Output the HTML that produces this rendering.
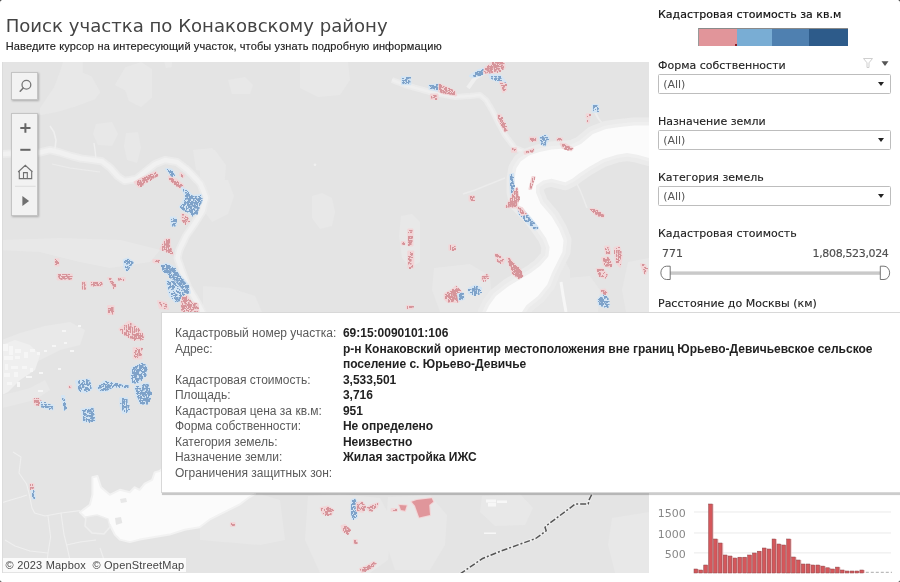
<!DOCTYPE html>
<html lang="ru"><head><meta charset="utf-8"><title>Поиск участка по Конаковскому району</title>
<style>
*{margin:0;padding:0;box-sizing:border-box}
html,body{width:900px;height:582px;overflow:hidden;background:#fff}
body{position:relative;font-family:"Liberation Sans","DejaVu Sans",sans-serif;color:#333}
.abs{position:absolute;white-space:nowrap}
#title{left:5.7px;top:14.9px;font-family:"DejaVu Sans",sans-serif;font-size:18.1px;line-height:22px;color:#444;font-weight:400}
#sub{left:5.8px;top:38.7px;font-size:11px;line-height:14px;color:#222;letter-spacing:0.125px;-webkit-text-stroke:0.15px #222}
#map{position:absolute;left:1.6px;top:62px;width:647.2px;height:510.8px;background:#e4e4e4;overflow:hidden;border-left:1px solid #dcdcdc}
#map>svg{position:absolute;left:-0.6px;top:0}
.ctl{position:absolute;left:8.8px;width:27px;background:#f2f2f2;border:1px solid #c4c4c4;box-shadow:1px 1px 2px rgba(0,0,0,.25)}
#attr{position:absolute;left:0.7px;top:495.8px;height:14.4px;padding:0 1.5px 0 2.3px;background:rgba(255,255,255,.8);font-size:11px;line-height:15px;color:#444;letter-spacing:0.2px}
#right{position:absolute;left:650px;top:0;width:250px;height:582px}
.rp{font-family:"DejaVu Sans",sans-serif;font-size:11px;color:#222}
.lbl{position:absolute;left:8px;line-height:13px;white-space:nowrap;-webkit-text-stroke:0.12px #222}
.dd{position:absolute;left:8.2px;width:233.1px;height:19.5px;border:1px solid #bdbdbd;border-radius:1.5px;background:#fff}
.dd span{position:absolute;left:4px;top:3px;color:#555;line-height:13px}
.dd i{position:absolute;right:6px;top:7px;width:0;height:0;border-left:3.5px solid transparent;border-right:3.5px solid transparent;border-top:4.5px solid #222}
#tip{position:absolute;left:161.4px;top:312.2px;width:745px;height:180.6px;background:#fff;border:1.4px solid #d8d8d8;box-shadow:1px 2px 0.8px rgba(0,0,0,.2)}
#tip .l{position:absolute;left:12.5px;color:#5a5a5a;font-size:12px;line-height:15.5px;white-space:nowrap}
#tip .v{position:absolute;left:180.5px;color:#222;font-weight:bold;font-size:12px;line-height:15.5px;white-space:nowrap}
</style></head><body>
<div id="title" class="abs">Поиск участка по Конаковскому району</div>
<div id="sub" class="abs">Наведите курсор на интересующий участок, чтобы узнать подробную информацию</div>

<div id="map">
<svg width="647" height="511" viewBox="2 62 647 511"><polygon points="300.0,62.0 348.0,62.0 350.0,80.0 340.0,95.0 318.0,97.0 300.0,88.0" fill="#e8e8e8"/>
<polygon points="228.0,80.0 245.0,77.0 253.0,85.0 250.0,94.0 232.0,94.0" fill="#e8e8e8"/>
<polygon points="200.0,153.0 215.0,150.0 226.0,165.0 224.0,190.0 210.0,200.0 200.0,195.0" fill="#e8e8e8"/>
<polygon points="308.0,496.0 340.0,494.0 380.0,498.0 392.0,520.0 388.0,560.0 370.0,573.0 320.0,573.0 305.0,540.0" fill="#e8e8e8"/>
<polygon points="567.0,278.0 590.0,276.0 600.0,290.0 598.0,312.0 567.0,312.0" fill="#e8e8e8"/>
<polygon points="628.0,262.0 649.0,258.0 649.0,312.0 626.0,312.0 622.0,290.0" fill="#e8e8e8"/>
<polygon points="545.0,262.0 562.0,255.0 570.0,270.0 570.0,312.0 528.0,312.0 535.0,290.0" fill="#e8e8e8"/>
<polygon points="312.0,196.0 322.0,193.0 332.0,198.0 335.0,212.0 332.0,226.0 320.0,229.0 312.0,218.0" fill="#e8e8e8"/>
<polygon points="401.0,216.0 412.0,214.0 420.0,222.0 420.0,262.0 410.0,268.0 402.0,258.0 399.0,236.0" fill="#e8e8e8"/>
<polygon points="204.0,180.0 228.0,180.0 234.0,196.0 228.0,214.0 212.0,222.0 203.0,210.0" fill="#e8e8e8"/>
<polygon points="203.0,286.0 230.0,288.0 255.0,296.0 262.0,312.0 203.0,312.0" fill="#e8e8e8"/>
<polygon points="434.0,268.0 470.0,264.0 490.0,276.0 492.0,300.0 480.0,312.0 440.0,312.0 432.0,290.0" fill="#e8e8e8"/>
<polygon points="63.0,62.0 82.7,62.0 82.7,72.7 91.6,76.2 100.4,92.2 95.0,99.3 75.6,106.4 57.8,111.8 40.0,115.3 40.0,108.0 47.0,97.6 54.2,87.0 59.6,72.7" fill="#e8e8e8"/>
<polygon points="125.3,67.3 141.3,62.0 152.0,69.0 152.0,97.6 141.3,107.3 128.9,101.0 125.3,90.4 114.7,85.0" fill="#e8e8e8"/>
<polygon points="164.4,62.0 172.0,62.0 171.6,67.3 166.0,68.0" fill="#e8e8e8"/>
<polygon points="96.0,124.0 112.0,122.0 118.0,134.0 112.0,146.0 98.0,145.0 93.0,134.0" fill="#e8e8e8"/>
<polygon points="126.0,133.0 138.0,132.0 141.0,148.0 137.0,163.0 127.0,160.0 124.0,146.0" fill="#e8e8e8"/>
<polygon points="193.0,150.0 212.0,148.0 222.0,160.0 212.0,172.0 196.0,170.0" fill="#e8e8e8"/>
<polygon points="0.0,250.0 40.0,252.0 80.0,262.0 110.0,268.0 150.0,262.0 160.0,250.0 120.0,240.0 60.0,238.0 0.0,240.0" fill="#e8e8e8"/>
<polygon points="388.0,497.0 430.0,495.0 447.0,515.0 445.0,545.0 430.0,570.0 395.0,570.0 385.0,540.0" fill="#e8e8e8"/>
<polygon points="482.0,496.0 520.0,494.0 533.0,508.0 525.0,525.0 495.0,526.0 480.0,512.0" fill="#e8e8e8"/>
<polygon points="612.0,518.0 649.0,512.0 649.0,573.0 615.0,573.0 608.0,545.0" fill="#e8e8e8"/>
<polygon points="330.0,470.0 420.0,475.0 430.0,494.0 320.0,494.0" fill="#e8e8e8"/>
<polygon points="2.0,340.0 20.0,333.0 45.0,326.0 70.0,322.0 85.0,330.0 80.0,345.0 60.0,350.0 40.0,360.0 25.0,372.0 10.0,385.0 2.0,388.0" fill="#e9e9e9"/>
<polygon points="2.0,345.0 15.0,340.0 30.0,345.0 40.0,355.0 35.0,370.0 20.0,380.0 8.0,392.0 2.0,395.0" fill="#efefef"/>
<polygon points="2.0,395.0 15.0,392.0 30.0,388.0 45.0,380.0 50.0,390.0 35.0,400.0 15.0,405.0 2.0,408.0" fill="#e8e8e8"/>
<rect x="3" y="344" width="5" height="7" fill="#f6f6f6"/>
<rect x="9" y="346" width="4" height="9" fill="#f6f6f6"/>
<rect x="15" y="349" width="6" height="4" fill="#f6f6f6"/>
<rect x="4" y="356" width="9" height="4" fill="#f6f6f6"/>
<rect x="15" y="356" width="5" height="3" fill="#f6f6f6"/>
<rect x="24" y="352" width="4" height="6" fill="#f6f6f6"/>
<rect x="30" y="349" width="5" height="3" fill="#f6f6f6"/>
<rect x="37" y="352" width="3" height="3" fill="#f6f6f6"/>
<rect x="5" y="364" width="3" height="6" fill="#f6f6f6"/>
<rect x="11" y="366" width="7" height="3" fill="#f6f6f6"/>
<rect x="4" y="373" width="6" height="4" fill="#f6f6f6"/>
<rect x="14" y="372" width="4" height="5" fill="#f6f6f6"/>
<rect x="22" y="366" width="5" height="3" fill="#f6f6f6"/>
<rect x="30" y="368" width="3" height="4" fill="#f6f6f6"/>
<rect x="7" y="382" width="5" height="3" fill="#f6f6f6"/>
<rect x="17" y="382" width="3" height="5" fill="#f6f6f6"/>
<rect x="26" y="376" width="6" height="2" fill="#f6f6f6"/>
<rect x="44" y="350" width="3" height="2" fill="#f6f6f6"/>
<rect x="52" y="345" width="4" height="2" fill="#f6f6f6"/>
<rect x="64" y="342" width="3" height="2" fill="#f6f6f6"/>
<rect x="70" y="350" width="4" height="2" fill="#f6f6f6"/>
<rect x="39" y="372" width="4" height="2" fill="#f6f6f6"/>
<rect x="58" y="368" width="3" height="2" fill="#f6f6f6"/>
<rect x="38" y="390" width="5" height="2" fill="#f6f6f6"/>
<rect x="78" y="325" width="3" height="2" fill="#f6f6f6"/>
<rect x="62" y="330" width="4" height="2" fill="#f6f6f6"/>
<polyline points="2.0,154.0 20.0,153.0 40.0,152.5 50.0,150.0 60.0,152.5 71.0,156.0 81.0,158.5 91.5,159.7 102.0,161.3 110.0,167.5 118.0,176.5 124.5,181.0 136.0,179.0 146.0,171.0 155.0,164.0 165.0,160.0 177.0,162.0 187.5,170.0 200.6,183.8 206.0,197.5 202.5,211.0 193.7,225.0 186.0,236.0 179.3,250.0 177.5,258.0 182.0,271.0 188.0,287.0 194.5,297.6 200.6,308.5 204.0,315.0" fill="none" stroke="#ebebeb" stroke-width="8" stroke-linejoin="round" stroke-linecap="round"/>
<polyline points="2.0,154.0 20.0,153.0 40.0,152.5 50.0,150.0 60.0,152.5 71.0,156.0 81.0,158.5 91.5,159.7 102.0,161.3 110.0,167.5 118.0,176.5 124.5,181.0 136.0,179.0 146.0,171.0 155.0,164.0 165.0,160.0 177.0,162.0 187.5,170.0 200.6,183.8 206.0,197.5 202.5,211.0 193.7,225.0 186.0,236.0 179.3,250.0 177.5,258.0 182.0,271.0 188.0,287.0 194.5,297.6 200.6,308.5 204.0,315.0" fill="none" stroke="#f1f1f1" stroke-width="4.5" stroke-linejoin="round" stroke-linecap="round"/>
<polyline points="55.0,149.0 56.0,140.0 54.0,132.0 50.0,126.0" fill="none" stroke="#efefef" stroke-width="1.6"/>
<polyline points="96.0,159.0 95.0,150.0 94.0,143.0" fill="none" stroke="#efefef" stroke-width="1.4"/>
<polyline points="52.0,164.0 70.0,168.0 85.0,170.0 100.0,172.0" fill="none" stroke="#ececec" stroke-width="1.2"/>
<polyline points="392.0,80.0 405.0,85.0 430.0,92.0 455.0,97.0 470.0,96.0 480.0,95.0 486.0,100.0 492.0,110.0 497.0,120.0 505.0,135.0 515.0,148.0 525.0,152.0" fill="none" stroke="#ebebeb" stroke-width="6" stroke-linejoin="round"/>
<polyline points="392.0,80.0 405.0,85.0 430.0,92.0 455.0,97.0 470.0,96.0 480.0,95.0 486.0,100.0 492.0,110.0 497.0,120.0 505.0,135.0 515.0,148.0 525.0,152.0" fill="none" stroke="#efefef" stroke-width="2.5" stroke-linejoin="round"/>
<polyline points="468.0,88.0 475.0,78.0 485.0,72.0 495.0,66.0 505.0,62.0" fill="none" stroke="#efefef" stroke-width="4" stroke-linejoin="round"/>
<polyline points="595.0,112.0 598.0,118.0 601.0,122.0 605.0,126.0 610.0,129.0" fill="none" stroke="#ececec" stroke-width="2" stroke-linejoin="round"/>
<polyline points="505.0,178.0 490.0,184.0 475.0,190.0 463.0,194.0" fill="none" stroke="#ececec" stroke-width="1.5"/>
<polyline points="575.0,180.0 580.0,190.0 584.0,200.0 587.0,208.0" fill="none" stroke="#ececec" stroke-width="1.5"/>
<polygon points="649.0,125.5 634.0,125.5 620.0,127.0 606.0,129.0 593.0,134.0 581.0,144.0 572.0,148.0 562.0,148.7 551.5,149.5 539.5,152.0 529.0,155.5 520.6,161.5 516.3,168.4 514.6,178.7 514.6,192.5 517.0,203.0 528.7,214.8 538.0,226.4 546.0,238.0 549.6,247.3 548.4,256.6 540.3,265.8 531.0,272.8 519.4,279.8 507.8,286.7 496.0,296.0 489.3,305.3 486.0,312.0 522.0,312.0 526.4,305.3 538.0,296.0 547.3,284.4 552.0,272.8 556.6,263.5 562.4,252.0 563.5,240.3 558.9,228.7 552.0,217.0 540.3,203.2 536.0,192.5 536.0,185.6 543.0,180.4 551.5,178.7 565.3,182.2 572.2,178.7 579.0,173.6 589.3,166.7 603.0,159.0 616.8,154.7 627.0,153.0 637.5,154.7 649.0,158.0" fill="#ebebeb" stroke="#ebebeb" stroke-width="16" stroke-linejoin="round"/>
<polygon points="649.0,125.5 634.0,125.5 620.0,127.0 606.0,129.0 593.0,134.0 581.0,144.0 572.0,148.0 562.0,148.7 551.5,149.5 539.5,152.0 529.0,155.5 520.6,161.5 516.3,168.4 514.6,178.7 514.6,192.5 517.0,203.0 528.7,214.8 538.0,226.4 546.0,238.0 549.6,247.3 548.4,256.6 540.3,265.8 531.0,272.8 519.4,279.8 507.8,286.7 496.0,296.0 489.3,305.3 486.0,312.0 522.0,312.0 526.4,305.3 538.0,296.0 547.3,284.4 552.0,272.8 556.6,263.5 562.4,252.0 563.5,240.3 558.9,228.7 552.0,217.0 540.3,203.2 536.0,192.5 536.0,185.6 543.0,180.4 551.5,178.7 565.3,182.2 572.2,178.7 579.0,173.6 589.3,166.7 603.0,159.0 616.8,154.7 627.0,153.0 637.5,154.7 649.0,158.0" fill="#efefef" stroke="#efefef" stroke-width="7" stroke-linejoin="round"/>
<polygon points="649.0,125.5 634.0,125.5 620.0,127.0 606.0,129.0 593.0,134.0 581.0,144.0 572.0,148.0 562.0,148.7 551.5,149.5 539.5,152.0 529.0,155.5 520.6,161.5 516.3,168.4 514.6,178.7 514.6,192.5 517.0,203.0 528.7,214.8 538.0,226.4 546.0,238.0 549.6,247.3 548.4,256.6 540.3,265.8 531.0,272.8 519.4,279.8 507.8,286.7 496.0,296.0 489.3,305.3 486.0,312.0 522.0,312.0 526.4,305.3 538.0,296.0 547.3,284.4 552.0,272.8 556.6,263.5 562.4,252.0 563.5,240.3 558.9,228.7 552.0,217.0 540.3,203.2 536.0,192.5 536.0,185.6 543.0,180.4 551.5,178.7 565.3,182.2 572.2,178.7 579.0,173.6 589.3,166.7 603.0,159.0 616.8,154.7 627.0,153.0 637.5,154.7 649.0,158.0" fill="#fbfbfb"/>
<polyline points="561.0,282.0 563.0,295.0 566.0,312.0" fill="none" stroke="#f6f6f6" stroke-width="3"/>
<circle cx="315" cy="164.7" r="1.3" fill="#f0f0f0"/>
<polygon points="200.0,494.0 260.0,494.0 280.0,500.0 285.0,540.0 260.0,545.0 200.0,540.0" fill="#e8e8e8"/>
<polygon points="92.4,477.3 97.4,476.0 101.0,487.3 109.8,494.8 119.8,489.8 129.8,492.3 134.7,487.3 139.7,489.8 144.7,483.6 152.2,479.8 154.7,472.4 159.6,471.0 163.0,468.0 255.0,468.0 255.0,494.0 249.3,497.3 239.4,504.7 229.4,509.7 219.4,514.7 209.5,519.7 199.5,527.2 184.6,529.7 169.6,534.6 154.7,537.1 139.7,539.6 129.8,542.1 119.8,539.6 114.8,534.6 109.8,524.7 97.4,522.2 84.9,517.2 79.9,512.2 89.9,504.7 92.4,494.8" fill="#fbfbfb" stroke="#f2f2f2" stroke-width="2" stroke-linejoin="round"/>
<polygon points="86.0,517.0 97.0,515.0 108.0,519.0 110.0,527.0 104.0,534.0 92.0,533.0 85.0,526.0" fill="#e6e6e6" stroke="#eeeeee" stroke-width="1.5"/>
<polygon points="115.0,518.0 121.0,517.0 122.3,523.0 116.0,525.0" fill="#e6e6e6"/>
<polygon points="120.0,499.0 126.0,498.0 127.0,502.0 121.0,503.0" fill="#e8e8e8"/>
<polyline points="13.0,452.0 21.0,457.0 19.0,473.0 26.6,484.0 29.3,494.6 32.0,508.0 34.6,513.0 45.0,516.0 61.0,513.0 80.0,510.6" fill="none" stroke="#efefef" stroke-width="1.1" stroke-linejoin="round"/>
<polyline points="2.5,502.6 10.7,500.0 21.0,497.0 27.0,495.0" fill="none" stroke="#efefef" stroke-width="1.1" stroke-linejoin="round"/>
<polyline points="48.0,516.0 50.6,537.0 48.0,553.0 46.0,572.0" fill="none" stroke="#efefef" stroke-width="1.1" stroke-linejoin="round"/>
<polyline points="61.0,513.0 64.0,534.6 66.6,545.0 70.0,560.0 68.0,572.0" fill="none" stroke="#efefef" stroke-width="1.1" stroke-linejoin="round"/>
<polyline points="5.0,540.0 15.0,546.0 30.0,551.0 48.0,553.0" fill="none" stroke="#efefef" stroke-width="1.1" stroke-linejoin="round"/>
<polyline points="66.6,545.0 80.0,542.0 96.0,540.0" fill="none" stroke="#efefef" stroke-width="1.1" stroke-linejoin="round"/>
<polyline points="100.0,548.0 104.0,560.0 108.0,572.0" fill="none" stroke="#efefef" stroke-width="1.1" stroke-linejoin="round"/>
<polyline points="460.0,574.0 482.0,558.8 500.7,551.1 535.7,538.5 546.2,530.8 545.0,527.3 547.3,525.0 575.3,504.0 588.2,504.0 589.3,499.3 593.0,492.0" fill="none" stroke="#efefef" stroke-width="3" stroke-linejoin="round"/>
<polyline points="460.0,574.0 482.0,558.8 500.7,551.1 535.7,538.5 546.2,530.8 545.0,527.3 547.3,525.0 575.3,504.0 588.2,504.0 589.3,499.3 593.0,492.0" fill="none" stroke="#555" stroke-width="1.5" stroke-dasharray="6,2,2,2" stroke-linejoin="round"/>
<rect x="486" y="499.5" width="10" height="3" fill="#f7f7f7"/>
<rect x="488" y="503" width="8" height="3.5" fill="#f7f7f7"/>
<rect x="497" y="500.5" width="10" height="2.5" fill="#f7f7f7"/>
<rect x="484" y="532.5" width="12" height="1.5" fill="#f7f7f7"/>
<defs><filter id="bl" x="-10%" y="-10%" width="120%" height="120%"><feGaussianBlur stdDeviation="0.4"/></filter></defs>
<polygon points="134.8,182.2 142.0,178.0 155.8,172.0 158.2,175.6 149.2,180.4 140.8,185.8 139.0,187.0" fill="#f2d6d8" stroke="#f2d6d8" stroke-width="2.2" stroke-linejoin="round"/>
<g fill="#d6949a" filter="url(#bl)"><rect x="155" y="172" width="1" height="2"/><rect x="154" y="173" width="1" height="1.5"/><rect x="150" y="174" width="1" height="2"/><rect x="151" y="174" width="1" height="1"/><rect x="152" y="174" width="1" height="1"/><rect x="156" y="174" width="2" height="1"/><rect x="148" y="175" width="1" height="1.5"/><rect x="149" y="175" width="1" height="1.5"/><rect x="150" y="175" width="1" height="1"/><rect x="153" y="175" width="1" height="1"/><rect x="155" y="175" width="2" height="1.5"/><rect x="156" y="175" width="2" height="1.5"/><rect x="157" y="175" width="1" height="1"/><rect x="146" y="176" width="1.5" height="2"/><rect x="149" y="176" width="1" height="1"/><rect x="150" y="176" width="1" height="1.5"/><rect x="151" y="176" width="2" height="2"/><rect x="152" y="176" width="1" height="1.5"/><rect x="153" y="176" width="1.5" height="2"/><rect x="155" y="176" width="1" height="1.5"/><rect x="156" y="176" width="1" height="1"/><rect x="144" y="177" width="2" height="1.5"/><rect x="147" y="177" width="2" height="1.5"/><rect x="148" y="177" width="1" height="2"/><rect x="149" y="177" width="1.5" height="1"/><rect x="151" y="177" width="2" height="1"/><rect x="152" y="177" width="2" height="1.5"/><rect x="142" y="178" width="2" height="1.5"/><rect x="144" y="178" width="1" height="1"/><rect x="145" y="178" width="1" height="1"/><rect x="147" y="178" width="1" height="1.5"/><rect x="148" y="178" width="1" height="2"/><rect x="149" y="178" width="1.5" height="1"/><rect x="151" y="178" width="1" height="2"/><rect x="143" y="179" width="2" height="2"/><rect x="144" y="179" width="2" height="1"/><rect x="145" y="179" width="1" height="2"/><rect x="146" y="179" width="1.5" height="1"/><rect x="147" y="179" width="1" height="1"/><rect x="150" y="179" width="1" height="2"/><rect x="138" y="180" width="1.5" height="1.5"/><rect x="140" y="180" width="1" height="2"/><rect x="142" y="180" width="2" height="1.5"/><rect x="143" y="180" width="1" height="1.5"/><rect x="145" y="180" width="1" height="1"/><rect x="146" y="180" width="1.5" height="1"/><rect x="137" y="181" width="1" height="1.5"/><rect x="138" y="181" width="1" height="1.5"/><rect x="140" y="181" width="1.5" height="1"/><rect x="144" y="181" width="1" height="2"/><rect x="146" y="181" width="2" height="1.5"/><rect x="137" y="182" width="1" height="1.5"/><rect x="138" y="182" width="1.5" height="1.5"/><rect x="139" y="182" width="1" height="1"/><rect x="140" y="182" width="1.5" height="1"/><rect x="141" y="182" width="1" height="2"/><rect x="143" y="182" width="1" height="1"/><rect x="137" y="183" width="1" height="2"/><rect x="139" y="183" width="2" height="2"/><rect x="140" y="183" width="1" height="1"/><rect x="141" y="183" width="1" height="1"/><rect x="142" y="183" width="2" height="1"/><rect x="137" y="184" width="1.5" height="1"/><rect x="138" y="184" width="1" height="1"/><rect x="139" y="184" width="1" height="1"/><rect x="140" y="184" width="1" height="1"/><rect x="141" y="184" width="1" height="1.5"/><rect x="142" y="184" width="1.5" height="1.5"/><rect x="138" y="185" width="1" height="1"/><rect x="140" y="185" width="2" height="2"/></g>
<polygon points="166.0,169.0 171.5,169.6 175.0,175.6 172.0,176.8 168.5,172.0" fill="#d4e5f4" stroke="#d4e5f4" stroke-width="2.2" stroke-linejoin="round"/>
<g fill="#7ea2c9" filter="url(#bl)"><rect x="167" y="169" width="1" height="1"/><rect x="168" y="170" width="1" height="2"/><rect x="170" y="170" width="1" height="1.5"/><rect x="168" y="171" width="2" height="1"/><rect x="170" y="171" width="1" height="1.5"/><rect x="171" y="171" width="1" height="2"/><rect x="172" y="171" width="1" height="2"/><rect x="169" y="172" width="1" height="1.5"/><rect x="170" y="172" width="2" height="1"/><rect x="171" y="173" width="1" height="2"/><rect x="172" y="173" width="1" height="2"/><rect x="173" y="173" width="1" height="1"/><rect x="170" y="174" width="1" height="1.5"/><rect x="173" y="174" width="1.5" height="1"/><rect x="171" y="175" width="1" height="2"/><rect x="172" y="175" width="1" height="2"/><rect x="174" y="175" width="1" height="1"/></g>
<polygon points="169.0,176.8 175.7,179.2 182.9,185.2 183.5,188.8 179.3,187.6 169.7,180.4" fill="#f2d6d8" stroke="#f2d6d8" stroke-width="2.2" stroke-linejoin="round"/>
<g fill="#d6949a" filter="url(#bl)"><rect x="169" y="178" width="2" height="1"/><rect x="170" y="178" width="1" height="1.5"/><rect x="171" y="178" width="2" height="2"/><rect x="169" y="179" width="1.5" height="1"/><rect x="170" y="179" width="1" height="1"/><rect x="171" y="179" width="1.5" height="1"/><rect x="173" y="179" width="1" height="2"/><rect x="171" y="180" width="2" height="1.5"/><rect x="172" y="180" width="1" height="1"/><rect x="173" y="180" width="1" height="1.5"/><rect x="171" y="181" width="1" height="1"/><rect x="172" y="181" width="1" height="2"/><rect x="173" y="181" width="2" height="1.5"/><rect x="175" y="181" width="1" height="1"/><rect x="177" y="181" width="1" height="1"/><rect x="174" y="182" width="1" height="1.5"/><rect x="175" y="182" width="1" height="1.5"/><rect x="176" y="182" width="1" height="1.5"/><rect x="177" y="182" width="1" height="1"/><rect x="178" y="182" width="1" height="2"/><rect x="174" y="183" width="2" height="2"/><rect x="175" y="183" width="2" height="1.5"/><rect x="178" y="183" width="1" height="2"/><rect x="176" y="184" width="1.5" height="2"/><rect x="177" y="184" width="1" height="2"/><rect x="180" y="184" width="1" height="1.5"/><rect x="181" y="184" width="1" height="1"/><rect x="176" y="185" width="1" height="1.5"/><rect x="177" y="185" width="1.5" height="1.5"/><rect x="178" y="185" width="1.5" height="1"/><rect x="179" y="185" width="1" height="1.5"/><rect x="180" y="185" width="2" height="1.5"/><rect x="181" y="185" width="1" height="1"/><rect x="182" y="185" width="1" height="1"/><rect x="178" y="186" width="1" height="1"/><rect x="179" y="186" width="1" height="2"/><rect x="180" y="186" width="1.5" height="1"/><rect x="181" y="186" width="1" height="2"/><rect x="180" y="187" width="1.5" height="1"/><rect x="181" y="187" width="2" height="1"/></g>
<polygon points="181.7,187.6 187.7,191.2 192.5,196.0 201.0,194.9 202.0,200.9 198.5,206.9 197.3,212.9 192.5,215.3 187.7,211.7 181.7,209.3 179.9,206.9 182.9,202.0 185.3,196.0" fill="#d4e5f4" stroke="#d4e5f4" stroke-width="2.2" stroke-linejoin="round"/>
<g fill="#7ea2c9" filter="url(#bl)"><rect x="183" y="189" width="1" height="1"/><rect x="183" y="190" width="1" height="1.5"/><rect x="185" y="190" width="2" height="1"/><rect x="187" y="191" width="1" height="1"/><rect x="185" y="192" width="2" height="1.5"/><rect x="188" y="192" width="1" height="1"/><rect x="187" y="193" width="2" height="1.5"/><rect x="186" y="194" width="1" height="1.5"/><rect x="187" y="194" width="1.5" height="1"/><rect x="188" y="194" width="1" height="2"/><rect x="189" y="194" width="1" height="1"/><rect x="185" y="195" width="1.5" height="2"/><rect x="186" y="195" width="1" height="1"/><rect x="187" y="195" width="1" height="2"/><rect x="188" y="195" width="2" height="1"/><rect x="191" y="195" width="1.5" height="2"/><rect x="200" y="195" width="1" height="1"/><rect x="186" y="196" width="1.5" height="1.5"/><rect x="187" y="196" width="1.5" height="1"/><rect x="189" y="196" width="2" height="2"/><rect x="190" y="196" width="1" height="2"/><rect x="192" y="196" width="1" height="2"/><rect x="193" y="196" width="1.5" height="1"/><rect x="195" y="196" width="1.5" height="2"/><rect x="196" y="196" width="1" height="1"/><rect x="198" y="196" width="1.5" height="1"/><rect x="199" y="196" width="1" height="1.5"/><rect x="187" y="197" width="1" height="1.5"/><rect x="189" y="197" width="1.5" height="2"/><rect x="191" y="197" width="1.5" height="2"/><rect x="199" y="197" width="2" height="2"/><rect x="185" y="198" width="1.5" height="2"/><rect x="186" y="198" width="1" height="1"/><rect x="187" y="198" width="1.5" height="1.5"/><rect x="188" y="198" width="1.5" height="2"/><rect x="190" y="198" width="2" height="1"/><rect x="191" y="198" width="1" height="1"/><rect x="192" y="198" width="2" height="1"/><rect x="193" y="198" width="1.5" height="2"/><rect x="194" y="198" width="1" height="1"/><rect x="195" y="198" width="1.5" height="1"/><rect x="196" y="198" width="1.5" height="1.5"/><rect x="198" y="198" width="1" height="2"/><rect x="199" y="198" width="1" height="2"/><rect x="200" y="198" width="1" height="2"/><rect x="201" y="198" width="1.5" height="1"/><rect x="188" y="199" width="1" height="2"/><rect x="189" y="199" width="2" height="2"/><rect x="193" y="199" width="1" height="2"/><rect x="196" y="199" width="2" height="1"/><rect x="197" y="199" width="2" height="2"/><rect x="198" y="199" width="1" height="1"/><rect x="199" y="199" width="1" height="2"/><rect x="200" y="199" width="1" height="1"/><rect x="184" y="200" width="1" height="1.5"/><rect x="188" y="200" width="1" height="1"/><rect x="189" y="200" width="1" height="2"/><rect x="190" y="200" width="1" height="1"/><rect x="193" y="200" width="1.5" height="1"/><rect x="195" y="200" width="1" height="1"/><rect x="198" y="200" width="1" height="1"/><rect x="201" y="200" width="1.5" height="1"/><rect x="185" y="201" width="1" height="1.5"/><rect x="187" y="201" width="2" height="1"/><rect x="188" y="201" width="1.5" height="1"/><rect x="189" y="201" width="1" height="1.5"/><rect x="191" y="201" width="2" height="1"/><rect x="192" y="201" width="1.5" height="1"/><rect x="195" y="201" width="1" height="2"/><rect x="196" y="201" width="1" height="1"/><rect x="198" y="201" width="1" height="1"/><rect x="199" y="201" width="1" height="1"/><rect x="200" y="201" width="1.5" height="1"/><rect x="184" y="202" width="1" height="2"/><rect x="185" y="202" width="2" height="1.5"/><rect x="187" y="202" width="1" height="1"/><rect x="188" y="202" width="1" height="1.5"/><rect x="189" y="202" width="1" height="1"/><rect x="190" y="202" width="1.5" height="2"/><rect x="191" y="202" width="2" height="1"/><rect x="192" y="202" width="2" height="1"/><rect x="193" y="202" width="2" height="1"/><rect x="195" y="202" width="2" height="1"/><rect x="196" y="202" width="2" height="1"/><rect x="198" y="202" width="1" height="1"/><rect x="200" y="202" width="1.5" height="1.5"/><rect x="184" y="203" width="1.5" height="1.5"/><rect x="185" y="203" width="1" height="1"/><rect x="187" y="203" width="2" height="2"/><rect x="191" y="203" width="2" height="1"/><rect x="192" y="203" width="1.5" height="1"/><rect x="194" y="203" width="1.5" height="2"/><rect x="195" y="203" width="1" height="1"/><rect x="196" y="203" width="1" height="1"/><rect x="197" y="203" width="1" height="2"/><rect x="199" y="203" width="2" height="1"/><rect x="182" y="204" width="1" height="1"/><rect x="183" y="204" width="2" height="2"/><rect x="184" y="204" width="1" height="2"/><rect x="185" y="204" width="1" height="1"/><rect x="187" y="204" width="1.5" height="1.5"/><rect x="188" y="204" width="1.5" height="1"/><rect x="189" y="204" width="1" height="1"/><rect x="190" y="204" width="1.5" height="1"/><rect x="191" y="204" width="2" height="1.5"/><rect x="194" y="204" width="1" height="2"/><rect x="196" y="204" width="2" height="1"/><rect x="199" y="204" width="1.5" height="1"/><rect x="181" y="205" width="1" height="1"/><rect x="183" y="205" width="1" height="2"/><rect x="187" y="205" width="1.5" height="1"/><rect x="188" y="205" width="1.5" height="1"/><rect x="189" y="205" width="1.5" height="1"/><rect x="192" y="205" width="1" height="1.5"/><rect x="193" y="205" width="1.5" height="1"/><rect x="195" y="205" width="1" height="2"/><rect x="197" y="205" width="1" height="2"/><rect x="199" y="205" width="1" height="1"/><rect x="180" y="206" width="1.5" height="2"/><rect x="183" y="206" width="1" height="1.5"/><rect x="186" y="206" width="1" height="1.5"/><rect x="188" y="206" width="2" height="1"/><rect x="190" y="206" width="1" height="2"/><rect x="191" y="206" width="1" height="2"/><rect x="193" y="206" width="1" height="1"/><rect x="194" y="206" width="1" height="2"/><rect x="195" y="206" width="1.5" height="1"/><rect x="196" y="206" width="1.5" height="1"/><rect x="180" y="207" width="2" height="1"/><rect x="181" y="207" width="1" height="2"/><rect x="182" y="207" width="2" height="1"/><rect x="186" y="207" width="1" height="2"/><rect x="188" y="207" width="2" height="1"/><rect x="190" y="207" width="1" height="2"/><rect x="191" y="207" width="1" height="1"/><rect x="194" y="207" width="1" height="1.5"/><rect x="195" y="207" width="2" height="1.5"/><rect x="197" y="207" width="1" height="2"/><rect x="198" y="207" width="1.5" height="2"/><rect x="182" y="208" width="1" height="2"/><rect x="183" y="208" width="2" height="2"/><rect x="186" y="208" width="1" height="1"/><rect x="187" y="208" width="1.5" height="1"/><rect x="191" y="208" width="1" height="1"/><rect x="193" y="208" width="1" height="1"/><rect x="182" y="209" width="1" height="1"/><rect x="183" y="209" width="2" height="1.5"/><rect x="186" y="209" width="1" height="1"/><rect x="189" y="209" width="1.5" height="1.5"/><rect x="191" y="209" width="1.5" height="2"/><rect x="192" y="209" width="1.5" height="1"/><rect x="193" y="209" width="1" height="1"/><rect x="194" y="209" width="1" height="1.5"/><rect x="197" y="209" width="1.5" height="1"/><rect x="185" y="210" width="1.5" height="2"/><rect x="189" y="210" width="2" height="1.5"/><rect x="190" y="210" width="1.5" height="1"/><rect x="191" y="210" width="1" height="2"/><rect x="192" y="210" width="1" height="1.5"/><rect x="194" y="210" width="1.5" height="1"/><rect x="196" y="210" width="1.5" height="2"/><rect x="197" y="210" width="1.5" height="1"/><rect x="186" y="211" width="1" height="1"/><rect x="187" y="211" width="1" height="1.5"/><rect x="188" y="211" width="1.5" height="1"/><rect x="189" y="211" width="1.5" height="1"/><rect x="190" y="211" width="2" height="1"/><rect x="191" y="211" width="1" height="1"/><rect x="192" y="211" width="1" height="1"/><rect x="195" y="211" width="1.5" height="1"/><rect x="196" y="211" width="1.5" height="2"/><rect x="190" y="212" width="1" height="1"/><rect x="191" y="212" width="1" height="2"/><rect x="192" y="212" width="1" height="1"/><rect x="194" y="212" width="1" height="1"/><rect x="195" y="212" width="2" height="1"/><rect x="197" y="212" width="1" height="2"/><rect x="191" y="213" width="2" height="2"/><rect x="192" y="213" width="2" height="1"/><rect x="193" y="213" width="1" height="1.5"/><rect x="194" y="213" width="1" height="1"/><rect x="195" y="213" width="1.5" height="1"/><rect x="196" y="213" width="2" height="1.5"/><rect x="191" y="214" width="1" height="1"/><rect x="193" y="214" width="1.5" height="1"/><rect x="192" y="215" width="1" height="1.5"/></g>
<polygon points="181.7,214.0 186.5,215.3 189.0,221.3 185.3,223.7 181.7,220.0" fill="#f2d6d8" stroke="#f2d6d8" stroke-width="2.2" stroke-linejoin="round"/>
<g fill="#d6949a" filter="url(#bl)"><rect x="182" y="214" width="2" height="1.5"/><rect x="185" y="216" width="1" height="2"/><rect x="182" y="217" width="1.5" height="1"/><rect x="186" y="217" width="1" height="1"/><rect x="187" y="217" width="1" height="1.5"/><rect x="184" y="218" width="1" height="1"/><rect x="187" y="218" width="1.5" height="1"/><rect x="185" y="219" width="2" height="1"/><rect x="186" y="219" width="1" height="1"/><rect x="187" y="219" width="1" height="1.5"/><rect x="182" y="220" width="1" height="1.5"/><rect x="183" y="220" width="2" height="1.5"/><rect x="184" y="220" width="1.5" height="1.5"/><rect x="185" y="220" width="1.5" height="1.5"/><rect x="183" y="221" width="1" height="2"/><rect x="184" y="221" width="1" height="1.5"/><rect x="186" y="221" width="1" height="1"/><rect x="188" y="221" width="2" height="1"/><rect x="185" y="222" width="1" height="1"/><rect x="185" y="223" width="1" height="2"/></g>
<polygon points="170.9,217.7 175.7,217.7 176.3,225.0 171.5,225.5" fill="#d4e5f4" stroke="#d4e5f4" stroke-width="2.2" stroke-linejoin="round"/>
<g fill="#7ea2c9" filter="url(#bl)"><rect x="173" y="218" width="1" height="1.5"/><rect x="171" y="219" width="1" height="1"/><rect x="174" y="219" width="1" height="1.5"/><rect x="175" y="219" width="2" height="2"/><rect x="173" y="220" width="1" height="1.5"/><rect x="174" y="220" width="1.5" height="2"/><rect x="171" y="221" width="2" height="1"/><rect x="173" y="221" width="1" height="1.5"/><rect x="175" y="221" width="2" height="1.5"/><rect x="171" y="222" width="2" height="1.5"/><rect x="173" y="222" width="2" height="1"/><rect x="174" y="222" width="1.5" height="1.5"/><rect x="172" y="224" width="1" height="1.5"/><rect x="174" y="224" width="1" height="1"/><rect x="172" y="225" width="2" height="1"/></g>
<polygon points="180.5,173.0 184.0,175.6 183.0,177.0 180.0,175.0" fill="#f2d6d8" stroke="#f2d6d8" stroke-width="2.2" stroke-linejoin="round"/>
<g fill="#d6949a" filter="url(#bl)"><rect x="181" y="174" width="1" height="1"/><rect x="181" y="175" width="1" height="2"/><rect x="182" y="175" width="1" height="2"/><rect x="182" y="176" width="1" height="1.5"/></g>
<polygon points="160.5,249.0 165.0,239.7 169.7,238.9 169.7,245.0 172.8,254.4 168.2,252.0" fill="#f2d6d8" stroke="#f2d6d8" stroke-width="2.2" stroke-linejoin="round"/>
<g fill="#d6949a" filter="url(#bl)"><rect x="166" y="239" width="1" height="1.5"/><rect x="168" y="239" width="2" height="1"/><rect x="166" y="240" width="2" height="1"/><rect x="168" y="240" width="1" height="1"/><rect x="168" y="240" width="2" height="2"/><rect x="164" y="241" width="1" height="2"/><rect x="166" y="241" width="2" height="1"/><rect x="166" y="241" width="2" height="2"/><rect x="168" y="241" width="2" height="1"/><rect x="164" y="242" width="1" height="2"/><rect x="166" y="242" width="1.5" height="1"/><rect x="168" y="242" width="1" height="1.5"/><rect x="168" y="242" width="2" height="1"/><rect x="164" y="243" width="1.5" height="1.5"/><rect x="166" y="243" width="2" height="1"/><rect x="168" y="243" width="1" height="1.5"/><rect x="168" y="243" width="1.5" height="1.5"/><rect x="162" y="244" width="1" height="1"/><rect x="164" y="244" width="2" height="1.5"/><rect x="164" y="244" width="1" height="1"/><rect x="166" y="244" width="2" height="1"/><rect x="168" y="244" width="1" height="1"/><rect x="164" y="245" width="1" height="2"/><rect x="164" y="245" width="1" height="1"/><rect x="166" y="245" width="2" height="2"/><rect x="168" y="245" width="2" height="1.5"/><rect x="162" y="246" width="2" height="1.5"/><rect x="166" y="246" width="1.5" height="1.5"/><rect x="166" y="246" width="1.5" height="1.5"/><rect x="168" y="246" width="2" height="1"/><rect x="168" y="246" width="1.5" height="1"/><rect x="162" y="247" width="1.5" height="1"/><rect x="164" y="247" width="1.5" height="1"/><rect x="164" y="247" width="1" height="1"/><rect x="166" y="247" width="1.5" height="1"/><rect x="166" y="247" width="1" height="1"/><rect x="168" y="247" width="1" height="1"/><rect x="162" y="248" width="1" height="1.5"/><rect x="162" y="248" width="1" height="1"/><rect x="164" y="248" width="1" height="1"/><rect x="166" y="248" width="1" height="1"/><rect x="166" y="248" width="1" height="2"/><rect x="168" y="248" width="1" height="2"/><rect x="168" y="248" width="1" height="1"/><rect x="170" y="248" width="1.5" height="2"/><rect x="162" y="249" width="1.5" height="2"/><rect x="164" y="249" width="2" height="1"/><rect x="164" y="249" width="1.5" height="1"/><rect x="166" y="249" width="1" height="1.5"/><rect x="168" y="249" width="2" height="2"/><rect x="170" y="249" width="1" height="2"/><rect x="170" y="249" width="1.5" height="1"/><rect x="166" y="250" width="2" height="1"/><rect x="166" y="250" width="1.5" height="2"/><rect x="168" y="250" width="1" height="1.5"/><rect x="168" y="250" width="2" height="2"/><rect x="170" y="250" width="1.5" height="1.5"/><rect x="166" y="251" width="1" height="1.5"/><rect x="168" y="251" width="1.5" height="1"/><rect x="168" y="251" width="1" height="1"/><rect x="170" y="251" width="2" height="1"/><rect x="170" y="251" width="1" height="1"/><rect x="168" y="252" width="2" height="1"/><rect x="172" y="252" width="1" height="1"/><rect x="170" y="253" width="2" height="1"/><rect x="172" y="253" width="1" height="1"/></g>
<polygon points="161.2,265.2 166.6,263.6 174.4,267.5 179.0,274.5 188.3,285.3 189.8,293.0 185.2,293.0 179.0,286.8 168.2,274.5 163.5,271.4" fill="#d4e5f4" stroke="#d4e5f4" stroke-width="2.2" stroke-linejoin="round"/>
<g fill="#7ea2c9" filter="url(#bl)"><rect x="165" y="264" width="1" height="1"/><rect x="166" y="264" width="1" height="1.5"/><rect x="161" y="265" width="1.5" height="1.5"/><rect x="162" y="265" width="1" height="1.5"/><rect x="163" y="265" width="1" height="2"/><rect x="164" y="265" width="1" height="1"/><rect x="166" y="265" width="2" height="2"/><rect x="167" y="265" width="2" height="1"/><rect x="168" y="265" width="2" height="1"/><rect x="161" y="266" width="2" height="1"/><rect x="164" y="266" width="1" height="1"/><rect x="167" y="266" width="1" height="1"/><rect x="168" y="266" width="1.5" height="1"/><rect x="169" y="266" width="1" height="1"/><rect x="170" y="266" width="1" height="1"/><rect x="162" y="267" width="2" height="2"/><rect x="166" y="267" width="1" height="1"/><rect x="167" y="267" width="1" height="2"/><rect x="168" y="267" width="1" height="2"/><rect x="169" y="267" width="1.5" height="1.5"/><rect x="172" y="267" width="1" height="1"/><rect x="163" y="268" width="1" height="2"/><rect x="164" y="268" width="2" height="1.5"/><rect x="166" y="268" width="1.5" height="1.5"/><rect x="167" y="268" width="1.5" height="1"/><rect x="169" y="268" width="1.5" height="2"/><rect x="171" y="268" width="2" height="2"/><rect x="172" y="268" width="1" height="2"/><rect x="173" y="268" width="1" height="1.5"/><rect x="174" y="268" width="2" height="1"/><rect x="162" y="269" width="1" height="1.5"/><rect x="166" y="269" width="1.5" height="2"/><rect x="167" y="269" width="1" height="2"/><rect x="169" y="269" width="1" height="1.5"/><rect x="170" y="269" width="2" height="2"/><rect x="173" y="269" width="1" height="2"/><rect x="174" y="269" width="1" height="1.5"/><rect x="164" y="270" width="1.5" height="1.5"/><rect x="165" y="270" width="1" height="1"/><rect x="166" y="270" width="1" height="1"/><rect x="168" y="270" width="1.5" height="2"/><rect x="171" y="270" width="2" height="1.5"/><rect x="173" y="270" width="2" height="1"/><rect x="174" y="270" width="1" height="1.5"/><rect x="175" y="270" width="1" height="1"/><rect x="163" y="271" width="2" height="1"/><rect x="164" y="271" width="1.5" height="2"/><rect x="165" y="271" width="2" height="1"/><rect x="166" y="271" width="1" height="1.5"/><rect x="167" y="271" width="1" height="2"/><rect x="168" y="271" width="1" height="1"/><rect x="169" y="271" width="2" height="2"/><rect x="172" y="271" width="2" height="1"/><rect x="174" y="271" width="1.5" height="1"/><rect x="165" y="272" width="2" height="1"/><rect x="166" y="272" width="1" height="1"/><rect x="167" y="272" width="1.5" height="1.5"/><rect x="168" y="272" width="1" height="1"/><rect x="169" y="272" width="2" height="1"/><rect x="170" y="272" width="1.5" height="1"/><rect x="173" y="272" width="2" height="1"/><rect x="174" y="272" width="1.5" height="1.5"/><rect x="175" y="272" width="1.5" height="2"/><rect x="176" y="272" width="2" height="1"/><rect x="169" y="273" width="1" height="1"/><rect x="170" y="273" width="1" height="1"/><rect x="174" y="273" width="2" height="1"/><rect x="176" y="273" width="1" height="1"/><rect x="177" y="273" width="1.5" height="1.5"/><rect x="168" y="274" width="1.5" height="1"/><rect x="169" y="274" width="1" height="1"/><rect x="171" y="274" width="1" height="2"/><rect x="173" y="274" width="2" height="1"/><rect x="174" y="274" width="1.5" height="1.5"/><rect x="175" y="274" width="1" height="1.5"/><rect x="176" y="274" width="1.5" height="2"/><rect x="178" y="274" width="1" height="1"/><rect x="169" y="275" width="1.5" height="1"/><rect x="170" y="275" width="1" height="1.5"/><rect x="171" y="275" width="1.5" height="1"/><rect x="173" y="275" width="1.5" height="2"/><rect x="175" y="275" width="1.5" height="1"/><rect x="177" y="275" width="1.5" height="1"/><rect x="178" y="275" width="1.5" height="1"/><rect x="169" y="276" width="1" height="2"/><rect x="170" y="276" width="1" height="1"/><rect x="172" y="276" width="1" height="1"/><rect x="173" y="276" width="1" height="1"/><rect x="177" y="276" width="1" height="1"/><rect x="178" y="276" width="1" height="1"/><rect x="179" y="276" width="2" height="1"/><rect x="170" y="277" width="1.5" height="1.5"/><rect x="171" y="277" width="2" height="1"/><rect x="172" y="277" width="2" height="1"/><rect x="174" y="277" width="1" height="1.5"/><rect x="175" y="277" width="1.5" height="1"/><rect x="176" y="277" width="2" height="1"/><rect x="177" y="277" width="1" height="1.5"/><rect x="180" y="277" width="1" height="1.5"/><rect x="173" y="278" width="1" height="1"/><rect x="174" y="278" width="1" height="1"/><rect x="176" y="278" width="1.5" height="1.5"/><rect x="177" y="278" width="1" height="1"/><rect x="178" y="278" width="1" height="1.5"/><rect x="179" y="278" width="2" height="1"/><rect x="181" y="278" width="1" height="1"/><rect x="172" y="279" width="1" height="2"/><rect x="173" y="279" width="1.5" height="1"/><rect x="174" y="279" width="2" height="1"/><rect x="175" y="279" width="1" height="1"/><rect x="176" y="279" width="2" height="2"/><rect x="177" y="279" width="1" height="2"/><rect x="179" y="279" width="1" height="2"/><rect x="181" y="279" width="1.5" height="1.5"/><rect x="182" y="279" width="1.5" height="2"/><rect x="174" y="280" width="1.5" height="2"/><rect x="176" y="280" width="1" height="1.5"/><rect x="177" y="280" width="2" height="1"/><rect x="178" y="280" width="1" height="1"/><rect x="179" y="280" width="1" height="1"/><rect x="180" y="280" width="2" height="2"/><rect x="177" y="281" width="1.5" height="1.5"/><rect x="180" y="281" width="1" height="1.5"/><rect x="181" y="281" width="1" height="2"/><rect x="182" y="281" width="1" height="1.5"/><rect x="183" y="281" width="1.5" height="1"/><rect x="175" y="282" width="1.5" height="1"/><rect x="176" y="282" width="1" height="2"/><rect x="177" y="282" width="1" height="1.5"/><rect x="179" y="282" width="1.5" height="1"/><rect x="182" y="282" width="2" height="1"/><rect x="184" y="282" width="1.5" height="2"/><rect x="177" y="283" width="2" height="2"/><rect x="179" y="283" width="1.5" height="1"/><rect x="180" y="283" width="2" height="2"/><rect x="181" y="283" width="1.5" height="1"/><rect x="183" y="283" width="1.5" height="2"/><rect x="184" y="283" width="1" height="1.5"/><rect x="185" y="283" width="1" height="1"/><rect x="176" y="284" width="1.5" height="2"/><rect x="178" y="284" width="2" height="1.5"/><rect x="180" y="284" width="1" height="1"/><rect x="181" y="284" width="1.5" height="1"/><rect x="183" y="284" width="1.5" height="1"/><rect x="177" y="285" width="1" height="2"/><rect x="179" y="285" width="1" height="2"/><rect x="180" y="285" width="1" height="2"/><rect x="182" y="285" width="1" height="2"/><rect x="185" y="285" width="1.5" height="1.5"/><rect x="186" y="285" width="2" height="1.5"/><rect x="187" y="285" width="2" height="2"/><rect x="178" y="286" width="1" height="1.5"/><rect x="180" y="286" width="2" height="1"/><rect x="181" y="286" width="1.5" height="1.5"/><rect x="183" y="286" width="1" height="1.5"/><rect x="184" y="286" width="2" height="1"/><rect x="185" y="286" width="1.5" height="2"/><rect x="186" y="286" width="1.5" height="2"/><rect x="187" y="286" width="2" height="2"/><rect x="179" y="287" width="1" height="1.5"/><rect x="180" y="287" width="1" height="1"/><rect x="181" y="287" width="1" height="2"/><rect x="182" y="287" width="2" height="1"/><rect x="185" y="287" width="2" height="1.5"/><rect x="180" y="288" width="1.5" height="1.5"/><rect x="181" y="288" width="1" height="1.5"/><rect x="182" y="288" width="1" height="1.5"/><rect x="187" y="288" width="1" height="1.5"/><rect x="181" y="289" width="1" height="2"/><rect x="182" y="289" width="1" height="1.5"/><rect x="183" y="289" width="1" height="2"/><rect x="184" y="289" width="1" height="1.5"/><rect x="186" y="289" width="1.5" height="2"/><rect x="188" y="289" width="1" height="1"/><rect x="182" y="290" width="1.5" height="1"/><rect x="183" y="290" width="2" height="1"/><rect x="184" y="290" width="1" height="1"/><rect x="185" y="290" width="1" height="2"/><rect x="187" y="290" width="1" height="1"/><rect x="183" y="291" width="1" height="1"/><rect x="184" y="291" width="1" height="1"/><rect x="185" y="291" width="1" height="1"/><rect x="186" y="291" width="2" height="2"/><rect x="187" y="291" width="1" height="2"/><rect x="188" y="291" width="1" height="2"/><rect x="184" y="292" width="1" height="1"/><rect x="185" y="292" width="1" height="1"/><rect x="186" y="292" width="2" height="1.5"/><rect x="187" y="292" width="1.5" height="2"/></g>
<polygon points="166.6,280.6 172.8,280.6 182.9,291.5 183.6,297.6 175.9,302.3 169.7,296.0 167.4,286.8" fill="#d4e5f4" stroke="#d4e5f4" stroke-width="2.2" stroke-linejoin="round"/>
<g fill="#7ea2c9" filter="url(#bl)"><rect x="167" y="281" width="2" height="1"/><rect x="171" y="281" width="1" height="1"/><rect x="172" y="281" width="1.5" height="2"/><rect x="173" y="281" width="1.5" height="2"/><rect x="168" y="282" width="2" height="1.5"/><rect x="170" y="282" width="1" height="2"/><rect x="173" y="282" width="1" height="2"/><rect x="174" y="282" width="1" height="2"/><rect x="167" y="283" width="1" height="1.5"/><rect x="169" y="283" width="1" height="1"/><rect x="170" y="283" width="1" height="2"/><rect x="173" y="283" width="1.5" height="1.5"/><rect x="174" y="283" width="2" height="2"/><rect x="168" y="284" width="2" height="1"/><rect x="169" y="284" width="2" height="1"/><rect x="170" y="285" width="1" height="1"/><rect x="172" y="285" width="2" height="1"/><rect x="175" y="285" width="2" height="1"/><rect x="169" y="286" width="1" height="1"/><rect x="170" y="286" width="1.5" height="1.5"/><rect x="171" y="286" width="1.5" height="1"/><rect x="172" y="286" width="1" height="2"/><rect x="173" y="286" width="2" height="2"/><rect x="177" y="286" width="1.5" height="1"/><rect x="168" y="287" width="1.5" height="2"/><rect x="169" y="287" width="2" height="1"/><rect x="173" y="287" width="1.5" height="1"/><rect x="174" y="287" width="1" height="1"/><rect x="168" y="288" width="1" height="1.5"/><rect x="172" y="288" width="2" height="1.5"/><rect x="177" y="288" width="1.5" height="1"/><rect x="171" y="289" width="1.5" height="1"/><rect x="179" y="289" width="1" height="1.5"/><rect x="176" y="290" width="1" height="2"/><rect x="181" y="290" width="1.5" height="1"/><rect x="173" y="291" width="1" height="1"/><rect x="176" y="291" width="1.5" height="1"/><rect x="177" y="291" width="2" height="2"/><rect x="178" y="291" width="1" height="1"/><rect x="169" y="292" width="1" height="1"/><rect x="174" y="292" width="1" height="2"/><rect x="177" y="292" width="1.5" height="1"/><rect x="179" y="292" width="1" height="1.5"/><rect x="180" y="292" width="1" height="1.5"/><rect x="182" y="292" width="1.5" height="2"/><rect x="171" y="293" width="1" height="1"/><rect x="172" y="293" width="2" height="1"/><rect x="174" y="293" width="1.5" height="1"/><rect x="179" y="293" width="1.5" height="1"/><rect x="171" y="294" width="1" height="1"/><rect x="172" y="294" width="1" height="1"/><rect x="175" y="294" width="1" height="1"/><rect x="176" y="294" width="1.5" height="1.5"/><rect x="180" y="294" width="1" height="1.5"/><rect x="182" y="294" width="1" height="1"/><rect x="183" y="294" width="2" height="1"/><rect x="173" y="295" width="1.5" height="1"/><rect x="174" y="295" width="1" height="1"/><rect x="175" y="295" width="2" height="1"/><rect x="179" y="295" width="1.5" height="1"/><rect x="180" y="295" width="2" height="1"/><rect x="181" y="295" width="1" height="2"/><rect x="183" y="295" width="1" height="1"/><rect x="171" y="296" width="1.5" height="1"/><rect x="175" y="296" width="1" height="1.5"/><rect x="180" y="296" width="2" height="1"/><rect x="182" y="296" width="1.5" height="1.5"/><rect x="174" y="297" width="1.5" height="1"/><rect x="176" y="297" width="2" height="1"/><rect x="177" y="297" width="1.5" height="2"/><rect x="179" y="297" width="2" height="2"/><rect x="180" y="297" width="1" height="1"/><rect x="182" y="297" width="1" height="1"/><rect x="172" y="298" width="1" height="1"/><rect x="174" y="298" width="2" height="1"/><rect x="176" y="298" width="1" height="1"/><rect x="180" y="298" width="1" height="1"/><rect x="175" y="299" width="2" height="1"/><rect x="176" y="299" width="1" height="2"/><rect x="177" y="299" width="1.5" height="1"/><rect x="178" y="299" width="1" height="2"/><rect x="179" y="299" width="1" height="2"/><rect x="181" y="299" width="1" height="1"/><rect x="176" y="300" width="1.5" height="1"/><rect x="178" y="300" width="1.5" height="1.5"/><rect x="175" y="301" width="1.5" height="1"/><rect x="177" y="301" width="1" height="1"/></g>
<polygon points="182.1,297.6 186.7,296.0 191.4,302.3 197.5,303.8 198.3,312.0 182.1,312.0 181.3,305.4" fill="#f2d6d8" stroke="#f2d6d8" stroke-width="2.2" stroke-linejoin="round"/>
<g fill="#d6949a" filter="url(#bl)"><rect x="186" y="296" width="1" height="2"/><rect x="182" y="297" width="2" height="1"/><rect x="184" y="297" width="1" height="1.5"/><rect x="185" y="297" width="1.5" height="2"/><rect x="182" y="298" width="1.5" height="2"/><rect x="183" y="298" width="1.5" height="1"/><rect x="184" y="298" width="2" height="1"/><rect x="186" y="298" width="1" height="2"/><rect x="184" y="299" width="1" height="1"/><rect x="185" y="299" width="1" height="1.5"/><rect x="188" y="299" width="1" height="1.5"/><rect x="183" y="300" width="2" height="2"/><rect x="185" y="300" width="1.5" height="2"/><rect x="186" y="300" width="1" height="1"/><rect x="187" y="300" width="1" height="1"/><rect x="189" y="300" width="2" height="1.5"/><rect x="181" y="301" width="1.5" height="1.5"/><rect x="186" y="301" width="1" height="1"/><rect x="190" y="301" width="1.5" height="1"/><rect x="184" y="302" width="1.5" height="1.5"/><rect x="185" y="302" width="1" height="1.5"/><rect x="188" y="302" width="1.5" height="1.5"/><rect x="191" y="302" width="1" height="1"/><rect x="182" y="303" width="1" height="1"/><rect x="185" y="303" width="2" height="1.5"/><rect x="188" y="303" width="1.5" height="1.5"/><rect x="192" y="303" width="1" height="1"/><rect x="194" y="303" width="1.5" height="2"/><rect x="195" y="303" width="2" height="1"/><rect x="182" y="304" width="1" height="1.5"/><rect x="187" y="304" width="1" height="1"/><rect x="188" y="304" width="2" height="1"/><rect x="190" y="304" width="1" height="1"/><rect x="191" y="304" width="1" height="1"/><rect x="193" y="304" width="1.5" height="1"/><rect x="194" y="304" width="1.5" height="1"/><rect x="181" y="305" width="1.5" height="1"/><rect x="183" y="305" width="1.5" height="1"/><rect x="184" y="305" width="2" height="1"/><rect x="185" y="305" width="1.5" height="2"/><rect x="187" y="305" width="2" height="1"/><rect x="188" y="305" width="1.5" height="1.5"/><rect x="189" y="305" width="1.5" height="1"/><rect x="190" y="305" width="1" height="1"/><rect x="191" y="305" width="1" height="1.5"/><rect x="193" y="305" width="1" height="1.5"/><rect x="194" y="305" width="1.5" height="2"/><rect x="181" y="306" width="2" height="1.5"/><rect x="182" y="306" width="1.5" height="1"/><rect x="183" y="306" width="2" height="1"/><rect x="186" y="306" width="1" height="2"/><rect x="188" y="306" width="1" height="1"/><rect x="189" y="306" width="1" height="1"/><rect x="190" y="306" width="1.5" height="1"/><rect x="196" y="306" width="1" height="2"/><rect x="182" y="307" width="1.5" height="2"/><rect x="183" y="307" width="1.5" height="1"/><rect x="184" y="307" width="1" height="1"/><rect x="188" y="307" width="1" height="2"/><rect x="189" y="307" width="2" height="1"/><rect x="190" y="307" width="1" height="1.5"/><rect x="192" y="307" width="1.5" height="1"/><rect x="193" y="307" width="2" height="1.5"/><rect x="194" y="307" width="2" height="1"/><rect x="197" y="307" width="1.5" height="1"/><rect x="182" y="308" width="1.5" height="1"/><rect x="183" y="308" width="1" height="1"/><rect x="184" y="308" width="2" height="1"/><rect x="187" y="308" width="1.5" height="1"/><rect x="190" y="308" width="1" height="1.5"/><rect x="193" y="308" width="1" height="1"/><rect x="195" y="308" width="1.5" height="1"/><rect x="197" y="308" width="2" height="1"/><rect x="181" y="309" width="2" height="1.5"/><rect x="183" y="309" width="1" height="1"/><rect x="186" y="309" width="1" height="2"/><rect x="189" y="309" width="1.5" height="1"/><rect x="191" y="309" width="2" height="1"/><rect x="193" y="309" width="1" height="1"/><rect x="184" y="310" width="1" height="1"/><rect x="186" y="310" width="1" height="1"/><rect x="187" y="310" width="1" height="1"/><rect x="188" y="310" width="1" height="2"/><rect x="191" y="310" width="1.5" height="1"/><rect x="183" y="311" width="1.5" height="2"/><rect x="184" y="311" width="1" height="2"/><rect x="190" y="311" width="1.5" height="2"/><rect x="194" y="311" width="1" height="1"/><rect x="195" y="311" width="1.5" height="2"/><rect x="197" y="311" width="1" height="2"/></g>
<polygon points="153.5,260.0 156.0,260.0 156.0,262.0 153.5,262.0" fill="#f2d6d8" stroke="#f2d6d8" stroke-width="2.2" stroke-linejoin="round"/>
<g fill="#d6949a" filter="url(#bl)"><rect x="154" y="261" width="2" height="1"/></g>
<polygon points="158.0,301.0 166.0,303.0 168.0,309.0 160.0,308.0" fill="#f2d6d8" stroke="#f2d6d8" stroke-width="2.2" stroke-linejoin="round"/>
<g fill="#d6949a" filter="url(#bl)"><rect x="159" y="302" width="1.5" height="1.5"/><rect x="160" y="302" width="1" height="1.5"/><rect x="163" y="303" width="1.5" height="1"/><rect x="160" y="304" width="2" height="1"/><rect x="165" y="304" width="2" height="1.5"/><rect x="161" y="305" width="1" height="1.5"/><rect x="164" y="306" width="2" height="1"/><rect x="166" y="306" width="1" height="1.5"/><rect x="164" y="308" width="1.5" height="1"/></g>
<polygon points="172.0,223.0 175.0,223.0 175.0,226.0 172.0,226.0" fill="#d4e5f4" stroke="#d4e5f4" stroke-width="2.2" stroke-linejoin="round"/>
<g fill="#7ea2c9" filter="url(#bl)"><rect x="173" y="223" width="1.5" height="2"/><rect x="174" y="223" width="2" height="1"/><rect x="172" y="224" width="2" height="1.5"/><rect x="174" y="224" width="1" height="2"/><rect x="172" y="225" width="1" height="1.5"/><rect x="174" y="225" width="1.5" height="1.5"/></g>
<polygon points="55.3,259.3 58.4,259.3 58.4,265.5 55.3,265.5" fill="#f2d6d8" stroke="#f2d6d8" stroke-width="2.2" stroke-linejoin="round"/>
<g fill="#d6949a" filter="url(#bl)"><rect x="55" y="259" width="1" height="1"/><rect x="56" y="260" width="1" height="1.5"/><rect x="55" y="261" width="2" height="2"/><rect x="56" y="261" width="2" height="2"/><rect x="57" y="262" width="2" height="2"/><rect x="56" y="263" width="2" height="1"/><rect x="55" y="264" width="2" height="1"/><rect x="56" y="264" width="1" height="1"/></g>
<polygon points="57.7,274.5 71.7,274.5 71.7,279.5 57.7,279.5" fill="#f2d6d8" stroke="#f2d6d8" stroke-width="2.2" stroke-linejoin="round"/>
<g fill="#d6949a" filter="url(#bl)"><rect x="58" y="274" width="1" height="1.5"/><rect x="59" y="274" width="2" height="2"/><rect x="60" y="274" width="1" height="1"/><rect x="62" y="274" width="2" height="1"/><rect x="64" y="274" width="2" height="1"/><rect x="66" y="274" width="1.5" height="2"/><rect x="68" y="274" width="2" height="1"/><rect x="58" y="276" width="1.5" height="1"/><rect x="59" y="276" width="1" height="1"/><rect x="61" y="276" width="1.5" height="1"/><rect x="62" y="276" width="1.5" height="1.5"/><rect x="63" y="276" width="2" height="1"/><rect x="64" y="276" width="1" height="2"/><rect x="67" y="276" width="1" height="1"/><rect x="68" y="276" width="1.5" height="2"/><rect x="71" y="276" width="1.5" height="1"/><rect x="58" y="276" width="1" height="1.5"/><rect x="59" y="276" width="1" height="2"/><rect x="62" y="276" width="1" height="2"/><rect x="63" y="276" width="1" height="2"/><rect x="64" y="276" width="2" height="1"/><rect x="66" y="276" width="2" height="1"/><rect x="67" y="276" width="1" height="2"/><rect x="68" y="276" width="1" height="2"/><rect x="69" y="276" width="1.5" height="1"/><rect x="70" y="276" width="1" height="1"/><rect x="59" y="278" width="2" height="1"/><rect x="60" y="278" width="1" height="1"/><rect x="61" y="278" width="1.5" height="2"/><rect x="63" y="278" width="1" height="1"/><rect x="64" y="278" width="2" height="1.5"/><rect x="70" y="278" width="1.5" height="1.5"/><rect x="71" y="278" width="1" height="1"/><rect x="60" y="278" width="1" height="1.5"/><rect x="61" y="278" width="1.5" height="1"/><rect x="64" y="278" width="1" height="1"/><rect x="65" y="278" width="2" height="1"/><rect x="66" y="278" width="1.5" height="1"/><rect x="68" y="278" width="1" height="1.5"/><rect x="69" y="278" width="1" height="2"/></g>
<polygon points="82.5,282.0 85.7,282.0 85.7,289.0 82.5,289.0" fill="#f2d6d8" stroke="#f2d6d8" stroke-width="2.2" stroke-linejoin="round"/>
<g fill="#d6949a" filter="url(#bl)"><rect x="82" y="282" width="1.5" height="1.5"/><rect x="84" y="282" width="1" height="1"/><rect x="82" y="283" width="1.5" height="1"/><rect x="84" y="283" width="1" height="1"/><rect x="82" y="284" width="1" height="1.5"/><rect x="84" y="284" width="1.5" height="1.5"/><rect x="84" y="284" width="1" height="1.5"/><rect x="84" y="285" width="1.5" height="1"/><rect x="82" y="286" width="1" height="1"/><rect x="84" y="286" width="1" height="1"/><rect x="82" y="287" width="1" height="2"/><rect x="84" y="287" width="1.5" height="1"/><rect x="82" y="288" width="1" height="1.5"/><rect x="84" y="288" width="1" height="1.5"/><rect x="84" y="288" width="2" height="1.5"/></g>
<polygon points="91.0,282.0 102.0,282.0 102.0,285.8 91.0,285.8" fill="#f2d6d8" stroke="#f2d6d8" stroke-width="2.2" stroke-linejoin="round"/>
<g fill="#d6949a" filter="url(#bl)"><rect x="91" y="282" width="1" height="1"/><rect x="93" y="282" width="2" height="1.5"/><rect x="94" y="282" width="1" height="1.5"/><rect x="95" y="282" width="1" height="1"/><rect x="96" y="282" width="1.5" height="1"/><rect x="97" y="282" width="1" height="1"/><rect x="100" y="282" width="1" height="1"/><rect x="101" y="282" width="1" height="2"/><rect x="93" y="283" width="1" height="1"/><rect x="95" y="283" width="1.5" height="1"/><rect x="96" y="283" width="1" height="1.5"/><rect x="97" y="283" width="1" height="1"/><rect x="99" y="283" width="1" height="1"/><rect x="101" y="283" width="1.5" height="1"/><rect x="91" y="284" width="1" height="1.5"/><rect x="92" y="284" width="2" height="1"/><rect x="93" y="284" width="2" height="2"/><rect x="94" y="284" width="1" height="1"/><rect x="97" y="284" width="1.5" height="1"/><rect x="98" y="284" width="1" height="1.5"/><rect x="100" y="284" width="1" height="2"/><rect x="101" y="284" width="1.5" height="1"/><rect x="93" y="285" width="1" height="1.5"/><rect x="95" y="285" width="1.5" height="1"/><rect x="97" y="285" width="2" height="1"/><rect x="98" y="285" width="1.5" height="1"/></g>
<polygon points="108.2,278.0 110.5,278.0 116.0,286.0 114.0,288.5" fill="#f2d6d8" stroke="#f2d6d8" stroke-width="2.2" stroke-linejoin="round"/>
<g fill="#d6949a" filter="url(#bl)"><rect x="109" y="278" width="1.5" height="1"/><rect x="110" y="278" width="1.5" height="1"/><rect x="109" y="279" width="2" height="1"/><rect x="110" y="281" width="2" height="1.5"/><rect x="112" y="281" width="1" height="1"/><rect x="112" y="282" width="2" height="1.5"/><rect x="111" y="283" width="2" height="1"/><rect x="112" y="284" width="2" height="1.5"/><rect x="113" y="284" width="1.5" height="1"/><rect x="114" y="284" width="2" height="2"/><rect x="113" y="285" width="1" height="1.5"/><rect x="114" y="285" width="2" height="2"/><rect x="113" y="287" width="1" height="2"/></g>
<polygon points="118.3,278.0 124.5,278.0 124.5,280.5 118.3,280.5" fill="#f2d6d8" stroke="#f2d6d8" stroke-width="2.2" stroke-linejoin="round"/>
<g fill="#d6949a" filter="url(#bl)"><rect x="118" y="278" width="1.5" height="1.5"/><rect x="120" y="278" width="1" height="1.5"/><rect x="118" y="279" width="2" height="1.5"/><rect x="120" y="279" width="1" height="1"/><rect x="121" y="279" width="1" height="1"/><rect x="123" y="279" width="1" height="2"/></g>
<polygon points="108.2,306.0 113.6,306.0 113.6,313.8 108.2,313.8" fill="#f2d6d8" stroke="#f2d6d8" stroke-width="2.2" stroke-linejoin="round"/>
<g fill="#d6949a" filter="url(#bl)"><rect x="111" y="307" width="1.5" height="2"/><rect x="112" y="307" width="1.5" height="2"/><rect x="108" y="308" width="1.5" height="1.5"/><rect x="109" y="308" width="2" height="1"/><rect x="112" y="308" width="1" height="1"/><rect x="110" y="309" width="2" height="2"/><rect x="111" y="309" width="1" height="2"/><rect x="112" y="309" width="1.5" height="2"/><rect x="108" y="310" width="1.5" height="1"/><rect x="109" y="310" width="1" height="2"/><rect x="110" y="310" width="1.5" height="1"/><rect x="111" y="310" width="1" height="2"/><rect x="108" y="311" width="1" height="2"/><rect x="111" y="311" width="1.5" height="1.5"/><rect x="112" y="311" width="2" height="1"/><rect x="109" y="312" width="1" height="1"/><rect x="112" y="312" width="1" height="1.5"/><rect x="112" y="313" width="1" height="1.5"/></g>
<polygon points="123.8,260.0 128.0,258.6 133.0,262.0 131.0,266.0 127.0,271.0 124.5,268.0" fill="#d4e5f4" stroke="#d4e5f4" stroke-width="2.2" stroke-linejoin="round"/>
<g fill="#7ea2c9" filter="url(#bl)"><rect x="127" y="259" width="2" height="1"/><rect x="125" y="260" width="1.5" height="1.5"/><rect x="126" y="260" width="2" height="2"/><rect x="127" y="260" width="1" height="2"/><rect x="129" y="260" width="1" height="1.5"/><rect x="124" y="261" width="1.5" height="2"/><rect x="127" y="261" width="1" height="1.5"/><rect x="128" y="261" width="2" height="1.5"/><rect x="130" y="261" width="2" height="1"/><rect x="131" y="261" width="1.5" height="1.5"/><rect x="125" y="262" width="1" height="1"/><rect x="127" y="262" width="2" height="1"/><rect x="129" y="262" width="1" height="1"/><rect x="131" y="262" width="1.5" height="2"/><rect x="132" y="262" width="1.5" height="1.5"/><rect x="126" y="263" width="2" height="1.5"/><rect x="127" y="263" width="1.5" height="1"/><rect x="129" y="263" width="1" height="1"/><rect x="131" y="263" width="1.5" height="1"/><rect x="132" y="263" width="1" height="1"/><rect x="130" y="264" width="2" height="1.5"/><rect x="129" y="265" width="1.5" height="1"/><rect x="130" y="265" width="1" height="1"/><rect x="125" y="266" width="1" height="2"/><rect x="127" y="266" width="1.5" height="1"/><rect x="125" y="267" width="2" height="1"/><rect x="127" y="267" width="1.5" height="1.5"/><rect x="129" y="267" width="1" height="1.5"/><rect x="128" y="268" width="1" height="1"/><rect x="126" y="269" width="1.5" height="1"/><rect x="128" y="269" width="1" height="1"/><rect x="126" y="270" width="2" height="1"/></g>
<polygon points="154.9,260.0 158.7,260.0 158.7,262.4 154.9,262.4" fill="#f2d6d8" stroke="#f2d6d8" stroke-width="2.2" stroke-linejoin="round"/>
<g fill="#d6949a" filter="url(#bl)"><rect x="156" y="260" width="1.5" height="1.5"/><rect x="158" y="260" width="2" height="1"/><rect x="155" y="261" width="2" height="1"/><rect x="156" y="261" width="1" height="1"/><rect x="157" y="261" width="1.5" height="1"/><rect x="158" y="261" width="1" height="2"/></g>
<polygon points="119.5,329.2 129.0,321.6 138.4,328.2 144.0,335.8 142.2,339.6 132.7,339.6 123.3,333.9" fill="#f2d6d8" stroke="#f2d6d8" stroke-width="2.2" stroke-linejoin="round"/>
<g fill="#d6949a" filter="url(#bl)"><rect x="130" y="323" width="1.5" height="1"/><rect x="128" y="324" width="1" height="2"/><rect x="130" y="324" width="1.5" height="1.5"/><rect x="124" y="325" width="1.5" height="1.5"/><rect x="126" y="325" width="1" height="1.5"/><rect x="126" y="325" width="1" height="2"/><rect x="128" y="325" width="1" height="1.5"/><rect x="126" y="326" width="1" height="1.5"/><rect x="128" y="326" width="1.5" height="1"/><rect x="130" y="326" width="1.5" height="2"/><rect x="134" y="326" width="2" height="1"/><rect x="134" y="326" width="1" height="1"/><rect x="124" y="327" width="1" height="2"/><rect x="126" y="327" width="1" height="1.5"/><rect x="128" y="327" width="2" height="2"/><rect x="130" y="327" width="1" height="1.5"/><rect x="132" y="327" width="1" height="1"/><rect x="134" y="327" width="1" height="2"/><rect x="124" y="328" width="1" height="2"/><rect x="124" y="328" width="1" height="2"/><rect x="128" y="328" width="2" height="2"/><rect x="128" y="328" width="1" height="1"/><rect x="130" y="328" width="1" height="1"/><rect x="130" y="328" width="1" height="1"/><rect x="132" y="328" width="1" height="2"/><rect x="132" y="328" width="1" height="1"/><rect x="136" y="328" width="1" height="2"/><rect x="138" y="328" width="1" height="1"/><rect x="120" y="329" width="1" height="1.5"/><rect x="120" y="329" width="2" height="1"/><rect x="122" y="329" width="1" height="1"/><rect x="126" y="329" width="1" height="1.5"/><rect x="130" y="329" width="1" height="2"/><rect x="132" y="329" width="1" height="2"/><rect x="134" y="329" width="1.5" height="1"/><rect x="136" y="329" width="1" height="1"/><rect x="136" y="329" width="1.5" height="1.5"/><rect x="138" y="329" width="1.5" height="1"/><rect x="122" y="330" width="1" height="1"/><rect x="122" y="330" width="1" height="1"/><rect x="126" y="330" width="2" height="2"/><rect x="130" y="330" width="1" height="1"/><rect x="132" y="330" width="1" height="2"/><rect x="134" y="330" width="1.5" height="2"/><rect x="136" y="330" width="1" height="1.5"/><rect x="138" y="330" width="2" height="1"/><rect x="122" y="331" width="1" height="2"/><rect x="126" y="331" width="1" height="1"/><rect x="128" y="331" width="1" height="1.5"/><rect x="128" y="331" width="1.5" height="1.5"/><rect x="130" y="331" width="1" height="1.5"/><rect x="132" y="331" width="1.5" height="2"/><rect x="134" y="331" width="1" height="2"/><rect x="136" y="331" width="1" height="1"/><rect x="138" y="331" width="1" height="1"/><rect x="138" y="331" width="1" height="1.5"/><rect x="122" y="332" width="1" height="2"/><rect x="124" y="332" width="1.5" height="2"/><rect x="124" y="332" width="1.5" height="1"/><rect x="126" y="332" width="1" height="1.5"/><rect x="130" y="332" width="1" height="1"/><rect x="132" y="332" width="1" height="1"/><rect x="134" y="332" width="1" height="1"/><rect x="124" y="333" width="2" height="2"/><rect x="126" y="333" width="1" height="2"/><rect x="126" y="333" width="1" height="1"/><rect x="128" y="333" width="1" height="1"/><rect x="132" y="333" width="1" height="1"/><rect x="132" y="333" width="1" height="1"/><rect x="136" y="333" width="1.5" height="1"/><rect x="136" y="333" width="2" height="1"/><rect x="138" y="333" width="1.5" height="1"/><rect x="140" y="333" width="1" height="1.5"/><rect x="142" y="333" width="1" height="1.5"/><rect x="124" y="334" width="1" height="1"/><rect x="124" y="334" width="1.5" height="1.5"/><rect x="126" y="334" width="1" height="1"/><rect x="128" y="334" width="2" height="1"/><rect x="128" y="334" width="1" height="1"/><rect x="132" y="334" width="2" height="1.5"/><rect x="134" y="334" width="2" height="1.5"/><rect x="134" y="334" width="1" height="2"/><rect x="136" y="334" width="2" height="2"/><rect x="138" y="334" width="1" height="2"/><rect x="140" y="334" width="1" height="2"/><rect x="142" y="334" width="1" height="1.5"/><rect x="126" y="335" width="2" height="1"/><rect x="128" y="335" width="1" height="2"/><rect x="134" y="335" width="2" height="1"/><rect x="136" y="335" width="1" height="1.5"/><rect x="136" y="335" width="1" height="2"/><rect x="138" y="335" width="2" height="1"/><rect x="138" y="335" width="2" height="1.5"/><rect x="140" y="335" width="1.5" height="1.5"/><rect x="140" y="335" width="2" height="2"/><rect x="142" y="335" width="1" height="1"/><rect x="128" y="336" width="1" height="2"/><rect x="130" y="336" width="1.5" height="1"/><rect x="130" y="336" width="1.5" height="1"/><rect x="132" y="336" width="1" height="1"/><rect x="134" y="336" width="2" height="1"/><rect x="136" y="336" width="1" height="1"/><rect x="138" y="336" width="1.5" height="1"/><rect x="140" y="336" width="1" height="1"/><rect x="140" y="336" width="2" height="1"/><rect x="142" y="336" width="1.5" height="2"/><rect x="128" y="337" width="1" height="1"/><rect x="130" y="337" width="2" height="1.5"/><rect x="132" y="337" width="1.5" height="1"/><rect x="132" y="337" width="1.5" height="2"/><rect x="134" y="337" width="1.5" height="1"/><rect x="136" y="337" width="1" height="1"/><rect x="138" y="337" width="2" height="2"/><rect x="140" y="337" width="1" height="1"/><rect x="142" y="337" width="2" height="1"/><rect x="132" y="338" width="1.5" height="1"/><rect x="132" y="338" width="2" height="1"/><rect x="134" y="338" width="2" height="2"/><rect x="134" y="338" width="1" height="1"/><rect x="136" y="338" width="2" height="1"/><rect x="138" y="338" width="1" height="1"/><rect x="140" y="338" width="1" height="1"/><rect x="140" y="338" width="2" height="1.5"/><rect x="134" y="339" width="1" height="2"/><rect x="140" y="339" width="1" height="1.5"/><rect x="142" y="339" width="1.5" height="1"/></g>
<polygon points="133.7,348.0 141.3,348.0 141.3,358.5 133.7,358.5" fill="#f2d6d8" stroke="#f2d6d8" stroke-width="2.2" stroke-linejoin="round"/>
<g fill="#d6949a" filter="url(#bl)"><rect x="136" y="348" width="1" height="1"/><rect x="141" y="348" width="2" height="1.5"/><rect x="137" y="349" width="1.5" height="1"/><rect x="139" y="349" width="1" height="2"/><rect x="141" y="349" width="1" height="1.5"/><rect x="135" y="350" width="2" height="1.5"/><rect x="136" y="350" width="1" height="1"/><rect x="138" y="350" width="1" height="2"/><rect x="135" y="351" width="1.5" height="1.5"/><rect x="138" y="351" width="2" height="1"/><rect x="134" y="352" width="1.5" height="1"/><rect x="138" y="352" width="1.5" height="1.5"/><rect x="139" y="352" width="1" height="2"/><rect x="135" y="353" width="1" height="2"/><rect x="137" y="353" width="1" height="1"/><rect x="139" y="353" width="1" height="1"/><rect x="140" y="353" width="1" height="1.5"/><rect x="135" y="354" width="1" height="1"/><rect x="136" y="354" width="1" height="1"/><rect x="137" y="354" width="1.5" height="1"/><rect x="139" y="354" width="2" height="2"/><rect x="141" y="354" width="1" height="1.5"/><rect x="134" y="355" width="1" height="1"/><rect x="137" y="355" width="1.5" height="1.5"/><rect x="139" y="355" width="1" height="1"/><rect x="134" y="356" width="1" height="1"/><rect x="135" y="356" width="1" height="2"/><rect x="136" y="356" width="1" height="1"/><rect x="137" y="357" width="1" height="1"/></g>
<polygon points="131.8,368.0 142.2,363.2 147.0,366.0 146.0,375.5 138.4,383.0 131.8,383.0 130.9,375.5" fill="#d4e5f4" stroke="#d4e5f4" stroke-width="2.2" stroke-linejoin="round"/>
<g fill="#7ea2c9" filter="url(#bl)"><rect x="141" y="363" width="1.5" height="1"/><rect x="142" y="363" width="1" height="1"/><rect x="139" y="364" width="1" height="2"/><rect x="142" y="364" width="1.5" height="1.5"/><rect x="143" y="364" width="1" height="1"/><rect x="144" y="364" width="1.5" height="1.5"/><rect x="137" y="365" width="1.5" height="1"/><rect x="139" y="365" width="1.5" height="1"/><rect x="140" y="365" width="1" height="1"/><rect x="141" y="365" width="1" height="2"/><rect x="142" y="365" width="1.5" height="1"/><rect x="135" y="366" width="1.5" height="1"/><rect x="136" y="366" width="1" height="2"/><rect x="137" y="366" width="1" height="1.5"/><rect x="139" y="366" width="2" height="1.5"/><rect x="142" y="366" width="1.5" height="2"/><rect x="145" y="366" width="1" height="1"/><rect x="133" y="367" width="1.5" height="1"/><rect x="134" y="367" width="1" height="1"/><rect x="135" y="367" width="1" height="1.5"/><rect x="139" y="367" width="1" height="1"/><rect x="140" y="367" width="1" height="1"/><rect x="141" y="367" width="1" height="1"/><rect x="143" y="367" width="2" height="1"/><rect x="144" y="367" width="2" height="2"/><rect x="146" y="367" width="1" height="2"/><rect x="133" y="368" width="1.5" height="2"/><rect x="134" y="368" width="1" height="1.5"/><rect x="136" y="368" width="1" height="1"/><rect x="139" y="368" width="1.5" height="1"/><rect x="140" y="368" width="2" height="1"/><rect x="143" y="368" width="1.5" height="1"/><rect x="145" y="368" width="1" height="1"/><rect x="132" y="369" width="1.5" height="1"/><rect x="135" y="369" width="1.5" height="1.5"/><rect x="137" y="369" width="1.5" height="2"/><rect x="138" y="369" width="1" height="1"/><rect x="139" y="369" width="2" height="1"/><rect x="142" y="369" width="1" height="1"/><rect x="144" y="369" width="1.5" height="2"/><rect x="145" y="369" width="1.5" height="1"/><rect x="146" y="369" width="1.5" height="1"/><rect x="132" y="370" width="1" height="1.5"/><rect x="134" y="370" width="1" height="2"/><rect x="136" y="370" width="2" height="1"/><rect x="138" y="370" width="1" height="1"/><rect x="139" y="370" width="1" height="1"/><rect x="140" y="370" width="1" height="1"/><rect x="141" y="370" width="1" height="1"/><rect x="144" y="370" width="2" height="2"/><rect x="145" y="370" width="2" height="1.5"/><rect x="132" y="371" width="1.5" height="1"/><rect x="136" y="371" width="2" height="2"/><rect x="137" y="371" width="1" height="1"/><rect x="138" y="371" width="1.5" height="1"/><rect x="141" y="371" width="2" height="1"/><rect x="143" y="371" width="1" height="1"/><rect x="132" y="372" width="1" height="1"/><rect x="133" y="372" width="2" height="1"/><rect x="134" y="372" width="1" height="2"/><rect x="135" y="372" width="1.5" height="1.5"/><rect x="136" y="372" width="1" height="2"/><rect x="138" y="372" width="1" height="2"/><rect x="142" y="372" width="1" height="1.5"/><rect x="143" y="372" width="1" height="1"/><rect x="144" y="372" width="1" height="2"/><rect x="132" y="373" width="2" height="1"/><rect x="133" y="373" width="1.5" height="1.5"/><rect x="134" y="373" width="1" height="2"/><rect x="135" y="373" width="1" height="1.5"/><rect x="137" y="373" width="1" height="1.5"/><rect x="138" y="373" width="1" height="1"/><rect x="141" y="373" width="1" height="2"/><rect x="144" y="373" width="2" height="1"/><rect x="145" y="373" width="1" height="2"/><rect x="135" y="374" width="1.5" height="2"/><rect x="136" y="374" width="1" height="1.5"/><rect x="137" y="374" width="1" height="1"/><rect x="138" y="374" width="2" height="1.5"/><rect x="140" y="374" width="1" height="1"/><rect x="141" y="374" width="1" height="1"/><rect x="143" y="374" width="1.5" height="1"/><rect x="144" y="374" width="2" height="2"/><rect x="145" y="374" width="1.5" height="2"/><rect x="131" y="375" width="2" height="1"/><rect x="132" y="375" width="1" height="1"/><rect x="133" y="375" width="2" height="1"/><rect x="134" y="375" width="1.5" height="2"/><rect x="135" y="375" width="2" height="1"/><rect x="136" y="375" width="1" height="1"/><rect x="139" y="375" width="2" height="2"/><rect x="141" y="375" width="1" height="1"/><rect x="144" y="375" width="1.5" height="1"/><rect x="145" y="375" width="1" height="2"/><rect x="132" y="376" width="1" height="1"/><rect x="135" y="376" width="1.5" height="1.5"/><rect x="136" y="376" width="1" height="1.5"/><rect x="139" y="376" width="2" height="1"/><rect x="140" y="376" width="2" height="1.5"/><rect x="141" y="376" width="2" height="1"/><rect x="142" y="376" width="1" height="1.5"/><rect x="144" y="376" width="2" height="1"/><rect x="132" y="377" width="1" height="1"/><rect x="133" y="377" width="1" height="1"/><rect x="134" y="377" width="1" height="1"/><rect x="135" y="377" width="1" height="1"/><rect x="139" y="377" width="1" height="2"/><rect x="141" y="377" width="2" height="2"/><rect x="142" y="377" width="1" height="1"/><rect x="131" y="378" width="1" height="1"/><rect x="132" y="378" width="1" height="1.5"/><rect x="135" y="378" width="1" height="1"/><rect x="136" y="378" width="1.5" height="1"/><rect x="137" y="378" width="2" height="1.5"/><rect x="138" y="378" width="1.5" height="2"/><rect x="139" y="378" width="1" height="1"/><rect x="140" y="378" width="1" height="1.5"/><rect x="132" y="379" width="1" height="2"/><rect x="135" y="379" width="2" height="1"/><rect x="137" y="379" width="2" height="1"/><rect x="141" y="379" width="1" height="2"/><rect x="132" y="380" width="1" height="1"/><rect x="134" y="380" width="1" height="2"/><rect x="136" y="380" width="2" height="1"/><rect x="137" y="380" width="2" height="1"/><rect x="138" y="380" width="1" height="1"/><rect x="132" y="381" width="1.5" height="1.5"/><rect x="133" y="381" width="2" height="1.5"/><rect x="136" y="381" width="1" height="1"/><rect x="137" y="381" width="1" height="2"/><rect x="132" y="382" width="1" height="1"/><rect x="134" y="382" width="2" height="1.5"/><rect x="137" y="382" width="1.5" height="1"/></g>
<polygon points="134.6,386.8 147.9,383.0 150.7,394.4 147.9,403.8 140.3,403.8 136.5,396.3" fill="#d4e5f4" stroke="#d4e5f4" stroke-width="2.2" stroke-linejoin="round"/>
<g fill="#7ea2c9" filter="url(#bl)"><rect x="143" y="384" width="2" height="1.5"/><rect x="144" y="384" width="1.5" height="1.5"/><rect x="146" y="384" width="2" height="1.5"/><rect x="147" y="384" width="1.5" height="2"/><rect x="142" y="385" width="1" height="1.5"/><rect x="143" y="385" width="1" height="1.5"/><rect x="145" y="385" width="1" height="1.5"/><rect x="147" y="385" width="2" height="1"/><rect x="148" y="385" width="1" height="1"/><rect x="136" y="386" width="2" height="1"/><rect x="138" y="386" width="1" height="1"/><rect x="143" y="386" width="1" height="1"/><rect x="145" y="386" width="1" height="1.5"/><rect x="146" y="386" width="1" height="1"/><rect x="147" y="386" width="1.5" height="1"/><rect x="137" y="387" width="1" height="2"/><rect x="142" y="387" width="2" height="2"/><rect x="146" y="387" width="1" height="1.5"/><rect x="147" y="387" width="1" height="1"/><rect x="135" y="388" width="1.5" height="1.5"/><rect x="136" y="388" width="2" height="1.5"/><rect x="137" y="388" width="1" height="1.5"/><rect x="138" y="388" width="1" height="1"/><rect x="139" y="388" width="1.5" height="1.5"/><rect x="140" y="388" width="1" height="1.5"/><rect x="142" y="388" width="2" height="1"/><rect x="144" y="388" width="1.5" height="1.5"/><rect x="145" y="388" width="1" height="1"/><rect x="146" y="388" width="1" height="1.5"/><rect x="147" y="388" width="1" height="1"/><rect x="148" y="388" width="1" height="1"/><rect x="149" y="388" width="1" height="1"/><rect x="142" y="389" width="1" height="2"/><rect x="143" y="389" width="1.5" height="1.5"/><rect x="146" y="389" width="1.5" height="1"/><rect x="147" y="389" width="1" height="1"/><rect x="149" y="389" width="1" height="1"/><rect x="136" y="390" width="1.5" height="2"/><rect x="137" y="390" width="1" height="1"/><rect x="140" y="390" width="1.5" height="1"/><rect x="141" y="390" width="1" height="1"/><rect x="146" y="390" width="1.5" height="1"/><rect x="147" y="390" width="1.5" height="1.5"/><rect x="149" y="390" width="1" height="1"/><rect x="136" y="391" width="1" height="1"/><rect x="137" y="391" width="1" height="2"/><rect x="138" y="391" width="1" height="1"/><rect x="139" y="391" width="1" height="1"/><rect x="141" y="391" width="1.5" height="1"/><rect x="145" y="391" width="2" height="1"/><rect x="146" y="391" width="1" height="2"/><rect x="148" y="391" width="1" height="1"/><rect x="149" y="391" width="1.5" height="1"/><rect x="138" y="392" width="1" height="2"/><rect x="140" y="392" width="2" height="1"/><rect x="142" y="392" width="2" height="1.5"/><rect x="144" y="392" width="2" height="1"/><rect x="146" y="392" width="1" height="1"/><rect x="147" y="392" width="1" height="1.5"/><rect x="148" y="392" width="1" height="2"/><rect x="149" y="392" width="1" height="2"/><rect x="150" y="392" width="2" height="1"/><rect x="136" y="393" width="2" height="1"/><rect x="139" y="393" width="2" height="1"/><rect x="141" y="393" width="1.5" height="1.5"/><rect x="142" y="393" width="1.5" height="1"/><rect x="143" y="393" width="2" height="2"/><rect x="144" y="393" width="1" height="1"/><rect x="145" y="393" width="1" height="1.5"/><rect x="147" y="393" width="2" height="1.5"/><rect x="148" y="393" width="2" height="2"/><rect x="149" y="393" width="2" height="1"/><rect x="150" y="393" width="2" height="2"/><rect x="137" y="394" width="1" height="1"/><rect x="140" y="394" width="1" height="1"/><rect x="142" y="394" width="1" height="1.5"/><rect x="143" y="394" width="1.5" height="2"/><rect x="145" y="394" width="2" height="2"/><rect x="146" y="394" width="1" height="1"/><rect x="148" y="394" width="1" height="1"/><rect x="150" y="394" width="1" height="1"/><rect x="138" y="395" width="1" height="1"/><rect x="139" y="395" width="1.5" height="1"/><rect x="142" y="395" width="2" height="1"/><rect x="143" y="395" width="1" height="2"/><rect x="145" y="395" width="1.5" height="1"/><rect x="148" y="395" width="1" height="2"/><rect x="149" y="395" width="1" height="1"/><rect x="137" y="396" width="2" height="1.5"/><rect x="138" y="396" width="1" height="2"/><rect x="140" y="396" width="1" height="1.5"/><rect x="141" y="396" width="1" height="2"/><rect x="144" y="396" width="1" height="1.5"/><rect x="146" y="396" width="1" height="2"/><rect x="139" y="397" width="1" height="1.5"/><rect x="140" y="397" width="1" height="2"/><rect x="146" y="397" width="1.5" height="2"/><rect x="147" y="397" width="1" height="2"/><rect x="148" y="397" width="1" height="1.5"/><rect x="138" y="398" width="1" height="1.5"/><rect x="141" y="398" width="2" height="1"/><rect x="142" y="398" width="1" height="1"/><rect x="143" y="398" width="1" height="1"/><rect x="144" y="398" width="1" height="1"/><rect x="145" y="398" width="1" height="1"/><rect x="147" y="398" width="1" height="1"/><rect x="149" y="398" width="2" height="1.5"/><rect x="140" y="399" width="1" height="2"/><rect x="143" y="399" width="1.5" height="1.5"/><rect x="144" y="399" width="1" height="1"/><rect x="145" y="399" width="1" height="1.5"/><rect x="146" y="399" width="1" height="1"/><rect x="147" y="399" width="1.5" height="1"/><rect x="148" y="399" width="1.5" height="1"/><rect x="149" y="399" width="1" height="1"/><rect x="139" y="400" width="1.5" height="2"/><rect x="141" y="400" width="1" height="1"/><rect x="142" y="400" width="2" height="1"/><rect x="144" y="400" width="1.5" height="1"/><rect x="145" y="400" width="1" height="1.5"/><rect x="146" y="400" width="2" height="2"/><rect x="148" y="400" width="2" height="2"/><rect x="140" y="401" width="1" height="2"/><rect x="142" y="401" width="1" height="1.5"/><rect x="147" y="401" width="1" height="1"/><rect x="148" y="401" width="1" height="1"/><rect x="140" y="402" width="2" height="2"/><rect x="141" y="402" width="1.5" height="1.5"/><rect x="142" y="402" width="1" height="1"/><rect x="143" y="402" width="2" height="1"/><rect x="144" y="402" width="1" height="1"/><rect x="146" y="402" width="1.5" height="1.5"/><rect x="147" y="402" width="1" height="1.5"/><rect x="141" y="403" width="1.5" height="1"/><rect x="142" y="403" width="1" height="1.5"/><rect x="143" y="403" width="1" height="1.5"/><rect x="144" y="403" width="1" height="1"/><rect x="146" y="403" width="2" height="1.5"/><rect x="147" y="403" width="1" height="1"/></g>
<polygon points="96.8,387.8 104.4,381.2 113.8,383.0 129.0,385.9 127.0,387.8 113.8,386.8 108.2,390.6 100.6,391.6" fill="#d4e5f4" stroke="#d4e5f4" stroke-width="2.2" stroke-linejoin="round"/>
<g fill="#7ea2c9" filter="url(#bl)"><rect x="105" y="381" width="1.5" height="1"/><rect x="106" y="381" width="1" height="1.5"/><rect x="106" y="382" width="1" height="1"/><rect x="107" y="382" width="1" height="1"/><rect x="108" y="382" width="1" height="1"/><rect x="111" y="382" width="1" height="2"/><rect x="103" y="383" width="1.5" height="1.5"/><rect x="104" y="383" width="1" height="1"/><rect x="107" y="383" width="1" height="1.5"/><rect x="110" y="383" width="1" height="1"/><rect x="111" y="383" width="1" height="1"/><rect x="112" y="383" width="1" height="1"/><rect x="115" y="383" width="1" height="2"/><rect x="116" y="383" width="2" height="1"/><rect x="101" y="384" width="1.5" height="1"/><rect x="102" y="384" width="1.5" height="1"/><rect x="104" y="384" width="1" height="1"/><rect x="105" y="384" width="1.5" height="1.5"/><rect x="106" y="384" width="1" height="1"/><rect x="108" y="384" width="1.5" height="1"/><rect x="111" y="384" width="1" height="2"/><rect x="114" y="384" width="2" height="2"/><rect x="116" y="384" width="1" height="1"/><rect x="117" y="384" width="1" height="1"/><rect x="119" y="384" width="1" height="1"/><rect x="120" y="384" width="1.5" height="2"/><rect x="99" y="385" width="1.5" height="2"/><rect x="100" y="385" width="1.5" height="2"/><rect x="103" y="385" width="1" height="2"/><rect x="105" y="385" width="1" height="1"/><rect x="107" y="385" width="1" height="1.5"/><rect x="108" y="385" width="1" height="2"/><rect x="109" y="385" width="1" height="1.5"/><rect x="110" y="385" width="1" height="1.5"/><rect x="111" y="385" width="1" height="1"/><rect x="113" y="385" width="1" height="2"/><rect x="115" y="385" width="2" height="1"/><rect x="117" y="385" width="1" height="1"/><rect x="118" y="385" width="2" height="2"/><rect x="119" y="385" width="1" height="1"/><rect x="122" y="385" width="1" height="2"/><rect x="125" y="385" width="1" height="2"/><rect x="126" y="385" width="1" height="2"/><rect x="127" y="385" width="1.5" height="1"/><rect x="99" y="386" width="1.5" height="1.5"/><rect x="100" y="386" width="1" height="1"/><rect x="102" y="386" width="1" height="1"/><rect x="105" y="386" width="1" height="1"/><rect x="106" y="386" width="1.5" height="1"/><rect x="107" y="386" width="1" height="1.5"/><rect x="108" y="386" width="2" height="1"/><rect x="109" y="386" width="2" height="1"/><rect x="112" y="386" width="1" height="2"/><rect x="116" y="386" width="1" height="1.5"/><rect x="118" y="386" width="2" height="1"/><rect x="119" y="386" width="1" height="2"/><rect x="124" y="386" width="2" height="2"/><rect x="125" y="386" width="1" height="1"/><rect x="126" y="386" width="1" height="1"/><rect x="127" y="386" width="1.5" height="2"/><rect x="98" y="387" width="2" height="1"/><rect x="100" y="387" width="1" height="1.5"/><rect x="101" y="387" width="1" height="1"/><rect x="105" y="387" width="2" height="1.5"/><rect x="107" y="387" width="1" height="1"/><rect x="108" y="387" width="1" height="1.5"/><rect x="109" y="387" width="1.5" height="1.5"/><rect x="112" y="387" width="1" height="1"/><rect x="98" y="388" width="1.5" height="1"/><rect x="103" y="388" width="2" height="1.5"/><rect x="105" y="388" width="1" height="2"/><rect x="107" y="388" width="1" height="1.5"/><rect x="110" y="388" width="1.5" height="1"/><rect x="101" y="389" width="1" height="1"/><rect x="102" y="389" width="1.5" height="1.5"/><rect x="103" y="389" width="1" height="2"/><rect x="104" y="389" width="1.5" height="1"/><rect x="105" y="389" width="1" height="2"/><rect x="106" y="389" width="2" height="1.5"/><rect x="108" y="389" width="1" height="1"/><rect x="100" y="390" width="1.5" height="1"/><rect x="102" y="390" width="2" height="1"/><rect x="103" y="390" width="1" height="1"/></g>
<polygon points="76.0,381.2 89.3,379.3 92.1,388.7 85.5,392.5 78.9,390.6" fill="#d4e5f4" stroke="#d4e5f4" stroke-width="2.2" stroke-linejoin="round"/>
<g fill="#7ea2c9" filter="url(#bl)"><rect x="86" y="379" width="1.5" height="2"/><rect x="79" y="380" width="1" height="1"/><rect x="82" y="380" width="1" height="1"/><rect x="83" y="380" width="1" height="1"/><rect x="86" y="380" width="2" height="1.5"/><rect x="87" y="380" width="2" height="1"/><rect x="88" y="380" width="1.5" height="1.5"/><rect x="78" y="381" width="2" height="1.5"/><rect x="79" y="381" width="1" height="1.5"/><rect x="83" y="381" width="2" height="1.5"/><rect x="86" y="381" width="2" height="2"/><rect x="87" y="381" width="1" height="1"/><rect x="78" y="382" width="1" height="1.5"/><rect x="79" y="382" width="1" height="2"/><rect x="82" y="382" width="1" height="1"/><rect x="86" y="382" width="1" height="2"/><rect x="89" y="382" width="1.5" height="2"/><rect x="81" y="383" width="1.5" height="2"/><rect x="82" y="383" width="1" height="1"/><rect x="84" y="383" width="1" height="1.5"/><rect x="86" y="383" width="2" height="2"/><rect x="87" y="383" width="1.5" height="1"/><rect x="90" y="383" width="1" height="1"/><rect x="80" y="384" width="1" height="1.5"/><rect x="82" y="384" width="1" height="1.5"/><rect x="83" y="384" width="1" height="2"/><rect x="84" y="384" width="2" height="1"/><rect x="88" y="384" width="1" height="2"/><rect x="89" y="384" width="1" height="1"/><rect x="79" y="385" width="2" height="1.5"/><rect x="80" y="385" width="1" height="1.5"/><rect x="82" y="385" width="1" height="1"/><rect x="87" y="385" width="2" height="1"/><rect x="90" y="385" width="1" height="1"/><rect x="78" y="386" width="1.5" height="2"/><rect x="82" y="386" width="1.5" height="1"/><rect x="83" y="386" width="1.5" height="1.5"/><rect x="90" y="386" width="1" height="1"/><rect x="78" y="387" width="1" height="1"/><rect x="79" y="387" width="2" height="1.5"/><rect x="80" y="387" width="1.5" height="2"/><rect x="82" y="387" width="1" height="1"/><rect x="83" y="387" width="1" height="1"/><rect x="85" y="387" width="2" height="2"/><rect x="87" y="387" width="1" height="1"/><rect x="90" y="387" width="1.5" height="2"/><rect x="78" y="388" width="1" height="1.5"/><rect x="79" y="388" width="2" height="1"/><rect x="80" y="388" width="1" height="1"/><rect x="81" y="388" width="1" height="2"/><rect x="85" y="388" width="1" height="2"/><rect x="87" y="388" width="2" height="1.5"/><rect x="79" y="389" width="1" height="2"/><rect x="84" y="389" width="2" height="1.5"/><rect x="85" y="389" width="2" height="1.5"/><rect x="87" y="389" width="2" height="1"/><rect x="88" y="389" width="2" height="2"/><rect x="89" y="389" width="1" height="1.5"/><rect x="80" y="390" width="1" height="2"/><rect x="84" y="390" width="2" height="1"/><rect x="86" y="391" width="1.5" height="1"/></g>
<polygon points="120.5,398.2 127.0,398.2 129.0,411.4 123.3,413.3 120.5,405.7" fill="#d4e5f4" stroke="#d4e5f4" stroke-width="2.2" stroke-linejoin="round"/>
<g fill="#7ea2c9" filter="url(#bl)"><rect x="122" y="398" width="1" height="1.5"/><rect x="122" y="398" width="2" height="1"/><rect x="122" y="399" width="1" height="1"/><rect x="122" y="399" width="2" height="1.5"/><rect x="124" y="399" width="2" height="1"/><rect x="126" y="399" width="1.5" height="1"/><rect x="122" y="400" width="1" height="1"/><rect x="124" y="400" width="1" height="1.5"/><rect x="126" y="400" width="1" height="2"/><rect x="126" y="400" width="1.5" height="1"/><rect x="122" y="401" width="2" height="1"/><rect x="122" y="401" width="1" height="1"/><rect x="124" y="401" width="1.5" height="1"/><rect x="126" y="401" width="1.5" height="1"/><rect x="122" y="402" width="2" height="1.5"/><rect x="124" y="402" width="1" height="1.5"/><rect x="126" y="402" width="1" height="2"/><rect x="126" y="402" width="1.5" height="1"/><rect x="120" y="403" width="1.5" height="1"/><rect x="122" y="403" width="1" height="1"/><rect x="122" y="403" width="1.5" height="1"/><rect x="124" y="403" width="1" height="1.5"/><rect x="122" y="404" width="1" height="1.5"/><rect x="122" y="404" width="1" height="1"/><rect x="124" y="404" width="1" height="1"/><rect x="126" y="404" width="1" height="1"/><rect x="126" y="404" width="1" height="2"/><rect x="122" y="405" width="2" height="1.5"/><rect x="122" y="405" width="2" height="1.5"/><rect x="126" y="405" width="2" height="1"/><rect x="128" y="405" width="1.5" height="1.5"/><rect x="122" y="406" width="1.5" height="2"/><rect x="122" y="406" width="2" height="1.5"/><rect x="124" y="406" width="1" height="1"/><rect x="124" y="406" width="2" height="2"/><rect x="126" y="406" width="1.5" height="2"/><rect x="126" y="406" width="1" height="2"/><rect x="128" y="406" width="1" height="2"/><rect x="124" y="407" width="1" height="1"/><rect x="128" y="407" width="1" height="1.5"/><rect x="122" y="408" width="2" height="1.5"/><rect x="126" y="408" width="1" height="1"/><rect x="122" y="409" width="1" height="1.5"/><rect x="126" y="409" width="1" height="2"/><rect x="128" y="409" width="2" height="1"/><rect x="124" y="410" width="1" height="1.5"/><rect x="126" y="410" width="2" height="1.5"/><rect x="124" y="411" width="1" height="1"/><rect x="126" y="411" width="1" height="2"/></g>
<polygon points="81.7,409.5 93.0,407.6 95.0,420.9 83.6,421.8" fill="#d4e5f4" stroke="#d4e5f4" stroke-width="2.2" stroke-linejoin="round"/>
<g fill="#7ea2c9" filter="url(#bl)"><rect x="91" y="408" width="2" height="1.5"/><rect x="92" y="408" width="1.5" height="2"/><rect x="85" y="409" width="2" height="1"/><rect x="88" y="409" width="1.5" height="1"/><rect x="90" y="409" width="1.5" height="2"/><rect x="92" y="409" width="1" height="1"/><rect x="82" y="410" width="1" height="1"/><rect x="83" y="410" width="1.5" height="1.5"/><rect x="84" y="410" width="1.5" height="2"/><rect x="85" y="410" width="1" height="1"/><rect x="87" y="410" width="2" height="1.5"/><rect x="88" y="410" width="1" height="1.5"/><rect x="89" y="410" width="1" height="1"/><rect x="93" y="410" width="1" height="2"/><rect x="83" y="411" width="1.5" height="1.5"/><rect x="87" y="411" width="1.5" height="2"/><rect x="88" y="411" width="1.5" height="1"/><rect x="89" y="411" width="2" height="1.5"/><rect x="90" y="411" width="1" height="1"/><rect x="91" y="411" width="1.5" height="2"/><rect x="83" y="412" width="1" height="1"/><rect x="92" y="412" width="1" height="2"/><rect x="83" y="413" width="2" height="1"/><rect x="85" y="413" width="1" height="2"/><rect x="89" y="413" width="2" height="1"/><rect x="91" y="413" width="1.5" height="2"/><rect x="92" y="413" width="1" height="1.5"/><rect x="93" y="413" width="1" height="1"/><rect x="83" y="414" width="1.5" height="1"/><rect x="84" y="414" width="1" height="1"/><rect x="85" y="414" width="2" height="1.5"/><rect x="92" y="414" width="1" height="1"/><rect x="93" y="414" width="1.5" height="1"/><rect x="84" y="415" width="1.5" height="1"/><rect x="87" y="415" width="1.5" height="1"/><rect x="88" y="415" width="1" height="1.5"/><rect x="89" y="415" width="1" height="2"/><rect x="90" y="415" width="2" height="2"/><rect x="91" y="415" width="1" height="1.5"/><rect x="92" y="415" width="1.5" height="1"/><rect x="83" y="416" width="1" height="1"/><rect x="86" y="416" width="1" height="1"/><rect x="87" y="416" width="1" height="1"/><rect x="90" y="416" width="2" height="1.5"/><rect x="92" y="416" width="1" height="2"/><rect x="83" y="417" width="1.5" height="1"/><rect x="84" y="417" width="1.5" height="1"/><rect x="91" y="417" width="2" height="1"/><rect x="92" y="417" width="1.5" height="2"/><rect x="93" y="417" width="2" height="1.5"/><rect x="83" y="418" width="1.5" height="1"/><rect x="86" y="418" width="1" height="2"/><rect x="90" y="418" width="1" height="1"/><rect x="91" y="418" width="1.5" height="1.5"/><rect x="93" y="418" width="1" height="1.5"/><rect x="83" y="419" width="2" height="2"/><rect x="84" y="419" width="1.5" height="1.5"/><rect x="87" y="419" width="1" height="1"/><rect x="88" y="419" width="1.5" height="2"/><rect x="89" y="419" width="1" height="1"/><rect x="92" y="419" width="1" height="1"/><rect x="86" y="420" width="1" height="2"/><rect x="88" y="420" width="1" height="1.5"/><rect x="89" y="420" width="1" height="1"/><rect x="90" y="420" width="1" height="1.5"/><rect x="91" y="420" width="2" height="1.5"/><rect x="93" y="420" width="2" height="1"/><rect x="89" y="421" width="1" height="2"/><rect x="91" y="421" width="2" height="1"/></g>
<polygon points="33.5,399.0 38.0,398.5 41.0,401.0 41.0,405.0 35.0,405.0" fill="#f2d6d8" stroke="#f2d6d8" stroke-width="2.2" stroke-linejoin="round"/>
<g fill="#d6949a" filter="url(#bl)"><rect x="34" y="398" width="1" height="1"/><rect x="36" y="398" width="1.5" height="1"/><rect x="38" y="398" width="1" height="1"/><rect x="34" y="400" width="1" height="1.5"/><rect x="34" y="400" width="1" height="1"/><rect x="36" y="400" width="1" height="1"/><rect x="36" y="400" width="2" height="2"/><rect x="38" y="400" width="1" height="2"/><rect x="34" y="400" width="1" height="1"/><rect x="34" y="400" width="2" height="2"/><rect x="36" y="400" width="1.5" height="1"/><rect x="38" y="400" width="1" height="2"/><rect x="40" y="400" width="1.5" height="1"/><rect x="36" y="402" width="1.5" height="1"/><rect x="36" y="402" width="2" height="1"/><rect x="38" y="402" width="2" height="2"/><rect x="38" y="402" width="1" height="1.5"/><rect x="40" y="402" width="1" height="2"/><rect x="34" y="402" width="1.5" height="1"/><rect x="36" y="402" width="1.5" height="1"/><rect x="36" y="402" width="2" height="1"/><rect x="38" y="402" width="1.5" height="1"/><rect x="38" y="402" width="1" height="1"/><rect x="36" y="404" width="2" height="1.5"/><rect x="38" y="404" width="1" height="2"/><rect x="40" y="404" width="2" height="2"/></g>
<polygon points="41.0,401.5 47.0,404.0 53.4,405.5 53.0,409.5 46.0,408.5 41.0,406.0" fill="#d4e5f4" stroke="#d4e5f4" stroke-width="2.2" stroke-linejoin="round"/>
<g fill="#7ea2c9" filter="url(#bl)"><rect x="41" y="402" width="1" height="1"/><rect x="44" y="402" width="2" height="1"/><rect x="42" y="404" width="1" height="1"/><rect x="44" y="404" width="2" height="1"/><rect x="45" y="404" width="1" height="2"/><rect x="46" y="404" width="1" height="1"/><rect x="41" y="404" width="1" height="1.5"/><rect x="42" y="404" width="1" height="1.5"/><rect x="45" y="404" width="1" height="1"/><rect x="46" y="404" width="1" height="1.5"/><rect x="48" y="404" width="1.5" height="1"/><rect x="49" y="404" width="1.5" height="1"/><rect x="41" y="406" width="1.5" height="1.5"/><rect x="42" y="406" width="1" height="1.5"/><rect x="43" y="406" width="2" height="1"/><rect x="45" y="406" width="1" height="2"/><rect x="46" y="406" width="1" height="1.5"/><rect x="47" y="406" width="1.5" height="2"/><rect x="50" y="406" width="1.5" height="1"/><rect x="51" y="406" width="1.5" height="1"/><rect x="43" y="406" width="1" height="2"/><rect x="46" y="406" width="1.5" height="2"/><rect x="47" y="406" width="1" height="1"/><rect x="48" y="406" width="1.5" height="1.5"/><rect x="49" y="406" width="2" height="1"/><rect x="50" y="406" width="1.5" height="1"/><rect x="51" y="406" width="1.5" height="2"/><rect x="52" y="406" width="1" height="1.5"/><rect x="49" y="408" width="1" height="1"/><rect x="50" y="408" width="1.5" height="1"/><rect x="49" y="408" width="1" height="2"/><rect x="52" y="408" width="1" height="1.5"/></g>
<polygon points="69.0,386.0 71.0,386.0 71.0,388.0 69.0,388.0" fill="#f2d6d8" stroke="#f2d6d8" stroke-width="2.2" stroke-linejoin="round"/>
<g fill="#d6949a" filter="url(#bl)"><rect x="69" y="386" width="1" height="2"/><rect x="69" y="387" width="1.5" height="1"/></g>
<polygon points="62.0,396.0 64.0,396.0 66.0,409.0 64.0,410.0" fill="#d4e5f4" stroke="#d4e5f4" stroke-width="2.2" stroke-linejoin="round"/>
<g fill="#7ea2c9" filter="url(#bl)"><rect x="62" y="398" width="1.5" height="1.5"/><rect x="62" y="399" width="1" height="1"/><rect x="64" y="399" width="1" height="2"/><rect x="63" y="400" width="1.5" height="1"/><rect x="64" y="402" width="1" height="1"/><rect x="63" y="403" width="1.5" height="2"/><rect x="64" y="403" width="2" height="2"/><rect x="63" y="404" width="1.5" height="1"/><rect x="64" y="404" width="1.5" height="1"/><rect x="63" y="405" width="1" height="1"/><rect x="64" y="405" width="1.5" height="1"/><rect x="64" y="406" width="2" height="1"/><rect x="64" y="407" width="1" height="1"/><rect x="65" y="407" width="2" height="2"/><rect x="64" y="408" width="1.5" height="2"/><rect x="65" y="408" width="1.5" height="1"/><rect x="64" y="409" width="1" height="1.5"/></g>
<polygon points="31.0,487.0 33.5,487.0 35.0,498.5 33.0,499.0" fill="#d4e5f4" stroke="#d4e5f4" stroke-width="2.2" stroke-linejoin="round"/>
<g fill="#7ea2c9" filter="url(#bl)"><rect x="32" y="487" width="1" height="1"/><rect x="33" y="487" width="1" height="1"/><rect x="32" y="488" width="2" height="1"/><rect x="33" y="488" width="1" height="1"/><rect x="33" y="490" width="1" height="1.5"/><rect x="33" y="491" width="1.5" height="1"/><rect x="33" y="492" width="1" height="1.5"/><rect x="32" y="493" width="1" height="1.5"/><rect x="32" y="494" width="2" height="1.5"/><rect x="32" y="495" width="1.5" height="2"/><rect x="33" y="495" width="1" height="1.5"/><rect x="33" y="497" width="1" height="1.5"/><rect x="34" y="497" width="1" height="2"/><rect x="34" y="498" width="1" height="1"/></g>
<polygon points="30.5,484.0 33.5,484.0 33.5,489.0 30.5,489.0" fill="#f2d6d8" stroke="#f2d6d8" stroke-width="2.2" stroke-linejoin="round"/>
<g fill="#d6949a" filter="url(#bl)"><rect x="30" y="484" width="1" height="2"/><rect x="32" y="484" width="1" height="1"/><rect x="32" y="484" width="1" height="1"/><rect x="32" y="485" width="1" height="1"/><rect x="30" y="487" width="2" height="1.5"/><rect x="32" y="487" width="1" height="1.5"/><rect x="32" y="487" width="2" height="1"/><rect x="30" y="488" width="1" height="2"/><rect x="32" y="488" width="1.5" height="1"/></g>
<polygon points="402.0,77.3 410.3,77.3 410.3,84.2 402.0,84.2" fill="#d4e5f4" stroke="#d4e5f4" stroke-width="2.2" stroke-linejoin="round"/>
<g fill="#7ea2c9" filter="url(#bl)"><rect x="406" y="77" width="2" height="2"/><rect x="407" y="77" width="1" height="2"/><rect x="408" y="77" width="1" height="2"/><rect x="409" y="77" width="2" height="1.5"/><rect x="402" y="78" width="2" height="1"/><rect x="405" y="79" width="2" height="1"/><rect x="406" y="79" width="1.5" height="1"/><rect x="402" y="80" width="1" height="1"/><rect x="403" y="80" width="1.5" height="1"/><rect x="404" y="80" width="1.5" height="1"/><rect x="405" y="80" width="2" height="1.5"/><rect x="408" y="80" width="1.5" height="1"/><rect x="403" y="81" width="1" height="1"/><rect x="406" y="81" width="1" height="2"/><rect x="408" y="81" width="1.5" height="1"/><rect x="409" y="81" width="1.5" height="1.5"/><rect x="402" y="82" width="1" height="1.5"/><rect x="403" y="82" width="1.5" height="1.5"/><rect x="404" y="82" width="1" height="1"/><rect x="407" y="82" width="1" height="1"/><rect x="408" y="82" width="1" height="2"/><rect x="403" y="83" width="1" height="1"/><rect x="405" y="83" width="1.5" height="1"/></g>
<polygon points="429.0,85.6 439.4,84.2 440.0,88.0 439.0,91.0 429.7,89.0" fill="#d4e5f4" stroke="#d4e5f4" stroke-width="2.2" stroke-linejoin="round"/>
<g fill="#7ea2c9" filter="url(#bl)"><rect x="436" y="84" width="1" height="1.5"/><rect x="437" y="84" width="1.5" height="1.5"/><rect x="438" y="84" width="1" height="1"/><rect x="429" y="85" width="2" height="1"/><rect x="431" y="85" width="1.5" height="1.5"/><rect x="432" y="85" width="1" height="2"/><rect x="433" y="85" width="1" height="1"/><rect x="436" y="85" width="1.5" height="2"/><rect x="439" y="85" width="1" height="1"/><rect x="430" y="86" width="1" height="1"/><rect x="433" y="86" width="2" height="2"/><rect x="435" y="86" width="1" height="1"/><rect x="439" y="86" width="2" height="1"/><rect x="431" y="87" width="1.5" height="1.5"/><rect x="432" y="87" width="2" height="1.5"/><rect x="433" y="87" width="1" height="2"/><rect x="434" y="87" width="1" height="1"/><rect x="435" y="87" width="1" height="1"/><rect x="436" y="87" width="1" height="1.5"/><rect x="437" y="87" width="2" height="1"/><rect x="439" y="87" width="1" height="1.5"/><rect x="430" y="88" width="2" height="1"/><rect x="433" y="88" width="2" height="1"/><rect x="434" y="88" width="1" height="1.5"/><rect x="436" y="88" width="2" height="2"/><rect x="438" y="88" width="1" height="2"/><rect x="439" y="88" width="2" height="1.5"/><rect x="437" y="89" width="1" height="1"/><rect x="438" y="89" width="2" height="2"/><rect x="438" y="90" width="1" height="1"/></g>
<polygon points="439.4,84.2 446.0,87.0 454.7,91.2 456.0,95.3 442.2,93.2 439.0,91.0" fill="#f2d6d8" stroke="#f2d6d8" stroke-width="2.2" stroke-linejoin="round"/>
<g fill="#d6949a" filter="url(#bl)"><rect x="439" y="84" width="1.5" height="1"/><rect x="440" y="84" width="1" height="2"/><rect x="439" y="85" width="2" height="2"/><rect x="440" y="85" width="1" height="1"/><rect x="441" y="85" width="1" height="1"/><rect x="440" y="86" width="1.5" height="2"/><rect x="441" y="86" width="1" height="1.5"/><rect x="443" y="86" width="1.5" height="1"/><rect x="439" y="87" width="1" height="1.5"/><rect x="442" y="87" width="1.5" height="1"/><rect x="445" y="87" width="2" height="2"/><rect x="439" y="88" width="1" height="2"/><rect x="440" y="88" width="1" height="1"/><rect x="444" y="88" width="1.5" height="2"/><rect x="445" y="88" width="1.5" height="1.5"/><rect x="446" y="88" width="1" height="2"/><rect x="448" y="88" width="2" height="1"/><rect x="439" y="89" width="1" height="1"/><rect x="440" y="89" width="2" height="1"/><rect x="445" y="89" width="1" height="1"/><rect x="449" y="89" width="1" height="1"/><rect x="450" y="89" width="1" height="1"/><rect x="451" y="89" width="1.5" height="2"/><rect x="440" y="90" width="2" height="1"/><rect x="441" y="90" width="2" height="1"/><rect x="443" y="90" width="1" height="1.5"/><rect x="445" y="90" width="2" height="1"/><rect x="446" y="90" width="1.5" height="2"/><rect x="448" y="90" width="2" height="1"/><rect x="449" y="90" width="1" height="1.5"/><rect x="451" y="90" width="1" height="1"/><rect x="452" y="90" width="1" height="1"/><rect x="440" y="91" width="1" height="1.5"/><rect x="441" y="91" width="1.5" height="2"/><rect x="443" y="91" width="1.5" height="2"/><rect x="444" y="91" width="1.5" height="1"/><rect x="446" y="91" width="1.5" height="1"/><rect x="450" y="91" width="1" height="1"/><rect x="452" y="91" width="1" height="1"/><rect x="454" y="91" width="1" height="2"/><rect x="441" y="92" width="1.5" height="1"/><rect x="443" y="92" width="1.5" height="1.5"/><rect x="444" y="92" width="1" height="1"/><rect x="445" y="92" width="1.5" height="2"/><rect x="448" y="92" width="2" height="2"/><rect x="451" y="92" width="1" height="1"/><rect x="453" y="92" width="1" height="1"/><rect x="454" y="92" width="1" height="2"/><rect x="447" y="93" width="1.5" height="1"/><rect x="449" y="93" width="2" height="1.5"/><rect x="450" y="93" width="2" height="1.5"/><rect x="452" y="93" width="1" height="2"/><rect x="453" y="93" width="2" height="2"/><rect x="454" y="93" width="1" height="1"/><rect x="452" y="94" width="1.5" height="1"/></g>
<polygon points="431.0,94.6 437.4,94.6 437.4,98.8 431.0,98.8" fill="#f2d6d8" stroke="#f2d6d8" stroke-width="2.2" stroke-linejoin="round"/>
<g fill="#d6949a" filter="url(#bl)"><rect x="433" y="95" width="1" height="1"/><rect x="434" y="95" width="1" height="2"/><rect x="435" y="95" width="1.5" height="1.5"/><rect x="431" y="96" width="1" height="1"/><rect x="434" y="96" width="1" height="1"/><rect x="435" y="96" width="1.5" height="1"/><rect x="431" y="97" width="1.5" height="1.5"/><rect x="433" y="97" width="2" height="1"/><rect x="435" y="98" width="2" height="2"/></g>
<polygon points="470.0,75.9 478.3,70.3 485.0,68.0 484.0,73.0 481.1,75.2 472.8,77.3" fill="#d4e5f4" stroke="#d4e5f4" stroke-width="2.2" stroke-linejoin="round"/>
<g fill="#7ea2c9" filter="url(#bl)"><rect x="484" y="68" width="2" height="1"/><rect x="482" y="69" width="2" height="2"/><rect x="481" y="70" width="2" height="1"/><rect x="482" y="70" width="1.5" height="1"/><rect x="477" y="71" width="1.5" height="1.5"/><rect x="478" y="71" width="2" height="1"/><rect x="479" y="71" width="1" height="2"/><rect x="480" y="71" width="1.5" height="2"/><rect x="481" y="71" width="1.5" height="2"/><rect x="483" y="71" width="1" height="1.5"/><rect x="475" y="72" width="1.5" height="1.5"/><rect x="476" y="72" width="2" height="2"/><rect x="479" y="72" width="1" height="1.5"/><rect x="480" y="72" width="1.5" height="2"/><rect x="481" y="72" width="2" height="1"/><rect x="475" y="73" width="1" height="1"/><rect x="478" y="73" width="1.5" height="1.5"/><rect x="479" y="73" width="2" height="1.5"/><rect x="480" y="73" width="1.5" height="1"/><rect x="481" y="73" width="1" height="1"/><rect x="482" y="73" width="1" height="2"/><rect x="475" y="74" width="1" height="2"/><rect x="476" y="74" width="1.5" height="1"/><rect x="477" y="74" width="1" height="1.5"/><rect x="478" y="74" width="1" height="2"/><rect x="479" y="74" width="2" height="1.5"/><rect x="480" y="74" width="1" height="2"/><rect x="481" y="74" width="1" height="1"/><rect x="473" y="75" width="2" height="1.5"/><rect x="474" y="75" width="1" height="2"/><rect x="475" y="75" width="1" height="1.5"/><rect x="479" y="75" width="1" height="1"/><rect x="475" y="76" width="1" height="1"/></g>
<polygon points="485.0,68.0 489.4,64.8 492.2,62.0 503.3,62.0 504.7,67.5 497.8,71.7 492.2,73.1 484.0,73.0" fill="#f2d6d8" stroke="#f2d6d8" stroke-width="2.2" stroke-linejoin="round"/>
<g fill="#d6949a" filter="url(#bl)"><rect x="492" y="62" width="1.5" height="1.5"/><rect x="493" y="62" width="1" height="1.5"/><rect x="495" y="62" width="2" height="1.5"/><rect x="496" y="62" width="1.5" height="1"/><rect x="497" y="62" width="1" height="2"/><rect x="498" y="62" width="1.5" height="2"/><rect x="499" y="62" width="2" height="1"/><rect x="500" y="62" width="1.5" height="2"/><rect x="501" y="62" width="2" height="1"/><rect x="502" y="62" width="1" height="2"/><rect x="492" y="63" width="1" height="1"/><rect x="493" y="63" width="1.5" height="1"/><rect x="498" y="63" width="1" height="1"/><rect x="500" y="63" width="2" height="1.5"/><rect x="501" y="63" width="1.5" height="1"/><rect x="502" y="63" width="1" height="1.5"/><rect x="503" y="63" width="1.5" height="1"/><rect x="492" y="64" width="2" height="1"/><rect x="494" y="64" width="1" height="1"/><rect x="495" y="64" width="1" height="1"/><rect x="497" y="64" width="1" height="1.5"/><rect x="499" y="64" width="1" height="1"/><rect x="488" y="65" width="1" height="2"/><rect x="491" y="65" width="1" height="1"/><rect x="493" y="65" width="1" height="1.5"/><rect x="494" y="65" width="2" height="2"/><rect x="495" y="65" width="1" height="1"/><rect x="496" y="65" width="2" height="1"/><rect x="497" y="65" width="2" height="2"/><rect x="501" y="65" width="1.5" height="2"/><rect x="502" y="65" width="1" height="1"/><rect x="487" y="66" width="2" height="2"/><rect x="489" y="66" width="1" height="1.5"/><rect x="490" y="66" width="1" height="1"/><rect x="491" y="66" width="2" height="1"/><rect x="492" y="66" width="1.5" height="1"/><rect x="496" y="66" width="1" height="1"/><rect x="497" y="66" width="1.5" height="1.5"/><rect x="499" y="66" width="1.5" height="1"/><rect x="500" y="66" width="1" height="1"/><rect x="503" y="66" width="1" height="1.5"/><rect x="487" y="67" width="2" height="2"/><rect x="490" y="67" width="1.5" height="1.5"/><rect x="491" y="67" width="1" height="2"/><rect x="492" y="67" width="1.5" height="1.5"/><rect x="494" y="67" width="1" height="2"/><rect x="495" y="67" width="1" height="1"/><rect x="496" y="67" width="1" height="1.5"/><rect x="501" y="67" width="2" height="1"/><rect x="503" y="67" width="1" height="1"/><rect x="485" y="68" width="1" height="1.5"/><rect x="486" y="68" width="2" height="1.5"/><rect x="488" y="68" width="1.5" height="1"/><rect x="489" y="68" width="2" height="1"/><rect x="491" y="68" width="1.5" height="1"/><rect x="496" y="68" width="1" height="1"/><rect x="497" y="68" width="2" height="1.5"/><rect x="499" y="68" width="1" height="1"/><rect x="501" y="68" width="1.5" height="1"/><rect x="502" y="68" width="1.5" height="2"/><rect x="485" y="69" width="1" height="1"/><rect x="486" y="69" width="2" height="1.5"/><rect x="488" y="69" width="1.5" height="2"/><rect x="490" y="69" width="1.5" height="1"/><rect x="491" y="69" width="2" height="1"/><rect x="494" y="69" width="2" height="2"/><rect x="496" y="69" width="1" height="1"/><rect x="498" y="69" width="1.5" height="1.5"/><rect x="487" y="70" width="1" height="1.5"/><rect x="488" y="70" width="1.5" height="1"/><rect x="490" y="70" width="1" height="1.5"/><rect x="491" y="70" width="1" height="1"/><rect x="494" y="70" width="1" height="1.5"/><rect x="495" y="70" width="1.5" height="1.5"/><rect x="499" y="70" width="2" height="2"/><rect x="484" y="71" width="1.5" height="1"/><rect x="488" y="71" width="1" height="1"/><rect x="489" y="71" width="1.5" height="1.5"/><rect x="491" y="71" width="1" height="1.5"/><rect x="492" y="71" width="1" height="2"/><rect x="494" y="71" width="1.5" height="1"/><rect x="497" y="71" width="1" height="2"/><rect x="485" y="72" width="1.5" height="1.5"/><rect x="487" y="72" width="1" height="1"/><rect x="489" y="72" width="1.5" height="2"/><rect x="491" y="72" width="1" height="1"/><rect x="492" y="72" width="1" height="1"/></g>
<polygon points="489.4,74.5 500.6,75.9 506.0,82.8 506.0,88.4 503.3,89.8 500.6,82.8 495.0,80.0 490.8,78.7" fill="#d4e5f4" stroke="#d4e5f4" stroke-width="2.2" stroke-linejoin="round"/>
<g fill="#7ea2c9" filter="url(#bl)"><rect x="494" y="76" width="1.5" height="1"/><rect x="495" y="76" width="1" height="1.5"/><rect x="498" y="76" width="2" height="1.5"/><rect x="491" y="76" width="2" height="1.5"/><rect x="495" y="76" width="2" height="1.5"/><rect x="499" y="76" width="1" height="2"/><rect x="500" y="76" width="1" height="2"/><rect x="491" y="78" width="1" height="1"/><rect x="494" y="78" width="2" height="2"/><rect x="496" y="78" width="1.5" height="1"/><rect x="498" y="78" width="1" height="1.5"/><rect x="499" y="78" width="1.5" height="1"/><rect x="500" y="78" width="1.5" height="1"/><rect x="491" y="78" width="2" height="1"/><rect x="492" y="78" width="1" height="1.5"/><rect x="496" y="78" width="1" height="2"/><rect x="498" y="78" width="2" height="2"/><rect x="499" y="78" width="1" height="2"/><rect x="500" y="78" width="1" height="1"/><rect x="495" y="80" width="1" height="1"/><rect x="497" y="80" width="1.5" height="1"/><rect x="500" y="80" width="2" height="1"/><rect x="498" y="80" width="1" height="1"/><rect x="499" y="80" width="1" height="1.5"/><rect x="500" y="80" width="1.5" height="1"/><rect x="501" y="80" width="1" height="1"/><rect x="504" y="82" width="1" height="1"/><rect x="504" y="82" width="2" height="1"/><rect x="502" y="84" width="1.5" height="2"/><rect x="505" y="84" width="1.5" height="1"/><rect x="502" y="84" width="1" height="1.5"/><rect x="503" y="84" width="1" height="2"/><rect x="502" y="86" width="1.5" height="1"/><rect x="504" y="86" width="1" height="1"/><rect x="504" y="86" width="2" height="1.5"/><rect x="502" y="88" width="1" height="2"/><rect x="505" y="88" width="1.5" height="1"/><rect x="503" y="88" width="1" height="2"/></g>
<polygon points="500.0,82.0 506.0,84.0 506.0,90.0 503.0,92.0" fill="#f2d6d8" stroke="#f2d6d8" stroke-width="2.2" stroke-linejoin="round"/>
<g fill="#d6949a" filter="url(#bl)"><rect x="500" y="83" width="1" height="1"/><rect x="501" y="83" width="1" height="1"/><rect x="502" y="83" width="1" height="1"/><rect x="505" y="84" width="2" height="1"/><rect x="501" y="85" width="2" height="1"/><rect x="502" y="85" width="2" height="1"/><rect x="504" y="85" width="1" height="2"/><rect x="505" y="85" width="2" height="1"/><rect x="503" y="86" width="1" height="2"/><rect x="504" y="86" width="1" height="1.5"/><rect x="502" y="87" width="1" height="1"/><rect x="503" y="87" width="1" height="2"/><rect x="502" y="88" width="2" height="1.5"/><rect x="503" y="89" width="1" height="1"/><rect x="504" y="89" width="1" height="1"/><rect x="505" y="89" width="1" height="1"/><rect x="503" y="90" width="2" height="1"/></g>
<polygon points="497.8,114.8 500.6,114.8 507.5,130.0 504.7,131.4 498.5,120.3" fill="#f2d6d8" stroke="#f2d6d8" stroke-width="2.2" stroke-linejoin="round"/>
<g fill="#d6949a" filter="url(#bl)"><rect x="498" y="115" width="2" height="2"/><rect x="499" y="115" width="1" height="1"/><rect x="498" y="116" width="1" height="2"/><rect x="499" y="116" width="1" height="1"/><rect x="501" y="117" width="2" height="1"/><rect x="498" y="118" width="2" height="1"/><rect x="499" y="118" width="1" height="2"/><rect x="500" y="118" width="2" height="2"/><rect x="501" y="118" width="2" height="1"/><rect x="500" y="119" width="2" height="1.5"/><rect x="500" y="120" width="1.5" height="1.5"/><rect x="502" y="120" width="1" height="1"/><rect x="500" y="121" width="1.5" height="1"/><rect x="502" y="121" width="1" height="1"/><rect x="501" y="122" width="1.5" height="1"/><rect x="503" y="122" width="1" height="1"/><rect x="500" y="123" width="1" height="1"/><rect x="502" y="123" width="1" height="1"/><rect x="503" y="123" width="1" height="1"/><rect x="504" y="123" width="2" height="1"/><rect x="501" y="124" width="2" height="1"/><rect x="503" y="124" width="2" height="1.5"/><rect x="504" y="124" width="1" height="1"/><rect x="501" y="125" width="1" height="1"/><rect x="502" y="125" width="1.5" height="1"/><rect x="504" y="125" width="1" height="1"/><rect x="502" y="126" width="1" height="1.5"/><rect x="503" y="126" width="1" height="1"/><rect x="504" y="126" width="1" height="2"/><rect x="505" y="126" width="2" height="1"/><rect x="503" y="127" width="1" height="1"/><rect x="504" y="127" width="1" height="1"/><rect x="504" y="128" width="1.5" height="1"/><rect x="505" y="128" width="1" height="1.5"/><rect x="504" y="129" width="1.5" height="1.5"/><rect x="505" y="129" width="1.5" height="1.5"/><rect x="504" y="130" width="2" height="1.5"/><rect x="505" y="130" width="1.5" height="1"/><rect x="506" y="130" width="1.5" height="1"/></g>
<polygon points="530.0,137.7 536.0,137.7 536.0,141.0 530.0,141.0" fill="#f2d6d8" stroke="#f2d6d8" stroke-width="2.2" stroke-linejoin="round"/>
<g fill="#d6949a" filter="url(#bl)"><rect x="530" y="138" width="2" height="2"/><rect x="531" y="138" width="1" height="1"/><rect x="532" y="138" width="1.5" height="2"/><rect x="533" y="138" width="1" height="2"/><rect x="535" y="138" width="1" height="1.5"/><rect x="530" y="139" width="1" height="1"/><rect x="533" y="139" width="1.5" height="2"/><rect x="534" y="139" width="2" height="1"/><rect x="535" y="139" width="1" height="2"/><rect x="531" y="140" width="1.5" height="1"/><rect x="532" y="140" width="1" height="2"/><rect x="533" y="140" width="1.5" height="1"/></g>
<polygon points="540.0,137.0 546.0,135.0 548.7,138.0 545.0,145.7 541.0,144.0" fill="#d4e5f4" stroke="#d4e5f4" stroke-width="2.2" stroke-linejoin="round"/>
<g fill="#7ea2c9" filter="url(#bl)"><rect x="544" y="135" width="2" height="1"/><rect x="542" y="136" width="1.5" height="1.5"/><rect x="540" y="137" width="2" height="1.5"/><rect x="542" y="137" width="2" height="1"/><rect x="543" y="137" width="1.5" height="2"/><rect x="545" y="137" width="2" height="1"/><rect x="546" y="137" width="2" height="1.5"/><rect x="542" y="138" width="1" height="1"/><rect x="543" y="138" width="1.5" height="2"/><rect x="544" y="138" width="1" height="1"/><rect x="542" y="139" width="1" height="1"/><rect x="544" y="139" width="1" height="1.5"/><rect x="546" y="139" width="1" height="1"/><rect x="547" y="139" width="2" height="1"/><rect x="540" y="140" width="1" height="1"/><rect x="541" y="140" width="1" height="1.5"/><rect x="543" y="140" width="1.5" height="1"/><rect x="545" y="140" width="1.5" height="1.5"/><rect x="541" y="141" width="2" height="1.5"/><rect x="545" y="141" width="1" height="1.5"/><rect x="544" y="142" width="2" height="1.5"/><rect x="541" y="143" width="1" height="2"/><rect x="542" y="143" width="1.5" height="1"/><rect x="545" y="143" width="1" height="1"/><rect x="543" y="144" width="1.5" height="1.5"/><rect x="544" y="144" width="1" height="1"/><rect x="545" y="144" width="1" height="1.5"/></g>
<polygon points="557.3,138.3 562.0,138.3 562.0,140.3 557.3,140.3" fill="#f2d6d8" stroke="#f2d6d8" stroke-width="2.2" stroke-linejoin="round"/>
<g fill="#d6949a" filter="url(#bl)"><rect x="558" y="138" width="1" height="1"/><rect x="559" y="138" width="1" height="1"/><rect x="560" y="138" width="1" height="1"/><rect x="557" y="139" width="1" height="1.5"/><rect x="558" y="139" width="2" height="1"/><rect x="559" y="139" width="1" height="1.5"/><rect x="560" y="139" width="1" height="1"/><rect x="561" y="139" width="1" height="1.5"/></g>
<polygon points="560.7,143.7 565.0,144.0 572.7,148.5 571.0,150.3 563.0,148.0" fill="#f2d6d8" stroke="#f2d6d8" stroke-width="2.2" stroke-linejoin="round"/>
<g fill="#d6949a" filter="url(#bl)"><rect x="562" y="144" width="2" height="1"/><rect x="563" y="144" width="1" height="1"/><rect x="564" y="144" width="1" height="2"/><rect x="562" y="145" width="1.5" height="1.5"/><rect x="563" y="145" width="1" height="2"/><rect x="564" y="145" width="1" height="1"/><rect x="565" y="145" width="1" height="2"/><rect x="563" y="146" width="1" height="1"/><rect x="566" y="146" width="1.5" height="2"/><rect x="567" y="146" width="1.5" height="1"/><rect x="568" y="146" width="1.5" height="2"/><rect x="565" y="147" width="1.5" height="1"/><rect x="567" y="147" width="2" height="1"/><rect x="569" y="147" width="1" height="2"/><rect x="564" y="148" width="1.5" height="1.5"/><rect x="565" y="148" width="2" height="2"/><rect x="568" y="148" width="1.5" height="1"/><rect x="569" y="148" width="1" height="1.5"/><rect x="570" y="148" width="1" height="2"/><rect x="571" y="148" width="2" height="1"/><rect x="567" y="149" width="1" height="1.5"/><rect x="568" y="149" width="1" height="1.5"/><rect x="570" y="149" width="2" height="1"/><rect x="571" y="149" width="1" height="1"/></g>
<polygon points="512.0,148.3 516.0,148.3 516.0,151.7 512.0,151.7" fill="#f2d6d8" stroke="#f2d6d8" stroke-width="2.2" stroke-linejoin="round"/>
<g fill="#d6949a" filter="url(#bl)"><rect x="512" y="148" width="1.5" height="2"/><rect x="514" y="149" width="1" height="1"/><rect x="515" y="149" width="1" height="1"/><rect x="514" y="150" width="1" height="1"/></g>
<polygon points="524.7,152.0 533.3,149.0 533.3,151.0 525.0,153.7" fill="#f2d6d8" stroke="#f2d6d8" stroke-width="2.2" stroke-linejoin="round"/>
<g fill="#d6949a" filter="url(#bl)"><rect x="533" y="149" width="1" height="1"/><rect x="530" y="150" width="1.5" height="1"/><rect x="532" y="150" width="1.5" height="1.5"/><rect x="526" y="151" width="1" height="1"/><rect x="527" y="151" width="1" height="1"/><rect x="528" y="151" width="1" height="2"/><rect x="530" y="151" width="1" height="1"/><rect x="531" y="151" width="2" height="1.5"/><rect x="526" y="152" width="1.5" height="1"/></g>
<polygon points="592.7,105.0 598.0,105.0 598.0,111.7 592.7,111.7" fill="#d4e5f4" stroke="#d4e5f4" stroke-width="2.2" stroke-linejoin="round"/>
<g fill="#7ea2c9" filter="url(#bl)"><rect x="593" y="105" width="2" height="1"/><rect x="594" y="105" width="2" height="2"/><rect x="595" y="105" width="2" height="1"/><rect x="596" y="105" width="1.5" height="1"/><rect x="593" y="106" width="1" height="1"/><rect x="594" y="106" width="1" height="2"/><rect x="595" y="106" width="2" height="1"/><rect x="596" y="106" width="1" height="1"/><rect x="593" y="107" width="1.5" height="1"/><rect x="597" y="107" width="1" height="1"/><rect x="593" y="108" width="1" height="1.5"/><rect x="597" y="108" width="2" height="1.5"/><rect x="595" y="109" width="1" height="1"/><rect x="597" y="109" width="1" height="1.5"/><rect x="593" y="110" width="1" height="1"/><rect x="597" y="111" width="2" height="1"/></g>
<polygon points="586.7,114.3 589.3,114.3 589.3,117.7 586.7,117.7" fill="#f2d6d8" stroke="#f2d6d8" stroke-width="2.2" stroke-linejoin="round"/>
<g fill="#d6949a" filter="url(#bl)"><rect x="589" y="114" width="2" height="2"/><rect x="589" y="115" width="1" height="1"/><rect x="587" y="116" width="1" height="1"/></g>
<polygon points="587.3,120.3 588.7,120.3 588.7,122.3 587.3,122.3" fill="#f2d6d8" stroke="#f2d6d8" stroke-width="2.2" stroke-linejoin="round"/>
<g fill="#d6949a" filter="url(#bl)"><rect x="587" y="120" width="1" height="1"/><rect x="587" y="121" width="1" height="1"/></g>
<polygon points="510.0,175.0 513.0,174.0 514.0,192.0 511.0,195.0" fill="#d4e5f4" stroke="#d4e5f4" stroke-width="2.2" stroke-linejoin="round"/>
<g fill="#7ea2c9" filter="url(#bl)"><rect x="511" y="174" width="1" height="2"/><rect x="510" y="176" width="1" height="2"/><rect x="511" y="176" width="1.5" height="1.5"/><rect x="511" y="177" width="2" height="1.5"/><rect x="512" y="177" width="2" height="1"/><rect x="510" y="178" width="1" height="2"/><rect x="511" y="178" width="1" height="2"/><rect x="511" y="179" width="2" height="1"/><rect x="512" y="179" width="1" height="1"/><rect x="511" y="180" width="1" height="1"/><rect x="512" y="180" width="1" height="1"/><rect x="512" y="181" width="1.5" height="1"/><rect x="511" y="182" width="1" height="1"/><rect x="512" y="182" width="1.5" height="1.5"/><rect x="510" y="183" width="1" height="1"/><rect x="511" y="183" width="2" height="1"/><rect x="513" y="183" width="1" height="1.5"/><rect x="510" y="184" width="1.5" height="2"/><rect x="511" y="185" width="1.5" height="1"/><rect x="513" y="185" width="2" height="2"/><rect x="511" y="186" width="1" height="1.5"/><rect x="512" y="186" width="1" height="2"/><rect x="511" y="187" width="2" height="1"/><rect x="511" y="188" width="1" height="1.5"/><rect x="512" y="188" width="2" height="1.5"/><rect x="511" y="190" width="1" height="2"/><rect x="513" y="190" width="2" height="1"/><rect x="512" y="191" width="1.5" height="1"/><rect x="511" y="192" width="1.5" height="1"/><rect x="512" y="192" width="1" height="2"/></g>
<polygon points="505.5,207.0 510.0,200.0 514.0,192.0 517.0,188.0 518.5,200.0 516.0,207.5" fill="#f2d6d8" stroke="#f2d6d8" stroke-width="2.2" stroke-linejoin="round"/>
<g fill="#d6949a" filter="url(#bl)"><rect x="516" y="188" width="1.5" height="2"/><rect x="516" y="189" width="1.5" height="1"/><rect x="516" y="190" width="1" height="1"/><rect x="514" y="191" width="2" height="1"/><rect x="516" y="191" width="1" height="2"/><rect x="516" y="191" width="2" height="2"/><rect x="514" y="192" width="1.5" height="1"/><rect x="514" y="192" width="1" height="2"/><rect x="516" y="192" width="2" height="1.5"/><rect x="514" y="193" width="1.5" height="1.5"/><rect x="514" y="193" width="1.5" height="1"/><rect x="516" y="193" width="1.5" height="1"/><rect x="512" y="194" width="1" height="1"/><rect x="514" y="194" width="1" height="1"/><rect x="516" y="194" width="2" height="1"/><rect x="516" y="194" width="1" height="1"/><rect x="512" y="195" width="2" height="1"/><rect x="516" y="195" width="1.5" height="1"/><rect x="516" y="195" width="2" height="1"/><rect x="512" y="196" width="1.5" height="1"/><rect x="512" y="196" width="2" height="1"/><rect x="514" y="196" width="1" height="2"/><rect x="514" y="196" width="1" height="1.5"/><rect x="516" y="196" width="2" height="1.5"/><rect x="518" y="196" width="1.5" height="1.5"/><rect x="512" y="197" width="1" height="1"/><rect x="512" y="197" width="1.5" height="1"/><rect x="514" y="197" width="1.5" height="2"/><rect x="514" y="197" width="1" height="1"/><rect x="516" y="197" width="1.5" height="1.5"/><rect x="518" y="197" width="2" height="1.5"/><rect x="510" y="198" width="2" height="1"/><rect x="512" y="198" width="1" height="2"/><rect x="512" y="198" width="1" height="1"/><rect x="514" y="198" width="1.5" height="1"/><rect x="514" y="198" width="1" height="1.5"/><rect x="516" y="198" width="1" height="2"/><rect x="518" y="198" width="1.5" height="2"/><rect x="510" y="199" width="1" height="1.5"/><rect x="512" y="199" width="1" height="2"/><rect x="514" y="199" width="1" height="1"/><rect x="516" y="199" width="1.5" height="1"/><rect x="516" y="199" width="2" height="1"/><rect x="518" y="199" width="2" height="1"/><rect x="510" y="200" width="1.5" height="1"/><rect x="512" y="200" width="1" height="2"/><rect x="512" y="200" width="1" height="1.5"/><rect x="514" y="200" width="2" height="2"/><rect x="514" y="200" width="1" height="1"/><rect x="516" y="200" width="1" height="1.5"/><rect x="516" y="200" width="1.5" height="2"/><rect x="518" y="200" width="1" height="1.5"/><rect x="510" y="201" width="2" height="2"/><rect x="512" y="201" width="1.5" height="2"/><rect x="512" y="201" width="2" height="1"/><rect x="514" y="201" width="1" height="1"/><rect x="514" y="201" width="2" height="1"/><rect x="516" y="201" width="1" height="1.5"/><rect x="508" y="202" width="2" height="1.5"/><rect x="510" y="202" width="1" height="1.5"/><rect x="512" y="202" width="1" height="2"/><rect x="512" y="202" width="1.5" height="1.5"/><rect x="514" y="202" width="1.5" height="1"/><rect x="514" y="202" width="2" height="1.5"/><rect x="516" y="202" width="1" height="1"/><rect x="508" y="203" width="1" height="2"/><rect x="510" y="203" width="2" height="2"/><rect x="512" y="203" width="2" height="1"/><rect x="512" y="203" width="1" height="1.5"/><rect x="514" y="203" width="1.5" height="2"/><rect x="514" y="203" width="1" height="1.5"/><rect x="516" y="203" width="1" height="2"/><rect x="516" y="203" width="1" height="2"/><rect x="508" y="204" width="2" height="1.5"/><rect x="508" y="204" width="1" height="1"/><rect x="510" y="204" width="2" height="1.5"/><rect x="510" y="204" width="1" height="2"/><rect x="512" y="204" width="2" height="1"/><rect x="512" y="204" width="1" height="2"/><rect x="514" y="204" width="1" height="1.5"/><rect x="514" y="204" width="1" height="1"/><rect x="506" y="205" width="1" height="1.5"/><rect x="508" y="205" width="1.5" height="1.5"/><rect x="508" y="205" width="1.5" height="1"/><rect x="510" y="205" width="1.5" height="1.5"/><rect x="512" y="205" width="2" height="1.5"/><rect x="514" y="205" width="2" height="2"/><rect x="514" y="205" width="1" height="2"/><rect x="516" y="205" width="1" height="2"/><rect x="506" y="206" width="1.5" height="1.5"/><rect x="506" y="206" width="1" height="2"/><rect x="508" y="206" width="1.5" height="1.5"/><rect x="508" y="206" width="1" height="1"/><rect x="510" y="206" width="1.5" height="1"/><rect x="512" y="206" width="1" height="1.5"/><rect x="512" y="206" width="1" height="1"/><rect x="516" y="206" width="1" height="2"/></g>
<polygon points="518.0,208.0 523.0,210.0 531.0,219.0 538.0,228.0 535.0,229.5 527.0,222.0 519.0,214.0" fill="#d4e5f4" stroke="#d4e5f4" stroke-width="2.2" stroke-linejoin="round"/>
<g fill="#7ea2c9" filter="url(#bl)"><rect x="518" y="210" width="1" height="2"/><rect x="521" y="210" width="1" height="2"/><rect x="523" y="211" width="1" height="1"/><rect x="523" y="212" width="1" height="1"/><rect x="521" y="213" width="2" height="2"/><rect x="523" y="213" width="2" height="2"/><rect x="519" y="214" width="1" height="1"/><rect x="521" y="214" width="1.5" height="1.5"/><rect x="523" y="214" width="2" height="1"/><rect x="524" y="214" width="1" height="1.5"/><rect x="523" y="215" width="2" height="2"/><rect x="526" y="215" width="2" height="1.5"/><rect x="527" y="215" width="1.5" height="1"/><rect x="521" y="216" width="1" height="1"/><rect x="526" y="216" width="1" height="2"/><rect x="523" y="217" width="2" height="1"/><rect x="527" y="217" width="1" height="1"/><rect x="528" y="217" width="1.5" height="1.5"/><rect x="523" y="218" width="2" height="1"/><rect x="524" y="218" width="1" height="2"/><rect x="528" y="218" width="2" height="2"/><rect x="529" y="218" width="1" height="2"/><rect x="524" y="219" width="1" height="2"/><rect x="529" y="219" width="1" height="1.5"/><rect x="530" y="219" width="1" height="1.5"/><rect x="525" y="220" width="1" height="2"/><rect x="526" y="220" width="1.5" height="1"/><rect x="528" y="220" width="1" height="1.5"/><rect x="529" y="220" width="2" height="1"/><rect x="530" y="220" width="1" height="1.5"/><rect x="526" y="221" width="1" height="1"/><rect x="527" y="221" width="2" height="1"/><rect x="531" y="221" width="2" height="1.5"/><rect x="530" y="222" width="1.5" height="2"/><rect x="533" y="222" width="1.5" height="2"/><rect x="531" y="223" width="1" height="2"/><rect x="532" y="223" width="1" height="1"/><rect x="533" y="223" width="2" height="1"/><rect x="530" y="224" width="1" height="2"/><rect x="531" y="224" width="1.5" height="1.5"/><rect x="531" y="225" width="2" height="1"/><rect x="533" y="227" width="2" height="2"/><rect x="535" y="227" width="1.5" height="1.5"/><rect x="537" y="227" width="1" height="2"/></g>
<polygon points="517.0,207.0 522.0,208.0 526.0,214.0 522.0,215.0" fill="#f2d6d8" stroke="#f2d6d8" stroke-width="2.2" stroke-linejoin="round"/>
<g fill="#d6949a" filter="url(#bl)"><rect x="518" y="207" width="1" height="2"/><rect x="519" y="208" width="1" height="1.5"/><rect x="520" y="208" width="1" height="2"/><rect x="520" y="209" width="1.5" height="2"/><rect x="520" y="210" width="1" height="2"/><rect x="522" y="210" width="1" height="1"/><rect x="522" y="211" width="1.5" height="1"/><rect x="520" y="212" width="1" height="1"/><rect x="521" y="212" width="1" height="1.5"/><rect x="522" y="212" width="2" height="1"/><rect x="521" y="213" width="1" height="1"/><rect x="522" y="213" width="2" height="1"/><rect x="525" y="213" width="1.5" height="1"/></g>
<polygon points="469.6,196.0 474.0,196.0 474.0,200.6 469.6,200.6" fill="#f2d6d8" stroke="#f2d6d8" stroke-width="2.2" stroke-linejoin="round"/>
<g fill="#d6949a" filter="url(#bl)"><rect x="470" y="196" width="2" height="1"/><rect x="473" y="196" width="1.5" height="2"/><rect x="470" y="197" width="2" height="1"/><rect x="471" y="197" width="1.5" height="1"/><rect x="472" y="197" width="1" height="1"/><rect x="470" y="198" width="1" height="1.5"/><rect x="472" y="198" width="1" height="2"/><rect x="471" y="199" width="1" height="2"/><rect x="472" y="200" width="1" height="1"/><rect x="473" y="200" width="2" height="1"/></g>
<polygon points="532.5,177.0 534.5,177.0 531.0,189.0 529.5,189.0" fill="#f2d6d8" stroke="#f2d6d8" stroke-width="2.2" stroke-linejoin="round"/>
<g fill="#d6949a" filter="url(#bl)"><rect x="534" y="177" width="1" height="2"/><rect x="532" y="178" width="1" height="2"/><rect x="534" y="178" width="1" height="2"/><rect x="532" y="179" width="1" height="2"/><rect x="532" y="180" width="1" height="1.5"/><rect x="532" y="181" width="2" height="1"/><rect x="532" y="181" width="2" height="1.5"/><rect x="530" y="183" width="1" height="1.5"/><rect x="530" y="184" width="1" height="1.5"/><rect x="532" y="184" width="1" height="1.5"/><rect x="530" y="185" width="1" height="1.5"/><rect x="530" y="186" width="2" height="2"/><rect x="530" y="187" width="2" height="1"/><rect x="530" y="187" width="2" height="1.5"/></g>
<polygon points="590.4,208.9 596.0,209.5 604.0,215.0 603.0,217.3 596.0,215.0" fill="#f2d6d8" stroke="#f2d6d8" stroke-width="2.2" stroke-linejoin="round"/>
<g fill="#d6949a" filter="url(#bl)"><rect x="590" y="209" width="1" height="1"/><rect x="591" y="209" width="2" height="1"/><rect x="592" y="209" width="1.5" height="1"/><rect x="593" y="209" width="2" height="1"/><rect x="594" y="209" width="1" height="1"/><rect x="591" y="210" width="1" height="1"/><rect x="593" y="210" width="2" height="1"/><rect x="594" y="210" width="1.5" height="2"/><rect x="596" y="210" width="2" height="1"/><rect x="592" y="211" width="2" height="1"/><rect x="593" y="211" width="1" height="2"/><rect x="595" y="211" width="1" height="1.5"/><rect x="597" y="211" width="1" height="1"/><rect x="593" y="212" width="1" height="1"/><rect x="595" y="212" width="2" height="1"/><rect x="596" y="212" width="2" height="1"/><rect x="598" y="212" width="1" height="2"/><rect x="599" y="212" width="2" height="1"/><rect x="595" y="213" width="2" height="1.5"/><rect x="596" y="213" width="2" height="1"/><rect x="597" y="213" width="2" height="1.5"/><rect x="598" y="213" width="1.5" height="1"/><rect x="599" y="213" width="1.5" height="1.5"/><rect x="600" y="213" width="1" height="1.5"/><rect x="596" y="214" width="1" height="1"/><rect x="598" y="214" width="2" height="1"/><rect x="599" y="214" width="1.5" height="2"/><rect x="600" y="214" width="1.5" height="1"/><rect x="601" y="214" width="1" height="1.5"/><rect x="602" y="214" width="1.5" height="1.5"/><rect x="598" y="215" width="2" height="1.5"/><rect x="599" y="215" width="1.5" height="1"/><rect x="600" y="215" width="2" height="1"/><rect x="601" y="215" width="1" height="2"/><rect x="602" y="215" width="2" height="2"/></g>
<polygon points="408.4,229.5 412.4,229.5 412.4,245.3 408.4,245.3" fill="#f2d6d8" stroke="#f2d6d8" stroke-width="2.2" stroke-linejoin="round"/>
<g fill="#d6949a" filter="url(#bl)"><rect x="409" y="230" width="1" height="1"/><rect x="411" y="230" width="1.5" height="1.5"/><rect x="410" y="230" width="1.5" height="1.5"/><rect x="410" y="232" width="1" height="1"/><rect x="411" y="232" width="1" height="1"/><rect x="408" y="232" width="1" height="1"/><rect x="408" y="236" width="1" height="1"/><rect x="409" y="236" width="2" height="1"/><rect x="408" y="236" width="2" height="2"/><rect x="409" y="236" width="1.5" height="1.5"/><rect x="410" y="236" width="1" height="1"/><rect x="411" y="236" width="2" height="2"/><rect x="410" y="238" width="1" height="1"/><rect x="411" y="238" width="1.5" height="1"/><rect x="408" y="238" width="1" height="2"/><rect x="409" y="238" width="1" height="1"/><rect x="408" y="240" width="1" height="1.5"/><rect x="409" y="240" width="1.5" height="2"/><rect x="410" y="240" width="2" height="1"/><rect x="411" y="240" width="1.5" height="2"/><rect x="409" y="240" width="2" height="1.5"/><rect x="408" y="242" width="1.5" height="1"/><rect x="409" y="242" width="2" height="2"/><rect x="411" y="242" width="1" height="1"/><rect x="408" y="242" width="1" height="1"/><rect x="411" y="242" width="1" height="1.5"/><rect x="409" y="244" width="1" height="1.5"/><rect x="410" y="244" width="1.5" height="1"/><rect x="408" y="244" width="1.5" height="2"/></g>
<polygon points="402.0,242.0 404.5,242.0 404.5,244.5 402.0,244.5" fill="#f2d6d8" stroke="#f2d6d8" stroke-width="2.2" stroke-linejoin="round"/>
<g fill="#d6949a" filter="url(#bl)"><rect x="403" y="242" width="1" height="1.5"/><rect x="402" y="243" width="2" height="1.5"/><rect x="403" y="243" width="2" height="2"/></g>
<polygon points="408.4,251.6 413.2,251.6 413.2,267.4 408.4,267.4" fill="#f2d6d8" stroke="#f2d6d8" stroke-width="2.2" stroke-linejoin="round"/>
<g fill="#d6949a" filter="url(#bl)"><rect x="410" y="252" width="1" height="1.5"/><rect x="411" y="253" width="2" height="2"/><rect x="412" y="253" width="1" height="1.5"/><rect x="410" y="254" width="1" height="1"/><rect x="411" y="254" width="1.5" height="2"/><rect x="408" y="256" width="2" height="1"/><rect x="410" y="256" width="1" height="1.5"/><rect x="409" y="257" width="1" height="1.5"/><rect x="411" y="257" width="2" height="1"/><rect x="408" y="258" width="1.5" height="1"/><rect x="408" y="259" width="1" height="1"/><rect x="409" y="259" width="1.5" height="1.5"/><rect x="410" y="259" width="1.5" height="1.5"/><rect x="409" y="260" width="2" height="1.5"/><rect x="410" y="260" width="1.5" height="1.5"/><rect x="408" y="262" width="2" height="1.5"/><rect x="409" y="262" width="1" height="1"/><rect x="408" y="263" width="1" height="1.5"/><rect x="410" y="263" width="1.5" height="1.5"/><rect x="412" y="265" width="1" height="1.5"/><rect x="411" y="266" width="2" height="1.5"/><rect x="409" y="267" width="2" height="2"/><rect x="410" y="267" width="1" height="1"/></g>
<polygon points="449.5,245.3 455.0,245.3 455.0,250.0 449.5,250.0" fill="#f2d6d8" stroke="#f2d6d8" stroke-width="2.2" stroke-linejoin="round"/>
<g fill="#d6949a" filter="url(#bl)"><rect x="450" y="245" width="1" height="1"/><rect x="450" y="246" width="1" height="1.5"/><rect x="454" y="246" width="1.5" height="1"/><rect x="450" y="247" width="1" height="1"/><rect x="452" y="247" width="2" height="1"/><rect x="450" y="248" width="1" height="2"/><rect x="452" y="248" width="1" height="1"/><rect x="454" y="248" width="2" height="2"/><rect x="452" y="249" width="2" height="1"/><rect x="452" y="249" width="2" height="2"/></g>
<polygon points="495.3,254.0 499.0,254.5 504.0,260.0 503.0,263.4 497.0,261.0" fill="#f2d6d8" stroke="#f2d6d8" stroke-width="2.2" stroke-linejoin="round"/>
<g fill="#d6949a" filter="url(#bl)"><rect x="495" y="254" width="2" height="2"/><rect x="496" y="254" width="1" height="1"/><rect x="497" y="254" width="1" height="1.5"/><rect x="495" y="255" width="1" height="1.5"/><rect x="497" y="255" width="2" height="1"/><rect x="496" y="256" width="2" height="1"/><rect x="497" y="256" width="1" height="1.5"/><rect x="498" y="256" width="1" height="1"/><rect x="499" y="256" width="2" height="1"/><rect x="500" y="256" width="1" height="1"/><rect x="499" y="257" width="1" height="1"/><rect x="500" y="257" width="1" height="1"/><rect x="497" y="259" width="1" height="2"/><rect x="502" y="259" width="2" height="1"/><rect x="497" y="260" width="1.5" height="2"/><rect x="500" y="260" width="2" height="1.5"/><rect x="501" y="260" width="1" height="1"/><rect x="502" y="260" width="1" height="1.5"/><rect x="498" y="261" width="2" height="1.5"/><rect x="499" y="261" width="1" height="1.5"/><rect x="500" y="262" width="1" height="2"/></g>
<polygon points="507.0,258.0 509.5,258.0 514.0,264.0 520.0,269.0 522.5,276.0 519.0,278.5 513.0,274.0 510.0,266.0" fill="#f2d6d8" stroke="#f2d6d8" stroke-width="2.2" stroke-linejoin="round"/>
<g fill="#d6949a" filter="url(#bl)"><rect x="508" y="258" width="1" height="1.5"/><rect x="509" y="258" width="1" height="1"/><rect x="509" y="259" width="1.5" height="1.5"/><rect x="509" y="260" width="1" height="2"/><rect x="510" y="260" width="1" height="2"/><rect x="508" y="261" width="1" height="1.5"/><rect x="511" y="261" width="1" height="1.5"/><rect x="509" y="262" width="1.5" height="2"/><rect x="510" y="262" width="2" height="2"/><rect x="511" y="262" width="1.5" height="1.5"/><rect x="512" y="262" width="1" height="2"/><rect x="510" y="263" width="2" height="1"/><rect x="511" y="263" width="1" height="1"/><rect x="512" y="263" width="1" height="2"/><rect x="513" y="263" width="1.5" height="1"/><rect x="509" y="264" width="1.5" height="2"/><rect x="510" y="264" width="1" height="2"/><rect x="511" y="264" width="1" height="1.5"/><rect x="512" y="264" width="2" height="1"/><rect x="513" y="264" width="1" height="1"/><rect x="510" y="265" width="1.5" height="1.5"/><rect x="511" y="265" width="1" height="1"/><rect x="513" y="265" width="1" height="1.5"/><rect x="514" y="265" width="1" height="1"/><rect x="515" y="265" width="1" height="1"/><rect x="511" y="266" width="1" height="1.5"/><rect x="513" y="266" width="1" height="1"/><rect x="514" y="266" width="1" height="1.5"/><rect x="515" y="266" width="1" height="1"/><rect x="516" y="266" width="1" height="2"/><rect x="511" y="267" width="1" height="2"/><rect x="512" y="267" width="1" height="1.5"/><rect x="513" y="267" width="1" height="1.5"/><rect x="514" y="267" width="1" height="1"/><rect x="515" y="267" width="1" height="1.5"/><rect x="516" y="267" width="1" height="2"/><rect x="517" y="267" width="2" height="2"/><rect x="511" y="268" width="2" height="2"/><rect x="512" y="268" width="1" height="1"/><rect x="514" y="268" width="1.5" height="2"/><rect x="515" y="268" width="1" height="1"/><rect x="516" y="268" width="1.5" height="2"/><rect x="518" y="268" width="1" height="1"/><rect x="511" y="269" width="1.5" height="1"/><rect x="512" y="269" width="1" height="2"/><rect x="513" y="269" width="1" height="1"/><rect x="514" y="269" width="1" height="2"/><rect x="516" y="269" width="1" height="1.5"/><rect x="517" y="269" width="1.5" height="1"/><rect x="518" y="269" width="1.5" height="1.5"/><rect x="519" y="269" width="1" height="2"/><rect x="512" y="270" width="1" height="1"/><rect x="514" y="270" width="1" height="1"/><rect x="515" y="270" width="2" height="1"/><rect x="516" y="270" width="2" height="2"/><rect x="518" y="270" width="1" height="1.5"/><rect x="519" y="270" width="1" height="1.5"/><rect x="520" y="270" width="1" height="1"/><rect x="513" y="271" width="1.5" height="1.5"/><rect x="514" y="271" width="1" height="1"/><rect x="515" y="271" width="1.5" height="1.5"/><rect x="516" y="271" width="2" height="1.5"/><rect x="517" y="271" width="1" height="2"/><rect x="518" y="271" width="1.5" height="1"/><rect x="519" y="271" width="2" height="1.5"/><rect x="520" y="271" width="2" height="1"/><rect x="512" y="272" width="1" height="2"/><rect x="514" y="272" width="1" height="1"/><rect x="516" y="272" width="1" height="2"/><rect x="517" y="272" width="1.5" height="1.5"/><rect x="518" y="272" width="2" height="1"/><rect x="519" y="272" width="2" height="1.5"/><rect x="520" y="272" width="2" height="1"/><rect x="513" y="273" width="1" height="2"/><rect x="515" y="273" width="1.5" height="1.5"/><rect x="516" y="273" width="2" height="2"/><rect x="518" y="273" width="1" height="2"/><rect x="520" y="273" width="1" height="1.5"/><rect x="521" y="273" width="1" height="2"/><rect x="514" y="274" width="1" height="1"/><rect x="515" y="274" width="2" height="1"/><rect x="517" y="274" width="1" height="1.5"/><rect x="518" y="274" width="1.5" height="2"/><rect x="519" y="274" width="1.5" height="1.5"/><rect x="520" y="274" width="1.5" height="1.5"/><rect x="515" y="275" width="2" height="1.5"/><rect x="516" y="275" width="2" height="1"/><rect x="517" y="275" width="1" height="1"/><rect x="518" y="275" width="1.5" height="1"/><rect x="519" y="275" width="1" height="1"/><rect x="520" y="275" width="1.5" height="1"/><rect x="521" y="275" width="2" height="2"/><rect x="517" y="276" width="2" height="1"/><rect x="519" y="276" width="2" height="1.5"/><rect x="520" y="276" width="1" height="1.5"/><rect x="521" y="276" width="1" height="2"/><rect x="518" y="277" width="1.5" height="2"/><rect x="519" y="277" width="1.5" height="1"/></g>
<polygon points="482.0,277.0 487.0,274.5 489.0,276.5 485.0,280.8 482.0,280.0" fill="#f2d6d8" stroke="#f2d6d8" stroke-width="2.2" stroke-linejoin="round"/>
<g fill="#d6949a" filter="url(#bl)"><rect x="486" y="274" width="1.5" height="1.5"/><rect x="484" y="276" width="1" height="2"/><rect x="485" y="276" width="1" height="1"/><rect x="487" y="276" width="1.5" height="1"/><rect x="482" y="276" width="2" height="1.5"/><rect x="484" y="276" width="1.5" height="1.5"/><rect x="486" y="276" width="1" height="1.5"/><rect x="482" y="278" width="1" height="1.5"/><rect x="487" y="278" width="2" height="1"/><rect x="482" y="278" width="1.5" height="1"/><rect x="484" y="278" width="2" height="1"/><rect x="483" y="280" width="1" height="2"/><rect x="485" y="280" width="1" height="1.5"/></g>
<polygon points="468.5,289.0 475.0,285.6 481.0,288.0 480.0,293.0 474.0,295.0 469.0,293.0" fill="#d4e5f4" stroke="#d4e5f4" stroke-width="2.2" stroke-linejoin="round"/>
<g fill="#7ea2c9" filter="url(#bl)"><rect x="474" y="286" width="1" height="1.5"/><rect x="476" y="286" width="2" height="1"/><rect x="474" y="287" width="1.5" height="1.5"/><rect x="476" y="287" width="1" height="2"/><rect x="476" y="287" width="1.5" height="1.5"/><rect x="472" y="288" width="2" height="1.5"/><rect x="472" y="288" width="1" height="1"/><rect x="474" y="288" width="1.5" height="1.5"/><rect x="476" y="288" width="1.5" height="2"/><rect x="468" y="289" width="2" height="1.5"/><rect x="470" y="289" width="1" height="1"/><rect x="470" y="289" width="1.5" height="1"/><rect x="472" y="289" width="2" height="1"/><rect x="474" y="289" width="2" height="1.5"/><rect x="476" y="289" width="1.5" height="1"/><rect x="478" y="289" width="2" height="1.5"/><rect x="468" y="290" width="2" height="1"/><rect x="472" y="290" width="2" height="1.5"/><rect x="472" y="290" width="1" height="2"/><rect x="474" y="290" width="1" height="1"/><rect x="474" y="290" width="1" height="1.5"/><rect x="476" y="290" width="1" height="1"/><rect x="478" y="290" width="1.5" height="2"/><rect x="478" y="290" width="1" height="1"/><rect x="480" y="290" width="1" height="1"/><rect x="472" y="291" width="1" height="2"/><rect x="474" y="291" width="2" height="2"/><rect x="474" y="291" width="1" height="1.5"/><rect x="476" y="291" width="1" height="2"/><rect x="470" y="292" width="2" height="1"/><rect x="472" y="292" width="1" height="2"/><rect x="474" y="292" width="1" height="1.5"/><rect x="478" y="292" width="1" height="1"/><rect x="478" y="292" width="1" height="2"/><rect x="480" y="292" width="2" height="1"/><rect x="472" y="293" width="1" height="1.5"/><rect x="474" y="293" width="1.5" height="1.5"/><rect x="474" y="293" width="2" height="1.5"/><rect x="476" y="293" width="1.5" height="1"/><rect x="478" y="293" width="1.5" height="2"/><rect x="472" y="294" width="1" height="1"/><rect x="472" y="294" width="1" height="1"/><rect x="474" y="294" width="2" height="2"/><rect x="474" y="294" width="1" height="1"/></g>
<polygon points="444.8,294.0 452.0,290.0 456.0,286.4 460.0,290.0 463.0,296.0 458.0,302.0 448.0,302.0 444.8,299.0" fill="#f2d6d8" stroke="#f2d6d8" stroke-width="2.2" stroke-linejoin="round"/>
<g fill="#d6949a" filter="url(#bl)"><rect x="456" y="286" width="1" height="1"/><rect x="456" y="288" width="1.5" height="1"/><rect x="458" y="288" width="1" height="1.5"/><rect x="452" y="289" width="1.5" height="1.5"/><rect x="453" y="289" width="1" height="1"/><rect x="455" y="289" width="1" height="1.5"/><rect x="456" y="289" width="1" height="1.5"/><rect x="457" y="289" width="2" height="2"/><rect x="458" y="289" width="2" height="1"/><rect x="452" y="290" width="1.5" height="1"/><rect x="453" y="290" width="1" height="1"/><rect x="454" y="290" width="1.5" height="1.5"/><rect x="455" y="290" width="2" height="2"/><rect x="456" y="290" width="1" height="1.5"/><rect x="457" y="290" width="1.5" height="1"/><rect x="458" y="290" width="1.5" height="1"/><rect x="459" y="290" width="2" height="1"/><rect x="450" y="291" width="2" height="1"/><rect x="452" y="291" width="2" height="1"/><rect x="453" y="291" width="2" height="2"/><rect x="454" y="291" width="1" height="1.5"/><rect x="455" y="291" width="1" height="2"/><rect x="457" y="291" width="1" height="2"/><rect x="447" y="292" width="2" height="1"/><rect x="451" y="292" width="1" height="2"/><rect x="452" y="292" width="1.5" height="1.5"/><rect x="453" y="292" width="1" height="1"/><rect x="458" y="292" width="1.5" height="1"/><rect x="459" y="292" width="1" height="1.5"/><rect x="461" y="292" width="2" height="1"/><rect x="447" y="293" width="1.5" height="1"/><rect x="449" y="293" width="1" height="2"/><rect x="450" y="293" width="2" height="1"/><rect x="451" y="293" width="1.5" height="2"/><rect x="453" y="293" width="2" height="1.5"/><rect x="454" y="293" width="1" height="1"/><rect x="455" y="293" width="2" height="1"/><rect x="456" y="293" width="2" height="1"/><rect x="460" y="293" width="2" height="2"/><rect x="445" y="294" width="1.5" height="1"/><rect x="446" y="294" width="1" height="2"/><rect x="448" y="294" width="2" height="2"/><rect x="451" y="294" width="1.5" height="2"/><rect x="453" y="294" width="1" height="2"/><rect x="454" y="294" width="1" height="2"/><rect x="455" y="294" width="1.5" height="1.5"/><rect x="458" y="294" width="2" height="1"/><rect x="459" y="294" width="1.5" height="1"/><rect x="461" y="294" width="2" height="1.5"/><rect x="462" y="294" width="1.5" height="1.5"/><rect x="446" y="295" width="2" height="2"/><rect x="448" y="295" width="2" height="2"/><rect x="449" y="295" width="1" height="1"/><rect x="453" y="295" width="2" height="1"/><rect x="454" y="295" width="2" height="1.5"/><rect x="455" y="295" width="1.5" height="1"/><rect x="456" y="295" width="1.5" height="1"/><rect x="457" y="295" width="2" height="2"/><rect x="458" y="295" width="1.5" height="1.5"/><rect x="461" y="295" width="1" height="1.5"/><rect x="445" y="296" width="1" height="2"/><rect x="447" y="296" width="1" height="1"/><rect x="449" y="296" width="2" height="1"/><rect x="450" y="296" width="1" height="2"/><rect x="451" y="296" width="1.5" height="1"/><rect x="452" y="296" width="1.5" height="1.5"/><rect x="454" y="296" width="1.5" height="2"/><rect x="456" y="296" width="1" height="2"/><rect x="457" y="296" width="1" height="1"/><rect x="458" y="296" width="1" height="1"/><rect x="461" y="296" width="1" height="1"/><rect x="445" y="297" width="2" height="2"/><rect x="448" y="297" width="2" height="1"/><rect x="449" y="297" width="2" height="1"/><rect x="451" y="297" width="1.5" height="1"/><rect x="452" y="297" width="2" height="2"/><rect x="453" y="297" width="1" height="1"/><rect x="456" y="297" width="1" height="1"/><rect x="457" y="297" width="1" height="1"/><rect x="458" y="297" width="1.5" height="1.5"/><rect x="460" y="297" width="1.5" height="1.5"/><rect x="461" y="297" width="2" height="1"/><rect x="449" y="298" width="1.5" height="1"/><rect x="450" y="298" width="1" height="1.5"/><rect x="452" y="298" width="1" height="1"/><rect x="453" y="298" width="2" height="1.5"/><rect x="454" y="298" width="2" height="1"/><rect x="455" y="298" width="2" height="1.5"/><rect x="456" y="298" width="2" height="1.5"/><rect x="458" y="298" width="1.5" height="1"/><rect x="459" y="298" width="1" height="1"/><rect x="460" y="298" width="1" height="1"/><rect x="448" y="299" width="1" height="1.5"/><rect x="450" y="299" width="2" height="1"/><rect x="451" y="299" width="1.5" height="1"/><rect x="452" y="299" width="1" height="1"/><rect x="453" y="299" width="1" height="1"/><rect x="455" y="299" width="1.5" height="1"/><rect x="457" y="299" width="1.5" height="2"/><rect x="458" y="299" width="2" height="1"/><rect x="459" y="299" width="2" height="1"/><rect x="448" y="300" width="2" height="1.5"/><rect x="449" y="300" width="1" height="2"/><rect x="451" y="300" width="1.5" height="1"/><rect x="452" y="300" width="1" height="1.5"/><rect x="453" y="300" width="1" height="1.5"/><rect x="456" y="300" width="2" height="1"/><rect x="457" y="300" width="2" height="1"/><rect x="458" y="300" width="1" height="1"/><rect x="448" y="301" width="1.5" height="1.5"/><rect x="449" y="301" width="1" height="1"/><rect x="451" y="301" width="1" height="1"/><rect x="452" y="301" width="1" height="1"/><rect x="457" y="301" width="1" height="1.5"/></g>
<polygon points="458.0,294.0 463.0,293.0 464.0,299.0 459.0,300.0" fill="#d4e5f4" stroke="#d4e5f4" stroke-width="2.2" stroke-linejoin="round"/>
<g fill="#7ea2c9" filter="url(#bl)"><rect x="460" y="293" width="1" height="1"/><rect x="461" y="293" width="1" height="1"/><rect x="462" y="293" width="2" height="1.5"/><rect x="459" y="294" width="2" height="1"/><rect x="460" y="294" width="2" height="2"/><rect x="462" y="294" width="1.5" height="1"/><rect x="459" y="295" width="2" height="2"/><rect x="460" y="295" width="2" height="1"/><rect x="461" y="295" width="1" height="2"/><rect x="459" y="296" width="2" height="1.5"/><rect x="461" y="296" width="1.5" height="1"/><rect x="462" y="296" width="2" height="1.5"/><rect x="460" y="297" width="1" height="2"/><rect x="461" y="297" width="1" height="1"/><rect x="462" y="297" width="1.5" height="1"/><rect x="463" y="297" width="1" height="1"/><rect x="459" y="298" width="2" height="2"/><rect x="461" y="298" width="2" height="1"/><rect x="462" y="298" width="1" height="1.5"/><rect x="459" y="299" width="1.5" height="1"/></g>
<polygon points="406.8,306.0 412.4,306.0 412.4,308.5 406.8,308.5" fill="#f2d6d8" stroke="#f2d6d8" stroke-width="2.2" stroke-linejoin="round"/>
<g fill="#d6949a" filter="url(#bl)"><rect x="407" y="306" width="1" height="1"/><rect x="409" y="306" width="1" height="1.5"/><rect x="410" y="306" width="1.5" height="1"/><rect x="411" y="306" width="1" height="2"/><rect x="412" y="306" width="2" height="1.5"/><rect x="407" y="307" width="1" height="2"/><rect x="409" y="307" width="2" height="1"/></g>
<polygon points="605.0,246.6 609.0,246.6 610.3,254.0 606.0,254.0" fill="#f2d6d8" stroke="#f2d6d8" stroke-width="2.2" stroke-linejoin="round"/>
<g fill="#d6949a" filter="url(#bl)"><rect x="607" y="247" width="1.5" height="1.5"/><rect x="605" y="248" width="1" height="2"/><rect x="606" y="249" width="1" height="1"/><rect x="608" y="249" width="1" height="1.5"/><rect x="606" y="251" width="1" height="1"/><rect x="609" y="251" width="1" height="2"/><rect x="606" y="252" width="1.5" height="1.5"/><rect x="607" y="252" width="1" height="1"/><rect x="608" y="252" width="2" height="1.5"/><rect x="606" y="253" width="1.5" height="1"/><rect x="608" y="253" width="2" height="1"/></g>
<polygon points="614.5,248.0 619.0,246.6 621.8,256.0 620.0,266.5 616.0,262.0" fill="#f2d6d8" stroke="#f2d6d8" stroke-width="2.2" stroke-linejoin="round"/>
<g fill="#d6949a" filter="url(#bl)"><rect x="618" y="247" width="2" height="1"/><rect x="616" y="248" width="1" height="1"/><rect x="614" y="250" width="1" height="2"/><rect x="616" y="250" width="1.5" height="2"/><rect x="616" y="250" width="1.5" height="1"/><rect x="618" y="250" width="2" height="1"/><rect x="618" y="250" width="1.5" height="1"/><rect x="618" y="251" width="1.5" height="1.5"/><rect x="620" y="251" width="1.5" height="1"/><rect x="614" y="252" width="1" height="2"/><rect x="616" y="252" width="1.5" height="1.5"/><rect x="618" y="252" width="1.5" height="1"/><rect x="620" y="252" width="1.5" height="1.5"/><rect x="618" y="253" width="1.5" height="1"/><rect x="616" y="254" width="1" height="1.5"/><rect x="618" y="254" width="2" height="1"/><rect x="620" y="254" width="1" height="1"/><rect x="616" y="255" width="1.5" height="1.5"/><rect x="616" y="255" width="1" height="2"/><rect x="618" y="255" width="1" height="1.5"/><rect x="620" y="255" width="1.5" height="1"/><rect x="620" y="255" width="1.5" height="1"/><rect x="618" y="256" width="2" height="1"/><rect x="618" y="256" width="2" height="2"/><rect x="620" y="256" width="1" height="1"/><rect x="620" y="256" width="1" height="1.5"/><rect x="618" y="257" width="1" height="2"/><rect x="620" y="257" width="1" height="1"/><rect x="616" y="258" width="1" height="2"/><rect x="616" y="258" width="1" height="1"/><rect x="620" y="258" width="1" height="1.5"/><rect x="616" y="259" width="1" height="1"/><rect x="616" y="259" width="2" height="1"/><rect x="618" y="259" width="1" height="1"/><rect x="618" y="260" width="2" height="1"/><rect x="616" y="261" width="2" height="2"/><rect x="618" y="261" width="1" height="1"/><rect x="618" y="262" width="1" height="1"/><rect x="620" y="264" width="1" height="1"/></g>
<polygon points="602.0,258.0 608.0,257.0 612.4,264.0 610.0,267.6 604.0,265.0" fill="#f2d6d8" stroke="#f2d6d8" stroke-width="2.2" stroke-linejoin="round"/>
<g fill="#d6949a" filter="url(#bl)"><rect x="607" y="257" width="1.5" height="1"/><rect x="603" y="258" width="2" height="1"/><rect x="604" y="258" width="1" height="1"/><rect x="607" y="258" width="1" height="1"/><rect x="608" y="258" width="1" height="1.5"/><rect x="603" y="259" width="1" height="1"/><rect x="604" y="259" width="1" height="1.5"/><rect x="605" y="259" width="1" height="1"/><rect x="606" y="259" width="1.5" height="1.5"/><rect x="607" y="259" width="1.5" height="2"/><rect x="608" y="259" width="1" height="2"/><rect x="609" y="259" width="1" height="1.5"/><rect x="603" y="260" width="1.5" height="1.5"/><rect x="604" y="260" width="2" height="2"/><rect x="606" y="260" width="1" height="1.5"/><rect x="605" y="261" width="1.5" height="2"/><rect x="608" y="261" width="1" height="2"/><rect x="610" y="261" width="1" height="2"/><rect x="607" y="262" width="1" height="1.5"/><rect x="609" y="262" width="1.5" height="1"/><rect x="604" y="263" width="1" height="1"/><rect x="608" y="263" width="1" height="1.5"/><rect x="604" y="264" width="1" height="1"/><rect x="606" y="264" width="1.5" height="1"/><rect x="607" y="264" width="1.5" height="1"/><rect x="609" y="264" width="1" height="1"/><rect x="610" y="264" width="1" height="1"/><rect x="611" y="264" width="1" height="2"/><rect x="605" y="265" width="1.5" height="1.5"/><rect x="606" y="265" width="1" height="1.5"/><rect x="607" y="265" width="1.5" height="1.5"/><rect x="608" y="265" width="1.5" height="1"/><rect x="610" y="265" width="2" height="2"/></g>
<polygon points="596.7,269.0 602.0,268.6 607.2,275.0 605.0,278.0 599.0,276.0" fill="#f2d6d8" stroke="#f2d6d8" stroke-width="2.2" stroke-linejoin="round"/>
<g fill="#d6949a" filter="url(#bl)"><rect x="597" y="269" width="1" height="1"/><rect x="598" y="269" width="2" height="2"/><rect x="599" y="269" width="2" height="2"/><rect x="601" y="269" width="1" height="1.5"/><rect x="602" y="269" width="2" height="1.5"/><rect x="597" y="270" width="2" height="2"/><rect x="598" y="270" width="1" height="1"/><rect x="602" y="270" width="1.5" height="1"/><rect x="599" y="272" width="1.5" height="2"/><rect x="604" y="272" width="1" height="1"/><rect x="598" y="273" width="1" height="1.5"/><rect x="599" y="273" width="2" height="2"/><rect x="603" y="273" width="1" height="1"/><rect x="606" y="274" width="1.5" height="1.5"/><rect x="599" y="275" width="1.5" height="2"/><rect x="602" y="275" width="1" height="1"/><rect x="601" y="276" width="2" height="1"/><rect x="603" y="276" width="1" height="1"/><rect x="606" y="276" width="1" height="1"/><rect x="605" y="277" width="1" height="1.5"/></g>
<polygon points="641.0,264.4 645.0,265.0 647.0,270.0 645.0,273.9 643.0,270.0" fill="#f2d6d8" stroke="#f2d6d8" stroke-width="2.2" stroke-linejoin="round"/>
<g fill="#d6949a" filter="url(#bl)"><rect x="642" y="264" width="1" height="1"/><rect x="643" y="264" width="1.5" height="1"/><rect x="642" y="265" width="1.5" height="1"/><rect x="643" y="265" width="1" height="1"/><rect x="644" y="267" width="2" height="1"/><rect x="645" y="267" width="1" height="1"/><rect x="645" y="268" width="1.5" height="1"/><rect x="646" y="268" width="2" height="1"/><rect x="643" y="269" width="1.5" height="1"/><rect x="644" y="269" width="1" height="1.5"/><rect x="645" y="270" width="1" height="1"/><rect x="644" y="271" width="2" height="1"/><rect x="644" y="272" width="1" height="2"/></g>
<polygon points="600.9,290.0 605.0,289.6 607.2,293.0 603.0,295.0" fill="#f2d6d8" stroke="#f2d6d8" stroke-width="2.2" stroke-linejoin="round"/>
<g fill="#d6949a" filter="url(#bl)"><rect x="601" y="290" width="1.5" height="2"/><rect x="602" y="290" width="1.5" height="1"/><rect x="603" y="290" width="1.5" height="1.5"/><rect x="601" y="291" width="1" height="1"/><rect x="603" y="291" width="1" height="1"/><rect x="605" y="291" width="1" height="1"/><rect x="603" y="292" width="2" height="1.5"/><rect x="604" y="292" width="2" height="1.5"/><rect x="605" y="292" width="1" height="2"/><rect x="606" y="292" width="1" height="1"/><rect x="603" y="293" width="1" height="1.5"/><rect x="604" y="293" width="1.5" height="2"/><rect x="605" y="293" width="1" height="2"/><rect x="603" y="294" width="1" height="1"/></g>
<polygon points="597.7,300.0 602.0,295.0 607.0,297.0 609.3,305.0 606.0,307.4 599.0,305.0" fill="#d4e5f4" stroke="#d4e5f4" stroke-width="2.2" stroke-linejoin="round"/>
<g fill="#7ea2c9" filter="url(#bl)"><rect x="603" y="295" width="1" height="1"/><rect x="604" y="296" width="2" height="2"/><rect x="605" y="296" width="2" height="1.5"/><rect x="600" y="297" width="1" height="2"/><rect x="601" y="297" width="1.5" height="1"/><rect x="604" y="297" width="1" height="1"/><rect x="606" y="297" width="1.5" height="1"/><rect x="599" y="298" width="2" height="1"/><rect x="600" y="298" width="1.5" height="1.5"/><rect x="601" y="298" width="2" height="2"/><rect x="604" y="298" width="1.5" height="1"/><rect x="607" y="298" width="1.5" height="1.5"/><rect x="598" y="299" width="1" height="1"/><rect x="599" y="299" width="2" height="1"/><rect x="603" y="299" width="1" height="1.5"/><rect x="607" y="299" width="1.5" height="1"/><rect x="599" y="300" width="1.5" height="1"/><rect x="600" y="300" width="1" height="1"/><rect x="601" y="300" width="2" height="1.5"/><rect x="602" y="300" width="2" height="2"/><rect x="598" y="301" width="1.5" height="1"/><rect x="600" y="301" width="1" height="1.5"/><rect x="601" y="301" width="1.5" height="1.5"/><rect x="602" y="301" width="1" height="1"/><rect x="604" y="301" width="1" height="1"/><rect x="605" y="301" width="1.5" height="1.5"/><rect x="606" y="301" width="2" height="2"/><rect x="608" y="301" width="1.5" height="1"/><rect x="599" y="302" width="1" height="1"/><rect x="601" y="302" width="1" height="1"/><rect x="602" y="302" width="1" height="1"/><rect x="604" y="302" width="1" height="1.5"/><rect x="607" y="302" width="1" height="1"/><rect x="599" y="303" width="1" height="2"/><rect x="600" y="303" width="2" height="1"/><rect x="601" y="303" width="1" height="2"/><rect x="602" y="303" width="1.5" height="1"/><rect x="603" y="303" width="1" height="2"/><rect x="605" y="303" width="1.5" height="2"/><rect x="600" y="304" width="1.5" height="1"/><rect x="602" y="304" width="1" height="1"/><rect x="605" y="304" width="1" height="1"/><rect x="606" y="304" width="1" height="1.5"/><rect x="607" y="304" width="1" height="2"/><rect x="608" y="304" width="1.5" height="1"/><rect x="601" y="305" width="2" height="1.5"/><rect x="606" y="305" width="1" height="1"/><rect x="607" y="305" width="1" height="1"/><rect x="604" y="306" width="1" height="1.5"/><rect x="605" y="306" width="2" height="1"/><rect x="607" y="306" width="1.5" height="2"/></g>
<polygon points="320.8,508.0 328.0,506.7 333.3,510.0 331.0,515.0 323.0,514.0" fill="#f2d6d8" stroke="#f2d6d8" stroke-width="2.2" stroke-linejoin="round"/>
<g fill="#d6949a" filter="url(#bl)"><rect x="327" y="507" width="2" height="1.5"/><rect x="321" y="508" width="1" height="2"/><rect x="322" y="508" width="1" height="1"/><rect x="326" y="508" width="1" height="2"/><rect x="327" y="508" width="2" height="1"/><rect x="328" y="508" width="2" height="1.5"/><rect x="330" y="508" width="1" height="2"/><rect x="321" y="509" width="1" height="2"/><rect x="324" y="509" width="1" height="2"/><rect x="327" y="509" width="1.5" height="1"/><rect x="328" y="509" width="1" height="1"/><rect x="330" y="509" width="1.5" height="1"/><rect x="331" y="509" width="2" height="1.5"/><rect x="327" y="510" width="2" height="1.5"/><rect x="328" y="510" width="1" height="1"/><rect x="329" y="510" width="1" height="2"/><rect x="330" y="510" width="1" height="1"/><rect x="332" y="510" width="2" height="1"/><rect x="325" y="511" width="2" height="2"/><rect x="326" y="511" width="2" height="1.5"/><rect x="327" y="511" width="1" height="1"/><rect x="328" y="511" width="2" height="1"/><rect x="330" y="511" width="2" height="1"/><rect x="325" y="512" width="2" height="1.5"/><rect x="326" y="512" width="2" height="1"/><rect x="323" y="513" width="1" height="1"/><rect x="326" y="513" width="2" height="1.5"/><rect x="327" y="513" width="1" height="2"/><rect x="330" y="513" width="1.5" height="2"/><rect x="325" y="514" width="1" height="2"/><rect x="326" y="514" width="1" height="1"/><rect x="327" y="514" width="2" height="2"/><rect x="329" y="514" width="1" height="1"/></g>
<polygon points="351.7,500.0 355.0,499.0 357.0,503.0 356.7,518.0 352.0,519.0 351.0,510.0" fill="#d4e5f4" stroke="#d4e5f4" stroke-width="2.2" stroke-linejoin="round"/>
<g fill="#7ea2c9" filter="url(#bl)"><rect x="354" y="499" width="1.5" height="1"/><rect x="352" y="500" width="2" height="2"/><rect x="354" y="500" width="1.5" height="1.5"/><rect x="355" y="500" width="1" height="2"/><rect x="353" y="501" width="1.5" height="1"/><rect x="354" y="501" width="1" height="2"/><rect x="353" y="502" width="1" height="1"/><rect x="356" y="502" width="2" height="1.5"/><rect x="352" y="503" width="1" height="1"/><rect x="353" y="503" width="1" height="1.5"/><rect x="354" y="503" width="2" height="1.5"/><rect x="356" y="503" width="2" height="1"/><rect x="351" y="504" width="2" height="1"/><rect x="352" y="504" width="1" height="1"/><rect x="353" y="504" width="1" height="1"/><rect x="354" y="504" width="1.5" height="1"/><rect x="351" y="505" width="1" height="2"/><rect x="353" y="506" width="1.5" height="2"/><rect x="354" y="506" width="1.5" height="1"/><rect x="356" y="506" width="2" height="1"/><rect x="351" y="507" width="2" height="2"/><rect x="352" y="507" width="1" height="1"/><rect x="355" y="507" width="1.5" height="1"/><rect x="351" y="508" width="1.5" height="2"/><rect x="352" y="508" width="1" height="1.5"/><rect x="354" y="508" width="1" height="1.5"/><rect x="355" y="508" width="2" height="1"/><rect x="351" y="509" width="2" height="1"/><rect x="352" y="509" width="1" height="1"/><rect x="356" y="509" width="1" height="1.5"/><rect x="353" y="510" width="1" height="2"/><rect x="355" y="510" width="1" height="1.5"/><rect x="356" y="510" width="1" height="1"/><rect x="351" y="511" width="1" height="2"/><rect x="352" y="511" width="1.5" height="1.5"/><rect x="353" y="511" width="2" height="1"/><rect x="356" y="511" width="1" height="1"/><rect x="351" y="512" width="2" height="1"/><rect x="352" y="512" width="1" height="1"/><rect x="354" y="512" width="2" height="1.5"/><rect x="355" y="512" width="1.5" height="2"/><rect x="356" y="512" width="1" height="2"/><rect x="351" y="513" width="1" height="1"/><rect x="352" y="513" width="1" height="1"/><rect x="354" y="513" width="1" height="1"/><rect x="356" y="513" width="1" height="1"/><rect x="351" y="514" width="1" height="1.5"/><rect x="353" y="514" width="1" height="1"/><rect x="354" y="514" width="2" height="1"/><rect x="352" y="515" width="2" height="1.5"/><rect x="353" y="515" width="1" height="1"/><rect x="356" y="515" width="1" height="2"/><rect x="352" y="516" width="2" height="1"/><rect x="353" y="516" width="2" height="1.5"/><rect x="356" y="516" width="1" height="1"/><rect x="352" y="517" width="1" height="1"/><rect x="354" y="517" width="2" height="1"/><rect x="353" y="518" width="1" height="2"/></g>
<polygon points="356.7,503.3 362.0,502.0 365.0,506.0 363.0,511.7 357.0,511.0" fill="#f2d6d8" stroke="#f2d6d8" stroke-width="2.2" stroke-linejoin="round"/>
<g fill="#d6949a" filter="url(#bl)"><rect x="361" y="502" width="2" height="2"/><rect x="360" y="503" width="1" height="1"/><rect x="361" y="503" width="2" height="1"/><rect x="357" y="504" width="1.5" height="1.5"/><rect x="359" y="504" width="1" height="1"/><rect x="362" y="504" width="1.5" height="1"/><rect x="363" y="504" width="1.5" height="1"/><rect x="358" y="505" width="1" height="2"/><rect x="357" y="506" width="1.5" height="1"/><rect x="362" y="506" width="1.5" height="1"/><rect x="364" y="506" width="2" height="2"/><rect x="357" y="507" width="1" height="1"/><rect x="358" y="507" width="1.5" height="1.5"/><rect x="361" y="507" width="1" height="1.5"/><rect x="363" y="507" width="1" height="1"/><rect x="357" y="508" width="1" height="1.5"/><rect x="359" y="508" width="1.5" height="1"/><rect x="361" y="508" width="1.5" height="1"/><rect x="362" y="508" width="2" height="1"/><rect x="363" y="508" width="1.5" height="1"/><rect x="357" y="509" width="1" height="2"/><rect x="360" y="509" width="1" height="1"/><rect x="362" y="509" width="1" height="1.5"/><rect x="363" y="509" width="2" height="2"/><rect x="357" y="510" width="1" height="1"/><rect x="358" y="510" width="1.5" height="1"/><rect x="363" y="510" width="1.5" height="1"/></g>
<polygon points="366.7,508.0 372.0,505.0 378.3,503.3 377.0,507.0 370.0,511.7" fill="#f2d6d8" stroke="#f2d6d8" stroke-width="2.2" stroke-linejoin="round"/>
<g fill="#d6949a" filter="url(#bl)"><rect x="377" y="503" width="1" height="1.5"/><rect x="375" y="504" width="1" height="1.5"/><rect x="377" y="504" width="1" height="1"/><rect x="372" y="505" width="1" height="1"/><rect x="373" y="505" width="1" height="1"/><rect x="370" y="506" width="2" height="1"/><rect x="371" y="506" width="1.5" height="2"/><rect x="372" y="506" width="1" height="2"/><rect x="374" y="506" width="2" height="2"/><rect x="367" y="507" width="1.5" height="1"/><rect x="368" y="507" width="2" height="1.5"/><rect x="370" y="507" width="1" height="1"/><rect x="371" y="507" width="1" height="1"/><rect x="372" y="507" width="1" height="1"/><rect x="374" y="507" width="1" height="1"/><rect x="369" y="508" width="1" height="1.5"/><rect x="372" y="508" width="1.5" height="1"/><rect x="374" y="508" width="1" height="1"/><rect x="370" y="509" width="1.5" height="1.5"/><rect x="369" y="510" width="2" height="1"/><rect x="371" y="510" width="2" height="1.5"/></g>
<polygon points="341.7,526.0 345.0,525.0 350.0,530.0 348.0,534.0 343.0,531.0" fill="#f2d6d8" stroke="#f2d6d8" stroke-width="2.2" stroke-linejoin="round"/>
<g fill="#d6949a" filter="url(#bl)"><rect x="344" y="526" width="1" height="1.5"/><rect x="345" y="526" width="2" height="1"/><rect x="344" y="527" width="1" height="2"/><rect x="345" y="527" width="1.5" height="2"/><rect x="347" y="527" width="1.5" height="2"/><rect x="343" y="528" width="1" height="1"/><rect x="344" y="528" width="1.5" height="1"/><rect x="345" y="528" width="1" height="1"/><rect x="348" y="528" width="1.5" height="2"/><rect x="343" y="529" width="1" height="1"/><rect x="345" y="529" width="1.5" height="2"/><rect x="349" y="529" width="1.5" height="2"/><rect x="343" y="530" width="1" height="1"/><rect x="346" y="530" width="1" height="2"/><rect x="347" y="530" width="1" height="2"/><rect x="348" y="530" width="1.5" height="1.5"/><rect x="349" y="530" width="2" height="1"/><rect x="344" y="531" width="1" height="2"/><rect x="345" y="531" width="1.5" height="1"/><rect x="346" y="531" width="2" height="1"/><rect x="348" y="531" width="2" height="1"/><rect x="346" y="532" width="1" height="2"/><rect x="347" y="532" width="1" height="1"/><rect x="347" y="533" width="1" height="2"/><rect x="348" y="533" width="1" height="1.5"/></g>
<polygon points="354.0,540.0 356.7,540.0 356.7,543.3 354.0,543.3" fill="#f2d6d8" stroke="#f2d6d8" stroke-width="2.2" stroke-linejoin="round"/>
<g fill="#d6949a" filter="url(#bl)"><rect x="354" y="540" width="2" height="1"/><rect x="355" y="540" width="1" height="2"/><rect x="354" y="541" width="2" height="1"/><rect x="355" y="541" width="1" height="2"/><rect x="354" y="542" width="2" height="1.5"/><rect x="355" y="542" width="2" height="2"/><rect x="356" y="542" width="1.5" height="2"/></g>
<polygon points="360.0,569.0 368.0,565.5 374.0,562.0 375.8,563.5 372.0,568.0 362.0,572.0" fill="#f2d6d8" stroke="#f2d6d8" stroke-width="2.2" stroke-linejoin="round"/>
<g fill="#d6949a" filter="url(#bl)"><rect x="373" y="562" width="1.5" height="1"/><rect x="372" y="563" width="1" height="1"/><rect x="373" y="563" width="1" height="1"/><rect x="374" y="563" width="1.5" height="1.5"/><rect x="375" y="563" width="1.5" height="1"/><rect x="371" y="564" width="1" height="1"/><rect x="372" y="564" width="1.5" height="1"/><rect x="368" y="565" width="1.5" height="1.5"/><rect x="369" y="565" width="1" height="1"/><rect x="371" y="565" width="1" height="1"/><rect x="373" y="565" width="1" height="2"/><rect x="367" y="566" width="1" height="1.5"/><rect x="368" y="566" width="1" height="1.5"/><rect x="369" y="566" width="1.5" height="1.5"/><rect x="370" y="566" width="1.5" height="1.5"/><rect x="371" y="566" width="2" height="1"/><rect x="363" y="567" width="2" height="1"/><rect x="364" y="567" width="1.5" height="2"/><rect x="365" y="567" width="2" height="1"/><rect x="367" y="567" width="1.5" height="2"/><rect x="368" y="567" width="1" height="1"/><rect x="369" y="567" width="1" height="1"/><rect x="364" y="568" width="1" height="1.5"/><rect x="367" y="568" width="1" height="1"/><rect x="368" y="568" width="2" height="1"/><rect x="370" y="568" width="1" height="1"/><rect x="360" y="569" width="1" height="1.5"/><rect x="362" y="569" width="2" height="1"/><rect x="363" y="569" width="2" height="1.5"/><rect x="364" y="569" width="2" height="2"/><rect x="365" y="569" width="2" height="1.5"/><rect x="366" y="569" width="1" height="1.5"/><rect x="367" y="569" width="2" height="1"/><rect x="362" y="570" width="1" height="1.5"/><rect x="363" y="570" width="2" height="1.5"/><rect x="364" y="570" width="2" height="1.5"/><rect x="365" y="570" width="1" height="2"/></g>
<polygon points="411.7,501.7 416.7,500.0 431.7,498.3 433.3,501.7 429.2,505.0 430.0,515.0 419.2,517.5 415.0,505.8" fill="#f2d6d8" stroke="#f2d6d8" stroke-width="2.2" stroke-linejoin="round"/>
<polygon points="411.7,501.7 416.7,500.0 431.7,498.3 433.3,501.7 429.2,505.0 430.0,515.0 419.2,517.5 415.0,505.8" fill="#e0969b"/>
<polygon points="399.2,505.0 406.7,505.5 405.0,510.8 401.0,510.0" fill="#f2d6d8" stroke="#f2d6d8" stroke-width="2.2" stroke-linejoin="round"/>
<polygon points="399.2,505.0 406.7,505.5 405.0,510.8 401.0,510.0" fill="#e0969b"/>
<polygon points="391.7,509.0 396.7,509.0 396.7,511.0 391.7,511.0" fill="#f2d6d8" stroke="#f2d6d8" stroke-width="2.2" stroke-linejoin="round"/>
<g fill="#d6949a" filter="url(#bl)"><rect x="395" y="509" width="1.5" height="1.5"/><rect x="396" y="509" width="1" height="1"/><rect x="393" y="510" width="1" height="1"/><rect x="394" y="510" width="2" height="1"/><rect x="395" y="510" width="2" height="1"/></g>
<polygon points="231.0,523.0 234.5,523.0 234.5,526.0 231.0,526.0" fill="#f2d6d8" stroke="#f2d6d8" stroke-width="2.2" stroke-linejoin="round"/>
<g fill="#d6949a" filter="url(#bl)"><rect x="231" y="523" width="1" height="1.5"/><rect x="231" y="524" width="1.5" height="1"/><rect x="232" y="524" width="1" height="2"/><rect x="233" y="524" width="2" height="1.5"/><rect x="233" y="525" width="1.5" height="1"/></g></svg>
<div class="ctl" style="top:10px;height:27.5px"><svg style="position:absolute;left:-0.4px;top:-1px" width="28" height="28" viewBox="0 0 28 28"><circle cx="14.4" cy="12.8" r="4.4" fill="none" stroke="#777" stroke-width="1.3"/><line x1="11.2" y1="16" x2="8.2" y2="19.2" stroke="#777" stroke-width="1.6" stroke-linecap="round"/></svg></div>
<div class="ctl" style="top:51px;height:102.5px"><svg style="position:absolute;left:-0.4px;top:-1px" width="28" height="104" viewBox="0 0 28 104"><path d="M8.3 14.9H18.5M13.4 10.2V19.8" stroke="#666" stroke-width="2"/><path d="M8.3 36.8H18.5" stroke="#666" stroke-width="2"/><path d="M6.1 59L13.3 52.3L20.5 59M7.3 57.6V65.6H19.7V57.6M11.5 65.6V59.6H15.3V65.6" fill="none" stroke="#707070" stroke-width="1.1"/><path d="M3 73.3H23.6" stroke="#dcdcdc" stroke-width="1"/><path d="M10.4 82.9L17.1 87.9L10.4 92.9Z" fill="#707070"/></svg></div>
<div id="attr">© 2023 Mapbox &nbsp;© OpenStreetMap</div>
</div>

<div id="right" class="rp">
<div class="lbl" style="top:7.5px;color:#111;-webkit-text-stroke:0.2px #111">Кадастровая стоимость за кв.м</div>
<div style="position:absolute;left:47.6px;top:28.3px;width:150.8px;height:18.2px;display:flex;border-top:1.3px solid #8a8a8a;border-left:1.5px solid #999">
<div style="width:38.2px;background:#e1959a;position:relative"><i style="position:absolute;right:0;bottom:0;width:1.5px;height:2px;background:#8b1c24"></i></div><div style="width:35.3px;background:#79add4"></div><div style="width:36.9px;background:#4f80b0"></div><div style="width:38.9px;background:#2d5b8a"></div>
</div>
<svg style="position:absolute;left:212px;top:57px" width="30" height="12" viewBox="0 0 30 12"><path d="M1.5 1.5H10.5L7 5.8V10.5H5V5.8Z" fill="none" stroke="#cfcfcf" stroke-width="1"/><path d="M19.5 4.2H26.5L23 9Z" fill="#555"/></svg>
<div class="lbl" style="top:58.7px">Форма собственности</div>
<div class="dd" style="top:74px"><span>(All)</span><i></i></div>
<div class="lbl" style="top:114.9px">Назначение земли</div>
<div class="dd" style="top:130px"><span>(All)</span><i></i></div>
<div class="lbl" style="top:170.9px">Категория земель</div>
<div class="dd" style="top:186px"><span>(All)</span><i></i></div>
<div class="lbl" style="top:226.9px">Кадастровая стоимость</div>
<div class="lbl" style="top:247px;left:12px;color:#555">771</div>
<div class="lbl" style="top:247px;left:auto;right:11.5px;color:#555;letter-spacing:-0.35px">1,808,523,024</div>
<svg style="position:absolute;left:10px;top:265px" width="232" height="16" viewBox="0 0 232 16"><rect x="10" y="6.4" width="210.5" height="3.4" fill="#c9c9c9"/><path d="M10.2 1.2H6.5A5.6 6.6 0 0 0 6.5 14.5H10.2Z" fill="#fff" stroke="#666" stroke-width="0.9"/><path d="M220.3 1.2H224A5.6 6.6 0 0 1 224 14.5H220.3Z" fill="#fff" stroke="#666" stroke-width="0.9"/></svg>
<div class="lbl" style="top:296.5px">Расстояние до Москвы (км)</div>
<svg style="position:absolute;left:0;top:495px" width="250" height="87" viewBox="0 0 250 87"><rect x="44" y="16.3" width="197" height="1.3" fill="#efefef"/><rect x="44" y="37.3" width="197" height="1.3" fill="#efefef"/><rect x="44" y="57.2" width="197" height="1.3" fill="#efefef"/><rect x="44.00" y="74.0" width="4.9" height="4" fill="#f6c2c4"/><rect x="44.00" y="74.0" width="3.6" height="4" fill="#d5575b" stroke="#8c4a4c" stroke-width="0.5"/><rect x="48.88" y="75.0" width="4.9" height="3" fill="#f6c2c4"/><rect x="48.88" y="75.0" width="3.6" height="3" fill="#d5575b" stroke="#8c4a4c" stroke-width="0.5"/><rect x="53.76" y="70.0" width="4.9" height="8" fill="#f6c2c4"/><rect x="53.76" y="70.0" width="3.6" height="8" fill="#d5575b" stroke="#8c4a4c" stroke-width="0.5"/><rect x="58.64" y="9.0" width="4.9" height="69" fill="#f6c2c4"/><rect x="58.64" y="9.0" width="3.6" height="69" fill="#d5575b" stroke="#8c4a4c" stroke-width="0.5"/><rect x="63.52" y="44.0" width="4.9" height="34" fill="#f6c2c4"/><rect x="63.52" y="44.0" width="3.6" height="34" fill="#d5575b" stroke="#8c4a4c" stroke-width="0.5"/><rect x="68.40" y="48.0" width="4.9" height="30" fill="#f6c2c4"/><rect x="68.40" y="48.0" width="3.6" height="30" fill="#d5575b" stroke="#8c4a4c" stroke-width="0.5"/><rect x="73.28" y="60.0" width="4.9" height="18" fill="#f6c2c4"/><rect x="73.28" y="60.0" width="3.6" height="18" fill="#d5575b" stroke="#8c4a4c" stroke-width="0.5"/><rect x="78.16" y="61.0" width="4.9" height="17" fill="#f6c2c4"/><rect x="78.16" y="61.0" width="3.6" height="17" fill="#d5575b" stroke="#8c4a4c" stroke-width="0.5"/><rect x="83.04" y="63.0" width="4.9" height="15" fill="#f6c2c4"/><rect x="83.04" y="63.0" width="3.6" height="15" fill="#d5575b" stroke="#8c4a4c" stroke-width="0.5"/><rect x="87.92" y="62.2" width="4.9" height="15.8" fill="#f6c2c4"/><rect x="87.92" y="62.2" width="3.6" height="15.8" fill="#d5575b" stroke="#8c4a4c" stroke-width="0.5"/><rect x="92.80" y="62.2" width="4.9" height="15.8" fill="#f6c2c4"/><rect x="92.80" y="62.2" width="3.6" height="15.8" fill="#d5575b" stroke="#8c4a4c" stroke-width="0.5"/><rect x="97.68" y="60.0" width="4.9" height="18" fill="#f6c2c4"/><rect x="97.68" y="60.0" width="3.6" height="18" fill="#d5575b" stroke="#8c4a4c" stroke-width="0.5"/><rect x="102.56" y="58.0" width="4.9" height="20" fill="#f6c2c4"/><rect x="102.56" y="58.0" width="3.6" height="20" fill="#d5575b" stroke="#8c4a4c" stroke-width="0.5"/><rect x="107.44" y="56.2" width="4.9" height="21.8" fill="#f6c2c4"/><rect x="107.44" y="56.2" width="3.6" height="21.8" fill="#d5575b" stroke="#8c4a4c" stroke-width="0.5"/><rect x="112.32" y="53.0" width="4.9" height="25" fill="#f6c2c4"/><rect x="112.32" y="53.0" width="3.6" height="25" fill="#d5575b" stroke="#8c4a4c" stroke-width="0.5"/><rect x="117.20" y="54.0" width="4.9" height="24" fill="#f6c2c4"/><rect x="117.20" y="54.0" width="3.6" height="24" fill="#d5575b" stroke="#8c4a4c" stroke-width="0.5"/><rect x="122.08" y="44.0" width="4.9" height="34" fill="#f6c2c4"/><rect x="122.08" y="44.0" width="3.6" height="34" fill="#d5575b" stroke="#8c4a4c" stroke-width="0.5"/><rect x="126.96" y="49.0" width="4.9" height="29" fill="#f6c2c4"/><rect x="126.96" y="49.0" width="3.6" height="29" fill="#d5575b" stroke="#8c4a4c" stroke-width="0.5"/><rect x="131.84" y="50.0" width="4.9" height="28" fill="#f6c2c4"/><rect x="131.84" y="50.0" width="3.6" height="28" fill="#d5575b" stroke="#8c4a4c" stroke-width="0.5"/><rect x="136.72" y="44.0" width="4.9" height="34" fill="#f6c2c4"/><rect x="136.72" y="44.0" width="3.6" height="34" fill="#d5575b" stroke="#8c4a4c" stroke-width="0.5"/><rect x="141.60" y="62.0" width="4.9" height="16" fill="#f6c2c4"/><rect x="141.60" y="62.0" width="3.6" height="16" fill="#d5575b" stroke="#8c4a4c" stroke-width="0.5"/><rect x="146.48" y="65.0" width="4.9" height="13" fill="#f6c2c4"/><rect x="146.48" y="65.0" width="3.6" height="13" fill="#d5575b" stroke="#8c4a4c" stroke-width="0.5"/><rect x="151.36" y="69.0" width="4.9" height="9" fill="#f6c2c4"/><rect x="151.36" y="69.0" width="3.6" height="9" fill="#d5575b" stroke="#8c4a4c" stroke-width="0.5"/><rect x="156.24" y="69.0" width="4.9" height="9" fill="#f6c2c4"/><rect x="156.24" y="69.0" width="3.6" height="9" fill="#d5575b" stroke="#8c4a4c" stroke-width="0.5"/><rect x="161.12" y="70.0" width="4.9" height="8" fill="#f6c2c4"/><rect x="161.12" y="70.0" width="3.6" height="8" fill="#d5575b" stroke="#8c4a4c" stroke-width="0.5"/><rect x="166.00" y="70.0" width="4.9" height="8" fill="#f6c2c4"/><rect x="166.00" y="70.0" width="3.6" height="8" fill="#d5575b" stroke="#8c4a4c" stroke-width="0.5"/><rect x="170.88" y="71.1" width="4.9" height="6.9" fill="#f6c2c4"/><rect x="170.88" y="71.1" width="3.6" height="6.9" fill="#d5575b" stroke="#8c4a4c" stroke-width="0.5"/><rect x="175.76" y="72.8" width="4.9" height="5.2" fill="#f6c2c4"/><rect x="175.76" y="72.8" width="3.6" height="5.2" fill="#d5575b" stroke="#8c4a4c" stroke-width="0.5"/><rect x="180.64" y="74.0" width="4.9" height="4" fill="#f6c2c4"/><rect x="180.64" y="74.0" width="3.6" height="4" fill="#d5575b" stroke="#8c4a4c" stroke-width="0.5"/><rect x="185.52" y="72.1" width="4.9" height="5.9" fill="#f6c2c4"/><rect x="185.52" y="72.1" width="3.6" height="5.9" fill="#d5575b" stroke="#8c4a4c" stroke-width="0.5"/><rect x="190.40" y="75.0" width="4.9" height="3" fill="#f6c2c4"/><rect x="190.40" y="75.0" width="3.6" height="3" fill="#d5575b" stroke="#8c4a4c" stroke-width="0.5"/><rect x="195.28" y="76.0" width="4.9" height="2" fill="#f6c2c4"/><rect x="195.28" y="76.0" width="3.6" height="2" fill="#d5575b" stroke="#8c4a4c" stroke-width="0.5"/><rect x="200.16" y="76.0" width="4.9" height="2" fill="#f6c2c4"/><rect x="200.16" y="76.0" width="3.6" height="2" fill="#d5575b" stroke="#8c4a4c" stroke-width="0.5"/><rect x="205.04" y="76.0" width="4.9" height="2" fill="#f6c2c4"/><rect x="205.04" y="76.0" width="3.6" height="2" fill="#d5575b" stroke="#8c4a4c" stroke-width="0.5"/><rect x="209.92" y="75.0" width="4.9" height="3" fill="#f6c2c4"/><rect x="209.92" y="75.0" width="3.6" height="3" fill="#d5575b" stroke="#8c4a4c" stroke-width="0.5"/><path d="M215.8 77.3H242" stroke="#aaa" stroke-width="1" stroke-dasharray="3,2"/><text x="35.8" y="21.7" text-anchor="end" font-family="DejaVu Sans, sans-serif" font-size="11" fill="#888">1500</text><text x="35.8" y="43.0" text-anchor="end" font-family="DejaVu Sans, sans-serif" font-size="11" fill="#888">1000</text><text x="35.8" y="62.8" text-anchor="end" font-family="DejaVu Sans, sans-serif" font-size="11" fill="#888">500</text></svg>
</div>

<div id="tip">
<div class="l" style="top:13px">Кадастровый номер участка:</div>
<div class="l" style="top:28.5px">Адрес:</div>
<div class="l" style="top:59.5px">Кадастровая стоимость:</div>
<div class="l" style="top:75px">Площадь:</div>
<div class="l" style="top:90.5px">Кадастровая цена за кв.м:</div>
<div class="l" style="top:106px">Форма собственности:</div>
<div class="l" style="top:121.5px">Категория земель:</div>
<div class="l" style="top:137px">Назначение земли:</div>
<div class="l" style="top:152.5px">Ограничения защитных зон:</div>
<div class="v" style="top:13px">69:15:0090101:106</div>
<div class="v" style="top:28.5px">р-н Конаковский ориентир местоположения вне границ Юрьево-Девичьевское сельское<br>поселение с. Юрьево-Девичье</div>
<div class="v" style="top:59.5px">3,533,501</div>
<div class="v" style="top:75px">3,716</div>
<div class="v" style="top:90.5px">951</div>
<div class="v" style="top:106px">Не определено</div>
<div class="v" style="top:121.5px">Неизвестно</div>
<div class="v" style="top:137px">Жилая застройка ИЖС</div>
</div>
<div style="position:absolute;left:0;top:0;width:900px;height:582px;border-radius:2.5px;box-shadow:0 0 0 5px #3a3a3a;pointer-events:none"></div>
</body></html>
